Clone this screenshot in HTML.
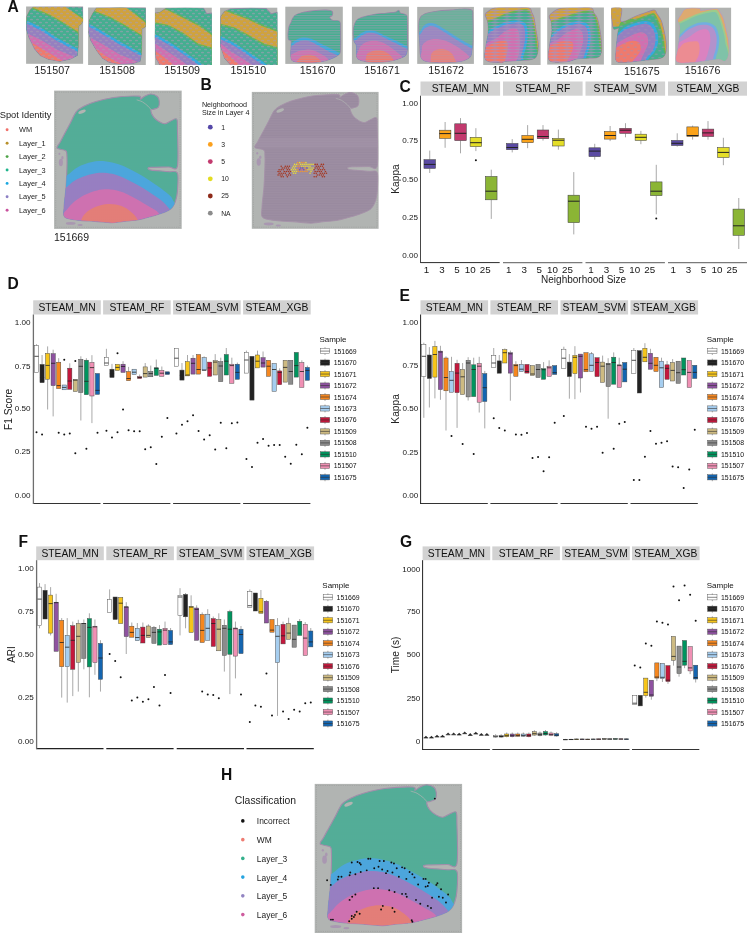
<!DOCTYPE html>
<html lang="en"><head><meta charset="utf-8"><title>Figure</title>
<style>html,body{margin:0;padding:0;background:#fff}body{width:747px;height:933px;overflow:hidden}svg{display:block}</style>
</head><body>
<svg width="747" height="933" viewBox="0 0 747 933" font-family='"Liberation Sans", sans-serif'>
<defs>
<pattern id="pdots" width="2" height="1.732" patternUnits="userSpaceOnUse"><g fill="#A394AC" opacity="0.42"><circle cx="0" cy="0" r="0.45"/><circle cx="2" cy="0" r="0.45"/><circle cx="1" cy="0.866" r="0.45"/><circle cx="0" cy="1.732" r="0.45"/><circle cx="2" cy="1.732" r="0.45"/></g></pattern>
<pattern id="pdotsB" width="2" height="1.7" patternUnits="userSpaceOnUse"><rect x="0" y="0" width="2" height="0.5" fill="#B0A2B4" opacity="0.3"/></pattern>
<pattern id="meshA" width="6" height="6" patternUnits="userSpaceOnUse"><ellipse cx="1.5" cy="1.5" rx="1.55" ry="0.85" fill="#A89CB6"/><ellipse cx="4.5" cy="4.5" rx="1.55" ry="0.85" fill="#A89CB6"/></pattern>
<pattern id="meshC" width="7" height="7" patternUnits="userSpaceOnUse"><ellipse cx="1.75" cy="1.75" rx="1.7" ry="0.8" fill="#A290B4"/><ellipse cx="5.25" cy="5.25" rx="1.7" ry="0.8" fill="#A290B4"/></pattern>
<pattern id="stripe3" width="12" height="3" patternUnits="userSpaceOnUse"><path d="M0 0.9 Q3 0.2 6 0.9 T12 0.9 V2.1 Q9 1.4 6 2.1 T0 2.1Z" fill="#A894BC"/></pattern>
<pattern id="stripe25" width="4" height="2.5" patternUnits="userSpaceOnUse"><rect x="0" y="0" width="4" height="1.0" fill="#AA9CB6"/></pattern>
</defs>
<text x="7.4" y="12.3" font-size="15.6" fill="#111" font-weight="bold">A</text>
<text x="200.4" y="89.9" font-size="15.6" fill="#111" font-weight="bold">B</text>
<text x="399.6" y="91.5" font-size="15.6" fill="#111" font-weight="bold">C</text>
<text x="7.4" y="288.7" font-size="15.6" fill="#111" font-weight="bold">D</text>
<text x="399.4" y="300.7" font-size="15.6" fill="#111" font-weight="bold">E</text>
<text x="18.6" y="546.5" font-size="15.6" fill="#111" font-weight="bold">F</text>
<text x="400" y="547" font-size="15.6" fill="#111" font-weight="bold">G</text>
<text x="221" y="779.9" font-size="15.6" fill="#111" font-weight="bold">H</text>
<rect x="26.1" y="6.5" width="57" height="57.3" fill="#B0B2B0"/>
<clipPath id="tc1"><path d="M33.13 7.32 L57.2 6.99 L82.51 7.32 L83.09 20.6 L81.26 23.92 L78.77 25.74 L78.36 28.9 L78.11 47.15 L77.11 55.45 L70.47 58.94 L59.68 61.26 L48.07 58.94 L40.6 55.45 L34.79 48.81 L28.98 37.2 L26.49 28.9 L26.9 16.45 L29.81 10.64Z"/></clipPath>
<clipPath id="tc1f"><rect x="26.1" y="6.5" width="57" height="57.3"/></clipPath>
<g clip-path="url(#tc1f)">
<path d="M33.13 7.32 L57.2 6.99 L82.51 7.32 L83.09 20.6 L81.26 23.92 L78.77 25.74 L78.36 28.9 L78.11 47.15 L77.11 55.45 L70.47 58.94 L59.68 61.26 L48.07 58.94 L40.6 55.45 L34.79 48.81 L28.98 37.2 L26.49 28.9 L26.9 16.45 L29.81 10.64Z" fill="#45AE90" stroke="#9A86A8" stroke-width="1.2"/>
<g clip-path="url(#tc1)">
<path d="M33.13 7.32 L57.2 6.99 L82.51 7.32 L83.09 20.6 L81.26 23.92 L78.77 25.74 L78.36 28.9 L78.11 47.15 L77.11 55.45 L70.47 58.94 L59.68 61.26 L48.07 58.94 L40.6 55.45 L34.79 48.81 L28.98 37.2 L26.49 28.9 L26.9 16.45 L29.81 10.64Z" fill="#45AE90"/>
<path d="M61.76 5.66 L82.09 16.45 L87.07 19.77 L87.07 67.07 L22.34 67.07 L22.34 5.66Z" fill="#62B45A"/>
<path d="M63.83 5.66 L82.09 18.52 L87.07 21.84 L87.07 67.07 L22.34 67.07 L22.34 5.66Z" fill="#CFA23E"/>
<path d="M28.98 6.49 L38.94 9.98 L51.39 15.62 L63.83 22.67 L77.94 31.8 L87.07 37.2 L87.07 67.07 L22.34 67.07 L22.34 5.66Z" fill="#62B45A"/>
<path d="M27.32 7.32 L38.94 11.63 L51.39 17.28 L63.83 24.33 L77.94 33.46 L87.07 38.85 L87.07 67.07 L22.34 67.07Z" fill="#45AE90"/>
<path d="M22.34 18.94 L27.73 21.01 L40.6 27.24 L57.2 38.02 L76.28 47.98 L87.07 53.79 L87.07 67.07 L22.34 67.07Z" fill="#35A9DF"/>
<path d="M22.34 21.84 L27.73 23.92 L40.6 30.14 L57.2 40.93 L76.28 50.89 L87.07 56.7 L87.07 67.07 L22.34 67.07Z" fill="#9580C0"/>
<path d="M22.34 31.39 L27.32 33.46 L40.6 39.68 L57.2 49.64 L77.11 57.94 L87.07 62.09 L87.07 67.07 L22.34 67.07Z" fill="#D070B0"/>
<path d="M27.32 40.51 L33.13 43.42 L44.75 50.47 L59.68 59.19 L70.47 65.41 L70.47 67.07 L22.34 67.07Z" fill="#EE7A6E"/>
<rect x="26.1" y="6.5" width="57" height="57.3" fill="url(#meshA)" opacity="0.6"/>
</g></g>
<rect x="88.1" y="7.5" width="57.7" height="57.5" fill="#B0B2B0"/>
<clipPath id="tc2"><path d="M96.37 8.15 L120.85 7.82 L145.75 8.15 L145.75 26.41 L141.77 28.9 L141.35 53.79 L139.94 61.26 L132.47 63.42 L119.2 63.92 L109.24 62.09 L102.6 57.94 L96.79 50.47 L90.98 40.51 L88.9 33.05 L89.32 20.6 L92.64 13.96Z"/></clipPath>
<clipPath id="tc2f"><rect x="88.1" y="7.5" width="57.7" height="57.5"/></clipPath>
<g clip-path="url(#tc2f)">
<path d="M96.37 8.15 L120.85 7.82 L145.75 8.15 L145.75 26.41 L141.77 28.9 L141.35 53.79 L139.94 61.26 L132.47 63.42 L119.2 63.92 L109.24 62.09 L102.6 57.94 L96.79 50.47 L90.98 40.51 L88.9 33.05 L89.32 20.6 L92.64 13.96Z" fill="#45AE90" stroke="#9A86A8" stroke-width="1.2"/>
<g clip-path="url(#tc2)">
<path d="M96.37 8.15 L120.85 7.82 L145.75 8.15 L145.75 26.41 L141.77 28.9 L141.35 53.79 L139.94 61.26 L132.47 63.42 L119.2 63.92 L109.24 62.09 L102.6 57.94 L96.79 50.47 L90.98 40.51 L88.9 33.05 L89.32 20.6 L92.64 13.96Z" fill="#45AE90"/>
<path d="M122.51 6.49 L135.79 13.13 L144.09 19.77 L149.07 23.92 L149.07 67.07 L84.34 67.07 L84.34 6.49Z" fill="#62B45A"/>
<path d="M124.59 6.49 L135.79 14.79 L144.09 21.59 L149.07 25.74 L149.07 67.07 L84.34 67.07 L84.34 6.49Z" fill="#CFA23E"/>
<path d="M90.98 8.98 L96.79 11.63 L110.9 17.28 L125.83 25.58 L141.19 34.71 L149.07 39.68 L149.07 67.07 L84.34 67.07 L84.34 6.49Z" fill="#62B45A"/>
<path d="M90.98 10.64 L96.79 13.29 L110.9 18.94 L125.83 27.24 L141.19 36.37 L149.07 41.34 L149.07 67.07 L84.34 67.07 L84.34 8.98Z" fill="#45AE90"/>
<path d="M84.34 21.43 L90.15 24.33 L102.6 31.39 L119.2 41.34 L140.77 52.96 L149.07 57.94 L149.07 67.07 L84.34 67.07Z" fill="#35A9DF"/>
<path d="M84.34 24.33 L90.15 27.24 L102.6 34.29 L119.2 44.25 L140.77 55.87 L149.07 60.85 L149.07 67.07 L84.34 67.07Z" fill="#9580C0"/>
<path d="M84.34 34.71 L90.15 37.61 L102.6 44.25 L119.2 54.21 L139.11 62.51 L149.07 67.07 L149.07 67.07 L84.34 67.07Z" fill="#D070B0"/>
<path d="M90.98 45.49 L96.79 49.23 L106.75 56.7 L119.2 63.09 L127.49 67.07 L84.34 67.07Z" fill="#EE7A6E"/>
<rect x="88.1" y="7.5" width="57.7" height="57.5" fill="url(#meshA)" opacity="0.6"/>
</g></g>
<rect x="154.9" y="7.7" width="56.9" height="57.3" fill="#B0B2B0"/>
<clipPath id="tc3"><path d="M166.11 8.32 L185.2 7.82 L203.45 8.32 L206.77 13.96 L211.92 13.13 L211.92 65.41 L160.3 65.41 L156.15 57.94 L154.74 37.2 L155.32 13.13 L160.3 12.3Z"/></clipPath>
<clipPath id="tc3f"><rect x="154.9" y="7.7" width="56.9" height="57.3"/></clipPath>
<g clip-path="url(#tc3f)">
<path d="M166.11 8.32 L185.2 7.82 L203.45 8.32 L206.77 13.96 L211.92 13.13 L211.92 65.41 L160.3 65.41 L156.15 57.94 L154.74 37.2 L155.32 13.13 L160.3 12.3Z" fill="#45AE90" stroke="#9A86A8" stroke-width="1.2"/>
<g clip-path="url(#tc3)">
<path d="M166.11 8.32 L185.2 7.82 L203.45 8.32 L206.77 13.96 L211.92 13.13 L211.92 65.41 L160.3 65.41 L156.15 57.94 L154.74 37.2 L155.32 13.13 L160.3 12.3Z" fill="#45AE90"/>
<path d="M150.34 2.34 L168.6 9.15 L185.2 17.28 L198.47 23.92 L215.07 35.54 L215.07 67.07 L150.34 67.07Z" fill="#62B45A"/>
<path d="M150.34 4 L168.6 10.8 L185.2 18.94 L198.47 25.74 L215.07 37.36 L215.07 67.07 L150.34 67.07Z" fill="#CFA23E"/>
<path d="M150.34 21.84 L156.15 22.42 L168.6 24.91 L183.54 33.05 L198.47 43.83 L215.07 48.4 L215.07 67.07 L150.34 67.07Z" fill="#62B45A"/>
<path d="M150.34 23.5 L156.15 24.08 L168.6 26.57 L183.54 34.87 L198.47 45.49 L215.07 50.06 L215.07 67.07 L150.34 67.07Z" fill="#45AE90"/>
<path d="M150.34 32.22 L156.15 34.87 L168.6 41.51 L183.54 51.3 L198.47 61.43 L205.11 67.07 L150.34 67.07Z" fill="#35A9DF"/>
<path d="M150.34 35.12 L156.15 37.78 L168.6 44.41 L183.54 54.37 L196.81 63.75 L200.96 67.07 L150.34 67.07Z" fill="#9580C0"/>
<path d="M150.34 40.51 L155.32 43.83 L168.6 52.13 L181.05 60.43 L187.68 65.41 L189.34 67.07 L150.34 67.07Z" fill="#D070B0"/>
<path d="M150.34 47.98 L156.98 52.13 L168.6 60.43 L173.58 65 L175.24 67.07 L150.34 67.07Z" fill="#EE7A6E"/>
<rect x="154.9" y="7.7" width="56.9" height="57.3" fill="url(#meshA)" opacity="0.6"/>
</g></g>
<rect x="220.1" y="7.7" width="57.2" height="57.3" fill="#B0B2B0"/>
<clipPath id="tc4"><path d="M230.45 8.98 L251.2 8.15 L266.13 8.65 L271.11 13.96 L277.75 12.3 L277.75 65.41 L231.28 65.41 L224.64 57.94 L220.49 45.49 L220.9 16.45 L224.64 11.47Z"/></clipPath>
<clipPath id="tc4f"><rect x="220.1" y="7.7" width="57.2" height="57.3"/></clipPath>
<g clip-path="url(#tc4f)">
<path d="M230.45 8.98 L251.2 8.15 L266.13 8.65 L271.11 13.96 L277.75 12.3 L277.75 65.41 L231.28 65.41 L224.64 57.94 L220.49 45.49 L220.9 16.45 L224.64 11.47Z" fill="#45AE90" stroke="#9A86A8" stroke-width="1.2"/>
<g clip-path="url(#tc4)">
<path d="M230.45 8.98 L251.2 8.15 L266.13 8.65 L271.11 13.96 L277.75 12.3 L277.75 65.41 L231.28 65.41 L224.64 57.94 L220.49 45.49 L220.9 16.45 L224.64 11.47Z" fill="#45AE90"/>
<path d="M216.34 5.66 L231.28 11.47 L247.05 17.28 L261.15 23.92 L281.07 31.39 L281.07 67.07 L216.34 67.07Z" fill="#62B45A"/>
<path d="M216.34 7.32 L231.28 13.29 L247.05 19.1 L261.15 25.74 L281.07 33.21 L281.07 67.07 L216.34 67.07Z" fill="#CFA23E"/>
<path d="M216.34 23.25 L221.32 24.08 L234.6 27.4 L249.54 35.54 L264.47 43.83 L281.07 47.98 L281.07 67.07 L216.34 67.07Z" fill="#62B45A"/>
<path d="M216.34 25.08 L221.32 25.91 L234.6 29.23 L249.54 37.36 L264.47 45.66 L281.07 49.81 L281.07 67.07 L216.34 67.07Z" fill="#45AE90"/>
<path d="M216.34 33.88 L221.32 36.53 L234.6 43.17 L249.54 52.96 L262.81 61.43 L269.45 67.07 L216.34 67.07Z" fill="#35A9DF"/>
<path d="M216.34 36.78 L221.32 39.44 L234.6 46.07 L249.54 56.03 L261.15 63.75 L265.3 67.07 L216.34 67.07Z" fill="#9580C0"/>
<path d="M216.34 40.51 L220.9 43.83 L230.45 51.3 L242.9 58.77 L252.85 65.41 L254.51 67.07 L216.34 67.07Z" fill="#D070B0"/>
<path d="M216.34 46.32 L222.15 50.47 L230.45 57.11 L239.58 65 L241.24 67.07 L216.34 67.07Z" fill="#EE7A6E"/>
<rect x="220.1" y="7.7" width="57.2" height="57.3" fill="url(#meshA)" opacity="0.6"/>
</g></g>
<rect x="285.3" y="6.7" width="57.5" height="57.2" fill="#B0B2B0"/>
<clipPath id="tc5"><path d="M296.28 14.79 C298.08 13.82 300.43 12.99 303.75 12.3 C307.07 11.61 312.46 10.98 316.2 10.64 C319.93 10.29 323.53 10.09 326.15 10.22 C328.78 10.36 330.99 10.57 331.96 11.47 C332.93 12.37 332.38 14.65 331.96 15.62 C331.55 16.59 329.33 16.45 329.47 17.28 C329.61 18.11 331.13 19.91 332.79 20.6 C334.45 21.29 338.19 20.04 339.43 21.43 C340.68 22.81 340.12 24.06 340.26 28.9 C340.4 33.74 340.54 46.19 340.26 50.47 C339.98 54.76 339.85 53.38 338.6 54.62 C337.36 55.87 335.42 56.84 332.79 57.94 C330.16 59.05 326.29 60.5 322.83 61.26 C319.38 62.02 315.92 62.37 312.05 62.51 C308.17 62.64 302.92 62.44 299.6 62.09 C296.28 61.75 293.58 61.81 292.13 60.43 C290.68 59.05 291.02 56.97 290.88 53.79 C290.75 50.61 291.71 43.83 291.3 41.34 C290.88 38.85 288.81 41.07 288.39 38.85 C287.98 36.64 288.33 30.83 288.81 28.07 C289.29 25.3 290.61 23.92 291.3 22.26 C291.99 20.6 292.13 19.35 292.96 18.11 C293.79 16.86 294.48 15.76 296.28 14.79Z"/></clipPath>
<clipPath id="tc5f"><rect x="285.3" y="6.7" width="57.5" height="57.2"/></clipPath>
<g clip-path="url(#tc5f)">
<path d="M296.28 14.79 C298.08 13.82 300.43 12.99 303.75 12.3 C307.07 11.61 312.46 10.98 316.2 10.64 C319.93 10.29 323.53 10.09 326.15 10.22 C328.78 10.36 330.99 10.57 331.96 11.47 C332.93 12.37 332.38 14.65 331.96 15.62 C331.55 16.59 329.33 16.45 329.47 17.28 C329.61 18.11 331.13 19.91 332.79 20.6 C334.45 21.29 338.19 20.04 339.43 21.43 C340.68 22.81 340.12 24.06 340.26 28.9 C340.4 33.74 340.54 46.19 340.26 50.47 C339.98 54.76 339.85 53.38 338.6 54.62 C337.36 55.87 335.42 56.84 332.79 57.94 C330.16 59.05 326.29 60.5 322.83 61.26 C319.38 62.02 315.92 62.37 312.05 62.51 C308.17 62.64 302.92 62.44 299.6 62.09 C296.28 61.75 293.58 61.81 292.13 60.43 C290.68 59.05 291.02 56.97 290.88 53.79 C290.75 50.61 291.71 43.83 291.3 41.34 C290.88 38.85 288.81 41.07 288.39 38.85 C287.98 36.64 288.33 30.83 288.81 28.07 C289.29 25.3 290.61 23.92 291.3 22.26 C291.99 20.6 292.13 19.35 292.96 18.11 C293.79 16.86 294.48 15.76 296.28 14.79Z" fill="#45AE90" stroke="#9A86A8" stroke-width="1.2"/>
<g clip-path="url(#tc5)">
<path d="M296.28 14.79 C298.08 13.82 300.43 12.99 303.75 12.3 C307.07 11.61 312.46 10.98 316.2 10.64 C319.93 10.29 323.53 10.09 326.15 10.22 C328.78 10.36 330.99 10.57 331.96 11.47 C332.93 12.37 332.38 14.65 331.96 15.62 C331.55 16.59 329.33 16.45 329.47 17.28 C329.61 18.11 331.13 19.91 332.79 20.6 C334.45 21.29 338.19 20.04 339.43 21.43 C340.68 22.81 340.12 24.06 340.26 28.9 C340.4 33.74 340.54 46.19 340.26 50.47 C339.98 54.76 339.85 53.38 338.6 54.62 C337.36 55.87 335.42 56.84 332.79 57.94 C330.16 59.05 326.29 60.5 322.83 61.26 C319.38 62.02 315.92 62.37 312.05 62.51 C308.17 62.64 302.92 62.44 299.6 62.09 C296.28 61.75 293.58 61.81 292.13 60.43 C290.68 59.05 291.02 56.97 290.88 53.79 C290.75 50.61 291.71 43.83 291.3 41.34 C290.88 38.85 288.81 41.07 288.39 38.85 C287.98 36.64 288.33 30.83 288.81 28.07 C289.29 25.3 290.61 23.92 291.3 22.26 C291.99 20.6 292.13 19.35 292.96 18.11 C293.79 16.86 294.48 15.76 296.28 14.79Z" fill="#45AE90"/>
<path d="M281.34 47.15 C282.83 43.54 289.06 44.12 291.3 43 C293.54 41.88 294.54 40.49 296.28 39.68 C298.02 38.88 300.68 37.73 302.92 37.61 C305.16 37.49 308.48 37.92 311.22 38.85 C313.95 39.79 318.19 42.34 321.17 43.83 C324.16 45.33 328.39 47.44 331.13 48.81 C333.87 50.18 337.19 51.97 339.43 52.96 C341.67 53.96 345.07 53.34 346.07 55.45 C347.07 57.57 355.78 65.33 346.07 67.07 C336.36 68.81 291.05 70.06 281.34 67.07 C271.63 64.08 279.85 50.76 281.34 47.15Z" fill="#35A9DF"/>
<path d="M281.34 50.47 C282.83 47.36 288.93 47.54 291.3 46.32 C293.66 45.1 295.24 43.21 297.11 42.34 C298.98 41.47 301.63 40.6 303.75 40.51 C305.86 40.43 308.73 40.83 311.22 41.76 C313.71 42.69 317.48 45.18 320.34 46.74 C323.21 48.29 327.63 50.85 330.3 52.13 C332.98 53.41 335.82 54.41 338.19 55.29 C340.55 56.16 344.89 56.17 346.07 57.94 C347.25 59.71 355.78 65.7 346.07 67.07 C336.36 68.44 291.05 69.56 281.34 67.07 C271.63 64.58 279.85 53.59 281.34 50.47Z" fill="#9580C0"/>
<path d="M281.34 58.77 C282.83 56.9 288.81 55.74 291.3 54.62 C293.79 53.5 295.7 52.05 297.94 51.3 C300.18 50.56 303.75 49.74 306.24 49.64 C308.73 49.54 312.17 49.89 314.54 50.64 C316.9 51.39 320.01 53.4 322 54.62 C324 55.84 326.2 56.9 327.81 58.77 C329.43 60.64 339.76 65.83 332.79 67.07 C325.82 68.32 289.06 68.32 281.34 67.07 C273.62 65.83 279.85 60.64 281.34 58.77Z" fill="#D070B0"/>
<path d="M295.45 67.07 C291.71 66.2 296.24 62.85 297.11 61.26 C297.98 59.67 299.64 57.42 301.26 56.45 C302.88 55.48 305.9 54.86 307.9 54.79 C309.89 54.71 312.67 55.1 314.54 55.95 C316.4 56.8 319.22 58.76 320.34 60.43 C321.46 62.1 325.74 66.07 322 67.07 C318.27 68.07 299.18 67.94 295.45 67.07Z" fill="#EE7A6E"/>
<rect x="285.3" y="6.7" width="57.5" height="57.2" fill="url(#stripe25)" opacity="0.55"/>
</g></g>
<rect x="351.9" y="6.7" width="57" height="57.2" fill="#B0B2B0"/>
<clipPath id="tc6"><path d="M361.45 17.69 C364.35 16.7 369.75 15.36 373.9 14.62 C378.05 13.89 382.75 13.68 386.34 13.29 C389.94 12.91 393.4 12.77 395.47 12.3 C397.55 11.83 397.96 10.31 398.79 10.47 C399.62 10.64 399.21 12.51 400.45 13.29 C401.7 14.08 405.15 13.85 406.26 15.2 C407.37 16.56 406.9 16.38 407.09 21.43 C407.28 26.48 407.42 40.65 407.42 45.49 C407.42 50.33 407.42 48.81 407.09 50.47 C406.76 52.13 406.81 54.07 405.43 55.45 C404.05 56.84 401.56 57.8 398.79 58.77 C396.03 59.74 392.98 60.71 388.83 61.26 C384.68 61.81 378.46 62.23 373.9 62.09 C369.33 61.95 364.28 61.26 361.45 60.43 C358.61 59.6 357.71 59.6 356.88 57.11 C356.05 54.62 356.95 48.26 356.47 45.49 C355.98 42.73 354.46 43.28 353.98 40.51 C353.5 37.75 353.15 32.22 353.56 28.9 C353.98 25.58 355.15 22.46 356.47 20.6 C357.78 18.73 358.54 18.69 361.45 17.69Z"/></clipPath>
<clipPath id="tc6f"><rect x="351.9" y="6.7" width="57" height="57.2"/></clipPath>
<g clip-path="url(#tc6f)">
<path d="M361.45 17.69 C364.35 16.7 369.75 15.36 373.9 14.62 C378.05 13.89 382.75 13.68 386.34 13.29 C389.94 12.91 393.4 12.77 395.47 12.3 C397.55 11.83 397.96 10.31 398.79 10.47 C399.62 10.64 399.21 12.51 400.45 13.29 C401.7 14.08 405.15 13.85 406.26 15.2 C407.37 16.56 406.9 16.38 407.09 21.43 C407.28 26.48 407.42 40.65 407.42 45.49 C407.42 50.33 407.42 48.81 407.09 50.47 C406.76 52.13 406.81 54.07 405.43 55.45 C404.05 56.84 401.56 57.8 398.79 58.77 C396.03 59.74 392.98 60.71 388.83 61.26 C384.68 61.81 378.46 62.23 373.9 62.09 C369.33 61.95 364.28 61.26 361.45 60.43 C358.61 59.6 357.71 59.6 356.88 57.11 C356.05 54.62 356.95 48.26 356.47 45.49 C355.98 42.73 354.46 43.28 353.98 40.51 C353.5 37.75 353.15 32.22 353.56 28.9 C353.98 25.58 355.15 22.46 356.47 20.6 C357.78 18.73 358.54 18.69 361.45 17.69Z" fill="#45AE90" stroke="#9A86A8" stroke-width="1.2"/>
<g clip-path="url(#tc6)">
<path d="M361.45 17.69 C364.35 16.7 369.75 15.36 373.9 14.62 C378.05 13.89 382.75 13.68 386.34 13.29 C389.94 12.91 393.4 12.77 395.47 12.3 C397.55 11.83 397.96 10.31 398.79 10.47 C399.62 10.64 399.21 12.51 400.45 13.29 C401.7 14.08 405.15 13.85 406.26 15.2 C407.37 16.56 406.9 16.38 407.09 21.43 C407.28 26.48 407.42 40.65 407.42 45.49 C407.42 50.33 407.42 48.81 407.09 50.47 C406.76 52.13 406.81 54.07 405.43 55.45 C404.05 56.84 401.56 57.8 398.79 58.77 C396.03 59.74 392.98 60.71 388.83 61.26 C384.68 61.81 378.46 62.23 373.9 62.09 C369.33 61.95 364.28 61.26 361.45 60.43 C358.61 59.6 357.71 59.6 356.88 57.11 C356.05 54.62 356.95 48.26 356.47 45.49 C355.98 42.73 354.46 43.28 353.98 40.51 C353.5 37.75 353.15 32.22 353.56 28.9 C353.98 25.58 355.15 22.46 356.47 20.6 C357.78 18.73 358.54 18.69 361.45 17.69Z" fill="#45AE90"/>
<path d="M347.34 43.83 C348.71 39.35 354.35 38.81 356.47 37.2 C358.59 35.58 359.71 34.04 361.45 33.05 C363.19 32.05 365.85 30.8 368.09 30.56 C370.33 30.31 373.65 30.51 376.39 31.39 C379.12 32.26 383.23 34.87 386.34 36.37 C389.46 37.86 394.02 39.85 397.13 41.34 C400.24 42.84 404.85 45.2 407.09 46.32 C409.33 47.44 411.32 45.7 412.07 48.81 C412.82 51.93 421.78 64.33 412.07 67.07 C402.36 69.81 357.05 70.56 347.34 67.07 C337.63 63.59 345.97 48.32 347.34 43.83Z" fill="#35A9DF"/>
<path d="M347.34 46.32 C348.71 42.24 354.23 41.51 356.47 39.85 C358.71 38.2 360.41 36.34 362.28 35.29 C364.15 34.23 366.8 33.05 368.92 32.8 C371.03 32.55 373.9 32.82 376.39 33.63 C378.88 34.44 382.53 36.7 385.51 38.19 C388.5 39.68 393.19 42.03 396.3 43.59 C399.41 45.14 403.9 47.41 406.26 48.56 C408.63 49.72 411.2 48.53 412.07 51.3 C412.94 54.08 421.78 64.71 412.07 67.07 C402.36 69.44 357.05 70.18 347.34 67.07 C337.63 63.96 345.97 50.41 347.34 46.32Z" fill="#9580C0"/>
<path d="M347.34 62.09 C348.77 60.1 355.02 56.03 356.88 53.79 C358.75 51.55 358.48 48.87 359.79 47.15 C361.1 45.44 363.48 43.31 365.6 42.34 C367.71 41.37 371.41 40.68 373.9 40.68 C376.39 40.68 379.71 41.34 382.2 42.34 C384.68 43.34 388 45.6 390.49 47.32 C392.98 49.04 397.05 52.32 398.79 53.79 C400.54 55.26 400.87 55.12 402.11 57.11 C403.36 59.1 415.31 65.58 407.09 67.07 C398.88 68.56 356.3 67.82 347.34 67.07 C338.38 66.32 345.91 64.08 347.34 62.09Z" fill="#D070B0"/>
<path d="M364.77 67.07 C360.29 66.07 365.22 62.42 365.6 60.43 C365.97 58.44 366.01 55.26 367.26 53.79 C368.5 52.32 371.66 51.11 373.9 50.64 C376.14 50.17 379.95 50.14 382.2 50.64 C384.44 51.14 387.09 52.49 388.83 53.96 C390.58 55.43 392.82 58.46 393.81 60.43 C394.81 62.4 399.83 66.07 395.47 67.07 C391.12 68.07 369.25 68.07 364.77 67.07Z" fill="#EE7A6E"/>
<rect x="351.9" y="6.7" width="57" height="57.2" fill="url(#stripe25)" opacity="0.55"/>
</g></g>
<rect x="417.2" y="6.9" width="56.7" height="57" fill="#B0B2B0"/>
<clipPath id="tc7"><path d="M424.79 13.96 C427.97 12.64 434.47 11.68 438.9 11.05 C443.32 10.43 447.89 10.51 451.34 10.22 C454.8 9.93 456.32 9.35 459.64 9.31 C462.96 9.27 469.1 8.79 471.26 9.98 C473.42 11.16 472.34 11.22 472.59 16.45 C472.84 21.68 472.89 35.67 472.76 41.34 C472.62 47.02 472.15 47.98 471.76 50.47 C471.37 52.96 471.76 54.62 470.43 56.28 C469.1 57.94 466.97 59.46 463.79 60.43 C460.61 61.4 456.19 61.81 451.34 62.09 C446.5 62.37 439.31 62.37 434.75 62.09 C430.18 61.81 426.31 61.54 423.96 60.43 C421.61 59.33 421.33 58.63 420.64 55.45 C419.95 52.27 420.09 45.77 419.81 41.34 C419.53 36.92 418.98 32.63 418.98 28.9 C418.98 25.16 418.84 21.43 419.81 18.94 C420.78 16.45 421.61 15.27 424.79 13.96Z"/></clipPath>
<clipPath id="tc7f"><rect x="417.2" y="6.9" width="56.7" height="57"/></clipPath>
<g clip-path="url(#tc7f)">
<path d="M424.79 13.96 C427.97 12.64 434.47 11.68 438.9 11.05 C443.32 10.43 447.89 10.51 451.34 10.22 C454.8 9.93 456.32 9.35 459.64 9.31 C462.96 9.27 469.1 8.79 471.26 9.98 C473.42 11.16 472.34 11.22 472.59 16.45 C472.84 21.68 472.89 35.67 472.76 41.34 C472.62 47.02 472.15 47.98 471.76 50.47 C471.37 52.96 471.76 54.62 470.43 56.28 C469.1 57.94 466.97 59.46 463.79 60.43 C460.61 61.4 456.19 61.81 451.34 62.09 C446.5 62.37 439.31 62.37 434.75 62.09 C430.18 61.81 426.31 61.54 423.96 60.43 C421.61 59.33 421.33 58.63 420.64 55.45 C419.95 52.27 420.09 45.77 419.81 41.34 C419.53 36.92 418.98 32.63 418.98 28.9 C418.98 25.16 418.84 21.43 419.81 18.94 C420.78 16.45 421.61 15.27 424.79 13.96Z" fill="#6BB09B" stroke="#9A86A8" stroke-width="1.2"/>
<g clip-path="url(#tc7)">
<path d="M424.79 13.96 C427.97 12.64 434.47 11.68 438.9 11.05 C443.32 10.43 447.89 10.51 451.34 10.22 C454.8 9.93 456.32 9.35 459.64 9.31 C462.96 9.27 469.1 8.79 471.26 9.98 C473.42 11.16 472.34 11.22 472.59 16.45 C472.84 21.68 472.89 35.67 472.76 41.34 C472.62 47.02 472.15 47.98 471.76 50.47 C471.37 52.96 471.76 54.62 470.43 56.28 C469.1 57.94 466.97 59.46 463.79 60.43 C460.61 61.4 456.19 61.81 451.34 62.09 C446.5 62.37 439.31 62.37 434.75 62.09 C430.18 61.81 426.31 61.54 423.96 60.43 C421.61 59.33 421.33 58.63 420.64 55.45 C419.95 52.27 420.09 45.77 419.81 41.34 C419.53 36.92 418.98 32.63 418.98 28.9 C418.98 25.16 418.84 21.43 419.81 18.94 C420.78 16.45 421.61 15.27 424.79 13.96Z" fill="#6BB09B"/>
<path d="M412.34 38.85 C413.52 33.5 418.61 33.25 420.22 31.39 C421.84 29.52 421.82 27.65 423.13 26.41 C424.44 25.16 427.07 23.46 428.94 23.09 C430.8 22.71 433.09 22.92 435.58 23.92 C438.07 24.91 442.3 27.73 445.54 29.73 C448.77 31.72 453.92 35.2 457.15 37.2 C460.39 39.19 464.87 41.76 467.11 43 C469.35 44.25 470.6 44.75 472.09 45.49 C473.59 46.24 476.32 44.75 477.07 47.98 C477.82 51.22 486.78 64.21 477.07 67.07 C467.36 69.93 422.05 71.3 412.34 67.07 C402.63 62.84 411.16 44.21 412.34 38.85Z" fill="#4FA6DE"/>
<path d="M412.34 41.34 C413.59 36.39 418.9 35.88 420.64 34.04 C422.38 32.2 422.59 30.26 423.96 29.06 C425.33 27.87 428.02 26.4 429.77 26.07 C431.51 25.75 433.21 25.91 435.58 26.9 C437.94 27.9 442.3 30.72 445.54 32.71 C448.77 34.71 453.92 38.19 457.15 40.18 C460.39 42.17 464.93 44.75 467.11 45.99 C469.29 47.24 470.18 47.68 471.68 48.48 C473.17 49.28 476.26 48.51 477.07 51.3 C477.88 54.09 486.78 64.71 477.07 67.07 C467.36 69.44 422.05 70.93 412.34 67.07 C402.63 63.21 411.1 46.3 412.34 41.34Z" fill="#9A86C2"/>
<path d="M412.34 62.09 C413.65 60.1 419.56 56.28 421.05 53.79 C422.55 51.3 421.37 47.46 422.3 45.49 C423.23 43.53 425.29 41.65 427.28 40.68 C429.27 39.71 432.84 39.02 435.58 39.02 C438.32 39.02 442.55 39.68 445.54 40.68 C448.52 41.68 452.76 44.04 455.49 45.66 C458.23 47.28 461.68 49.75 463.79 51.47 C465.91 53.19 467.86 54.77 469.6 57.11 C471.34 59.45 484 65.58 475.41 67.07 C466.82 68.56 421.8 67.82 412.34 67.07 C402.88 66.32 411.03 64.08 412.34 62.09Z" fill="#CE7AB4"/>
<path d="M429.77 67.07 C425.78 66.2 430.35 63.25 430.6 61.26 C430.85 59.27 430.56 55.51 431.43 53.79 C432.3 52.07 434.54 50.48 436.41 49.81 C438.27 49.14 441.63 48.84 443.88 49.31 C446.12 49.78 449.6 51.29 451.34 52.96 C453.09 54.63 454.62 58.32 455.49 60.43 C456.37 62.55 461.01 66.07 457.15 67.07 C453.29 68.07 433.75 67.94 429.77 67.07Z" fill="#E8827C"/>
<rect x="417.2" y="6.9" width="56.7" height="57" fill="url(#stripe25)" opacity="0.3"/>
</g></g>
<rect x="483.2" y="7.5" width="57.4" height="57.5" fill="#B0B2B0"/>
<clipPath id="tc8"><path d="M494.94 8.15 C499.09 7.54 507.52 7.82 513.2 7.82 C518.87 7.82 525.92 7.4 528.96 8.15 C532.01 8.9 530.62 10.64 531.45 12.3 C532.28 13.96 533.25 15.34 533.94 18.11 C534.63 20.87 534.91 24.61 535.6 28.9 C536.29 33.18 537.81 39.68 538.09 43.83 C538.37 47.98 537.81 51.44 537.26 53.79 C536.71 56.14 536.02 56.97 534.77 57.94 C533.53 58.91 532.7 59.19 529.79 59.6 C526.89 60.02 521.49 60.15 517.34 60.43 C513.2 60.71 507.66 60.93 504.9 61.26 C502.13 61.59 503.93 62.67 500.75 62.42 C497.57 62.17 488.23 62.59 485.81 59.77 C483.39 56.95 485.81 49.95 486.22 45.49 C486.64 41.04 488.02 36.92 488.3 33.05 C488.58 29.17 488.37 25.3 487.88 22.26 C487.4 19.21 485.33 16.59 485.39 14.79 C485.46 12.99 486.71 12.58 488.3 11.47 C489.89 10.36 490.79 8.76 494.94 8.15Z"/></clipPath>
<clipPath id="tc8f"><rect x="483.2" y="7.5" width="57.4" height="57.5"/></clipPath>
<g clip-path="url(#tc8f)">
<path d="M494.94 8.15 C499.09 7.54 507.52 7.82 513.2 7.82 C518.87 7.82 525.92 7.4 528.96 8.15 C532.01 8.9 530.62 10.64 531.45 12.3 C532.28 13.96 533.25 15.34 533.94 18.11 C534.63 20.87 534.91 24.61 535.6 28.9 C536.29 33.18 537.81 39.68 538.09 43.83 C538.37 47.98 537.81 51.44 537.26 53.79 C536.71 56.14 536.02 56.97 534.77 57.94 C533.53 58.91 532.7 59.19 529.79 59.6 C526.89 60.02 521.49 60.15 517.34 60.43 C513.2 60.71 507.66 60.93 504.9 61.26 C502.13 61.59 503.93 62.67 500.75 62.42 C497.57 62.17 488.23 62.59 485.81 59.77 C483.39 56.95 485.81 49.95 486.22 45.49 C486.64 41.04 488.02 36.92 488.3 33.05 C488.58 29.17 488.37 25.3 487.88 22.26 C487.4 19.21 485.33 16.59 485.39 14.79 C485.46 12.99 486.71 12.58 488.3 11.47 C489.89 10.36 490.79 8.76 494.94 8.15Z" fill="#CFA23E" stroke="#9A86A8" stroke-width="1.2"/>
<g clip-path="url(#tc8)">
<path d="M494.94 8.15 C499.09 7.54 507.52 7.82 513.2 7.82 C518.87 7.82 525.92 7.4 528.96 8.15 C532.01 8.9 530.62 10.64 531.45 12.3 C532.28 13.96 533.25 15.34 533.94 18.11 C534.63 20.87 534.91 24.61 535.6 28.9 C536.29 33.18 537.81 39.68 538.09 43.83 C538.37 47.98 537.81 51.44 537.26 53.79 C536.71 56.14 536.02 56.97 534.77 57.94 C533.53 58.91 532.7 59.19 529.79 59.6 C526.89 60.02 521.49 60.15 517.34 60.43 C513.2 60.71 507.66 60.93 504.9 61.26 C502.13 61.59 503.93 62.67 500.75 62.42 C497.57 62.17 488.23 62.59 485.81 59.77 C483.39 56.95 485.81 49.95 486.22 45.49 C486.64 41.04 488.02 36.92 488.3 33.05 C488.58 29.17 488.37 25.3 487.88 22.26 C487.4 19.21 485.33 16.59 485.39 14.79 C485.46 12.99 486.71 12.58 488.3 11.47 C489.89 10.36 490.79 8.76 494.94 8.15Z" fill="#CFA23E"/>
<path d="M478.34 23.92 C479.71 16.95 484.73 21.57 487.47 20.6 C490.21 19.63 493.36 18.69 496.6 17.44 C499.83 16.2 505.56 13.44 509.05 12.3 C512.53 11.15 516.85 10.12 519.83 9.81 C522.82 9.5 526.97 8.61 528.96 10.22 C530.95 11.84 532.12 17.17 533.11 20.6 C534.11 24.02 534.98 29.31 535.6 33.05 C536.22 36.78 536.89 40.39 537.26 45.49 C537.63 50.6 546.93 63.83 538.09 67.07 C529.25 70.31 487.3 73.54 478.34 67.07 C469.38 60.6 476.97 30.89 478.34 23.92Z" fill="#62B45A"/>
<path d="M478.34 25.58 C479.71 18.88 484.73 23.34 487.47 22.42 C490.21 21.5 493.36 20.66 496.6 19.44 C499.83 18.22 505.56 15.41 509.05 14.29 C512.53 13.17 517.03 12.27 519.83 11.97 C522.63 11.67 525.98 11 527.72 12.3 C529.46 13.59 530.52 17.49 531.45 20.6 C532.39 23.71 533.34 29.31 533.94 33.05 C534.54 36.78 535.12 40.39 535.44 45.49 C535.75 50.6 544.58 63.83 536.02 67.07 C527.45 70.31 486.99 73.29 478.34 67.07 C469.69 60.85 476.97 32.27 478.34 25.58Z" fill="#45AE90"/>
<path d="M478.34 35.54 C479.83 30.08 485.56 32.19 488.3 30.72 C491.04 29.25 493.49 27.16 496.6 25.74 C499.71 24.32 505.56 22.01 509.05 21.26 C512.53 20.51 517.22 20.24 519.83 20.76 C522.45 21.29 525.29 22.28 526.47 24.75 C527.66 27.21 527.78 33.83 527.72 37.2 C527.66 40.56 526.74 44.17 526.06 47.15 C525.37 50.14 523.84 54.12 523.15 57.11 C522.47 60.1 528.22 65.58 521.49 67.07 C514.77 68.56 484.81 71.8 478.34 67.07 C471.87 62.34 476.85 40.99 478.34 35.54Z" fill="#35A9DF"/>
<path d="M478.34 38.02 C479.83 32.97 485.56 34.82 488.3 33.38 C491.04 31.93 493.49 29.82 496.6 28.4 C499.71 26.98 505.68 24.66 509.05 23.92 C512.41 23.17 516.76 22.98 519 23.42 C521.24 23.85 523.05 24.76 523.98 26.82 C524.92 28.89 525.29 34.15 525.23 37.2 C525.17 40.24 524.25 44.17 523.57 47.15 C522.88 50.14 521.35 54.12 520.66 57.11 C519.98 60.1 525.35 65.58 519 67.07 C512.66 68.56 484.44 71.43 478.34 67.07 C472.24 62.71 476.85 43.08 478.34 38.02Z" fill="#9580C0"/>
<path d="M478.34 47.15 C479.65 43.54 484.32 44.37 487.05 43 C489.79 41.63 493.92 39.77 496.6 38.02 C499.27 36.28 502.41 32.88 504.9 31.39 C507.39 29.89 511.2 28.19 513.2 28.07 C515.19 27.94 517.18 28.56 518.17 30.56 C519.17 32.55 519.71 37.86 519.83 41.34 C519.96 44.83 519.5 50.93 519 53.79 C518.51 56.66 517.01 58.44 516.51 60.43 C516.02 62.42 521.41 66.07 515.68 67.07 C509.96 68.07 483.94 70.06 478.34 67.07 C472.74 64.08 477.03 50.76 478.34 47.15Z" fill="#D070B0"/>
<path d="M478.34 50.47 C479.59 47.49 484.15 48.37 486.64 47.15 C489.13 45.93 491.95 43.21 494.94 42.34 C497.93 41.47 504.66 40.12 506.56 41.34 C508.45 42.56 507.8 47.49 507.55 50.47 C507.3 53.46 505.42 58.77 504.9 61.26 C504.37 63.75 508.05 66.2 504.07 67.07 C500.08 67.94 482.2 69.56 478.34 67.07 C474.48 64.58 477.1 53.46 478.34 50.47Z" fill="#EE7A6E"/>
<rect x="483.2" y="7.5" width="57.4" height="57.5" fill="url(#stripe3)" opacity="0.8"/>
</g></g>
<rect x="547.2" y="7.5" width="56.7" height="57.1" fill="#B0B2B0"/>
<clipPath id="tc9"><path d="M560.6 8.56 C564.61 7.85 572.08 8.05 577.2 7.98 C582.31 7.91 588.54 7.29 591.3 8.15 C594.07 9.01 592.82 11.47 593.79 13.13 C594.76 14.79 596.14 15.48 597.11 18.11 C598.08 20.74 598.91 25.02 599.6 28.9 C600.29 32.77 600.98 37.47 601.26 41.34 C601.54 45.22 601.81 49.5 601.26 52.13 C600.71 54.76 599.88 56.14 597.94 57.11 C596.01 58.08 593.1 57.67 589.64 57.94 C586.19 58.22 580.93 58.19 577.2 58.77 C573.46 59.35 571.8 61.12 567.24 61.43 C562.67 61.73 552.71 63.25 549.81 60.6 C546.9 57.94 549.46 50.09 549.81 45.49 C550.15 40.9 551.61 36.92 551.88 33.05 C552.16 29.17 551.88 25.02 551.47 22.26 C551.05 19.49 549.12 18.11 549.39 16.45 C549.67 14.79 551.26 13.61 553.13 12.3 C555 10.98 556.59 9.28 560.6 8.56Z"/></clipPath>
<clipPath id="tc9f"><rect x="547.2" y="7.5" width="56.7" height="57.1"/></clipPath>
<g clip-path="url(#tc9f)">
<path d="M560.6 8.56 C564.61 7.85 572.08 8.05 577.2 7.98 C582.31 7.91 588.54 7.29 591.3 8.15 C594.07 9.01 592.82 11.47 593.79 13.13 C594.76 14.79 596.14 15.48 597.11 18.11 C598.08 20.74 598.91 25.02 599.6 28.9 C600.29 32.77 600.98 37.47 601.26 41.34 C601.54 45.22 601.81 49.5 601.26 52.13 C600.71 54.76 599.88 56.14 597.94 57.11 C596.01 58.08 593.1 57.67 589.64 57.94 C586.19 58.22 580.93 58.19 577.2 58.77 C573.46 59.35 571.8 61.12 567.24 61.43 C562.67 61.73 552.71 63.25 549.81 60.6 C546.9 57.94 549.46 50.09 549.81 45.49 C550.15 40.9 551.61 36.92 551.88 33.05 C552.16 29.17 551.88 25.02 551.47 22.26 C551.05 19.49 549.12 18.11 549.39 16.45 C549.67 14.79 551.26 13.61 553.13 12.3 C555 10.98 556.59 9.28 560.6 8.56Z" fill="#CFA23E" stroke="#9A86A8" stroke-width="1.2"/>
<g clip-path="url(#tc9)">
<path d="M560.6 8.56 C564.61 7.85 572.08 8.05 577.2 7.98 C582.31 7.91 588.54 7.29 591.3 8.15 C594.07 9.01 592.82 11.47 593.79 13.13 C594.76 14.79 596.14 15.48 597.11 18.11 C598.08 20.74 598.91 25.02 599.6 28.9 C600.29 32.77 600.98 37.47 601.26 41.34 C601.54 45.22 601.81 49.5 601.26 52.13 C600.71 54.76 599.88 56.14 597.94 57.11 C596.01 58.08 593.1 57.67 589.64 57.94 C586.19 58.22 580.93 58.19 577.2 58.77 C573.46 59.35 571.8 61.12 567.24 61.43 C562.67 61.73 552.71 63.25 549.81 60.6 C546.9 57.94 549.46 50.09 549.81 45.49 C550.15 40.9 551.61 36.92 551.88 33.05 C552.16 29.17 551.88 25.02 551.47 22.26 C551.05 19.49 549.12 18.11 549.39 16.45 C549.67 14.79 551.26 13.61 553.13 12.3 C555 10.98 556.59 9.28 560.6 8.56Z" fill="#CFA23E"/>
<path d="M542.34 23.92 C543.71 16.97 548.11 21.86 551.47 20.76 C554.83 19.67 560.64 17.93 564.75 16.61 C568.85 15.29 574.75 12.81 578.85 11.97 C582.96 11.12 589.39 9.68 592.13 10.97 C594.87 12.27 595.97 17.29 597.11 20.6 C598.26 23.91 599.15 29.31 599.77 33.05 C600.39 36.78 600.91 40.39 601.26 45.49 C601.61 50.6 610.93 63.83 602.09 67.07 C593.25 70.31 551.3 73.54 542.34 67.07 C533.38 60.6 540.97 30.86 542.34 23.92Z" fill="#62B45A"/>
<path d="M542.34 25.74 C543.71 19.07 548.11 23.66 551.47 22.59 C554.83 21.52 560.64 19.9 564.75 18.61 C568.85 17.31 575 14.8 578.85 13.96 C582.71 13.11 588.03 11.97 590.47 12.96 C592.91 13.96 594.02 17.59 595.12 20.6 C596.22 23.61 597.15 29.31 597.78 33.05 C598.4 36.78 598.97 40.39 599.27 45.49 C599.57 50.6 608.31 63.83 599.77 67.07 C591.23 70.31 550.95 73.27 542.34 67.07 C533.73 60.87 540.97 32.41 542.34 25.74Z" fill="#45AE90"/>
<path d="M542.34 38.85 C543.83 33.9 549.81 35.63 552.3 34.04 C554.79 32.45 556.45 29.85 558.94 28.23 C561.43 26.61 565.91 24.35 568.9 23.25 C571.88 22.16 575.99 20.71 578.85 20.93 C581.72 21.15 586.17 22.56 587.98 24.75 C589.8 26.94 590.75 32.17 590.97 35.54 C591.2 38.9 590.17 43.92 589.48 47.15 C588.78 50.39 587.05 54.12 586.32 57.11 C585.6 60.1 591.26 65.58 584.66 67.07 C578.07 68.56 548.69 71.3 542.34 67.07 C535.99 62.84 540.85 43.81 542.34 38.85Z" fill="#35A9DF"/>
<path d="M542.34 41.34 C543.83 36.79 549.81 38.27 552.3 36.7 C554.79 35.13 556.45 32.51 558.94 30.89 C561.43 29.27 565.91 26.98 568.9 25.91 C571.88 24.84 576.3 23.58 578.85 23.75 C581.41 23.93 584.49 25.3 585.91 27.07 C587.33 28.84 588.18 32.52 588.32 35.54 C588.45 38.55 587.52 43.92 586.82 47.15 C586.12 50.39 584.37 54.12 583.67 57.11 C582.97 60.1 588.37 65.58 582.17 67.07 C575.98 68.56 548.32 70.93 542.34 67.07 C536.37 63.21 540.85 45.9 542.34 41.34Z" fill="#9580C0"/>
<path d="M542.34 47.15 C543.59 43.54 548.15 44.25 550.64 43 C553.13 41.76 556.45 40.47 558.94 38.85 C561.43 37.24 564.5 33.71 567.24 32.22 C569.98 30.72 574.95 28.9 577.2 28.9 C579.44 28.9 581.28 30.35 582.17 32.22 C583.07 34.08 583.42 38.61 583.17 41.34 C582.92 44.08 581.41 47.86 580.51 50.47 C579.62 53.09 577.82 56.28 577.2 58.77 C576.57 61.26 581.59 65.83 576.37 67.07 C571.14 68.32 547.44 70.06 542.34 67.07 C537.24 64.08 541.1 50.76 542.34 47.15Z" fill="#D070B0"/>
<path d="M542.34 48.81 C543.59 45.58 547.9 46.59 550.64 45.49 C553.38 44.4 557.36 42.01 560.6 41.51 C563.83 41.01 570.45 40.83 572.22 42.17 C573.98 43.52 573.13 47.61 572.38 50.47 C571.63 53.34 568.13 58.77 567.24 61.26 C566.34 63.75 570.14 66.2 566.41 67.07 C562.67 67.94 545.95 69.81 542.34 67.07 C538.73 64.33 541.1 52.05 542.34 48.81Z" fill="#EE7A6E"/>
<rect x="547.2" y="7.5" width="56.7" height="57.1" fill="url(#stripe3)" opacity="0.8"/>
</g></g>
<rect x="611.3" y="7.7" width="57.7" height="57.3" fill="#B0B2B0"/>
<clipPath id="tc10"><path d="M611.32 8.98 C612.84 6.97 619.76 6.63 621.28 8.56 C622.8 10.5 619.89 18.45 620.45 20.6 C621 22.74 622.11 22.12 624.6 21.43 C627.09 20.74 631.65 17.97 635.39 16.45 C639.12 14.93 643.82 13.34 647 12.3 C650.19 11.26 652.81 9.95 654.47 10.22 C656.13 10.5 655.86 12.23 656.96 13.96 C658.07 15.69 659.87 17.42 661.11 20.6 C662.36 23.78 663.6 29.17 664.43 33.05 C665.26 36.92 665.95 40.38 666.09 43.83 C666.23 47.29 666.09 51.44 665.26 53.79 C664.43 56.14 663.74 56.97 661.11 57.94 C658.48 58.91 654.2 59.02 649.49 59.6 C644.79 60.18 638.29 61.12 632.9 61.43 C627.5 61.73 619.89 63.39 617.13 61.43 C614.36 59.46 616.16 54.37 616.3 49.64 C616.44 44.91 617.54 36.64 617.96 33.05 C618.37 29.45 619.48 28.76 618.79 28.07 C618.1 27.37 614.92 30.14 613.81 28.9 C612.7 27.65 612.56 23.92 612.15 20.6 C611.73 17.28 609.8 10.98 611.32 8.98Z"/></clipPath>
<clipPath id="tc10f"><rect x="611.3" y="7.7" width="57.7" height="57.3"/></clipPath>
<g clip-path="url(#tc10f)">
<path d="M611.32 8.98 C612.84 6.97 619.76 6.63 621.28 8.56 C622.8 10.5 619.89 18.45 620.45 20.6 C621 22.74 622.11 22.12 624.6 21.43 C627.09 20.74 631.65 17.97 635.39 16.45 C639.12 14.93 643.82 13.34 647 12.3 C650.19 11.26 652.81 9.95 654.47 10.22 C656.13 10.5 655.86 12.23 656.96 13.96 C658.07 15.69 659.87 17.42 661.11 20.6 C662.36 23.78 663.6 29.17 664.43 33.05 C665.26 36.92 665.95 40.38 666.09 43.83 C666.23 47.29 666.09 51.44 665.26 53.79 C664.43 56.14 663.74 56.97 661.11 57.94 C658.48 58.91 654.2 59.02 649.49 59.6 C644.79 60.18 638.29 61.12 632.9 61.43 C627.5 61.73 619.89 63.39 617.13 61.43 C614.36 59.46 616.16 54.37 616.3 49.64 C616.44 44.91 617.54 36.64 617.96 33.05 C618.37 29.45 619.48 28.76 618.79 28.07 C618.1 27.37 614.92 30.14 613.81 28.9 C612.7 27.65 612.56 23.92 612.15 20.6 C611.73 17.28 609.8 10.98 611.32 8.98Z" fill="#CFA23E" stroke="#9A86A8" stroke-width="1.2"/>
<g clip-path="url(#tc10)">
<path d="M611.32 8.98 C612.84 6.97 619.76 6.63 621.28 8.56 C622.8 10.5 619.89 18.45 620.45 20.6 C621 22.74 622.11 22.12 624.6 21.43 C627.09 20.74 631.65 17.97 635.39 16.45 C639.12 14.93 643.82 13.34 647 12.3 C650.19 11.26 652.81 9.95 654.47 10.22 C656.13 10.5 655.86 12.23 656.96 13.96 C658.07 15.69 659.87 17.42 661.11 20.6 C662.36 23.78 663.6 29.17 664.43 33.05 C665.26 36.92 665.95 40.38 666.09 43.83 C666.23 47.29 666.09 51.44 665.26 53.79 C664.43 56.14 663.74 56.97 661.11 57.94 C658.48 58.91 654.2 59.02 649.49 59.6 C644.79 60.18 638.29 61.12 632.9 61.43 C627.5 61.73 619.89 63.39 617.13 61.43 C614.36 59.46 616.16 54.37 616.3 49.64 C616.44 44.91 617.54 36.64 617.96 33.05 C618.37 29.45 619.48 28.76 618.79 28.07 C618.1 27.37 614.92 30.14 613.81 28.9 C612.7 27.65 612.56 23.92 612.15 20.6 C611.73 17.28 609.8 10.98 611.32 8.98Z" fill="#CFA23E"/>
<path d="M619.62 67.07 C612.77 60.66 617 31.6 619.62 24.33 C622.23 17.06 632.32 20.21 637.05 18.61 C641.78 17 648.41 14.2 651.15 13.63 C653.89 13.05 653.93 13 655.3 14.79 C656.67 16.58 659.04 21.97 660.28 25.58 C661.53 29.19 662.93 35.62 663.6 38.85 C664.27 42.09 664.51 42.92 664.76 47.15 C665.01 51.39 672.03 64.08 665.26 67.07 C658.49 70.06 626.46 73.48 619.62 67.07Z" fill="#62B45A"/>
<path d="M606.34 30.56 C608.33 24.43 615.01 27.76 619.62 26.24 C624.22 24.72 632.44 22 637.05 20.43 C641.65 18.86 647.76 16.31 650.32 15.78 C652.89 15.26 652.9 15.35 654.14 16.95 C655.39 18.54 657.48 23.12 658.62 26.41 C659.77 29.69 661.15 35.74 661.78 38.85 C662.4 41.97 662.57 42.92 662.77 47.15 C662.97 51.39 671.57 64.08 663.1 67.07 C654.64 70.06 614.85 72.55 606.34 67.07 C597.83 61.59 604.35 36.68 606.34 30.56Z" fill="#45AE90"/>
<path d="M606.34 38.85 C608.15 33.65 615.63 34.1 618.37 32.38 C621.11 30.66 622.17 28.77 624.6 27.4 C627.02 26.03 631.44 24.2 634.56 23.25 C637.67 22.31 642.54 20.97 645.34 21.1 C648.15 21.22 651.36 22.17 653.23 24.08 C655.1 26 657.11 30.91 657.79 33.88 C658.48 36.84 658.29 41.1 657.79 43.83 C657.29 46.57 655.84 49.89 654.47 52.13 C653.1 54.37 649.78 56.53 648.66 58.77 C647.54 61.01 653.35 65.83 647 67.07 C640.66 68.32 612.44 71.3 606.34 67.07 C600.24 62.84 604.54 44.06 606.34 38.85Z" fill="#35A9DF"/>
<path d="M606.34 41.34 C608.15 36.54 615.63 36.73 618.37 35.04 C621.11 33.34 622.17 31.43 624.6 30.06 C627.02 28.69 631.51 26.85 634.56 25.91 C637.61 24.96 642.44 23.68 644.93 23.75 C647.42 23.83 649.62 24.83 651.15 26.41 C652.68 27.99 654.54 31.68 655.14 34.29 C655.73 36.9 655.61 41.22 655.14 43.83 C654.66 46.45 653.33 49.53 651.98 51.72 C650.64 53.91 647.29 56.14 646.17 58.44 C645.05 60.74 650.49 65.78 644.51 67.07 C638.54 68.37 612.07 70.93 606.34 67.07 C600.61 63.21 604.54 46.15 606.34 41.34Z" fill="#9580C0"/>
<path d="M606.34 48.81 C608.02 45.2 614.8 44.5 617.54 43 C620.28 41.51 622.29 40.1 624.6 38.85 C626.9 37.61 630.41 35.7 632.9 34.71 C635.39 33.71 639.08 32.09 641.2 32.22 C643.31 32.34 645.98 33.79 647 35.54 C648.02 37.28 648.37 41.34 648 43.83 C647.63 46.32 645.54 49.77 644.51 52.13 C643.49 54.5 641.82 57.36 641.2 59.6 C640.57 61.84 645.59 65.95 640.37 67.07 C635.14 68.19 611.44 69.81 606.34 67.07 C601.24 64.33 604.66 52.42 606.34 48.81Z" fill="#D070B0"/>
<path d="M606.34 50.47 C607.96 47.49 614.39 48.27 617.13 47.15 C619.87 46.03 622.23 43.98 624.6 43 C626.96 42.03 630.66 40.68 632.9 40.68 C635.14 40.68 638.39 41.54 639.54 43 C640.68 44.47 641.03 48.36 640.53 50.47 C640.03 52.59 637.36 55.49 636.22 57.11 C635.07 58.73 633.52 59.77 632.9 61.26 C632.27 62.76 636.05 66.2 632.07 67.07 C628.08 67.94 610.2 69.56 606.34 67.07 C602.48 64.58 604.72 53.46 606.34 50.47Z" fill="#EE7A6E"/>
<rect x="611.3" y="7.7" width="57.7" height="57.3" fill="url(#meshC)" opacity="0.55"/>
</g></g>
<rect x="675.2" y="7.7" width="55.9" height="57.3" fill="#B0B2B0"/>
<clipPath id="tc11"><path d="M686.11 8.98 C689.15 7.94 696.9 8.29 699.39 8.56 C701.88 8.84 698.28 10.57 701.05 10.64 C703.81 10.71 712.94 8.84 715.98 8.98 C719.03 9.12 718.06 9.81 719.3 11.47 C720.55 13.13 722.35 16.03 723.45 18.94 C724.56 21.84 725.11 25.16 725.94 28.9 C726.77 32.63 728.02 37.2 728.43 41.34 C728.85 45.49 728.98 50.56 728.43 53.79 C727.88 57.03 726.77 59.91 725.11 60.76 C723.45 61.62 721.79 58.97 718.47 58.94 C715.15 58.91 709.48 60.04 705.2 60.6 C700.91 61.15 697.45 62.12 692.75 62.26 C688.04 62.4 679.47 63.53 676.98 61.43 C674.49 59.33 677.39 53.68 677.81 49.64 C678.22 45.6 679.12 41.21 679.47 37.2 C679.81 33.18 680.16 28.34 679.88 25.58 C679.61 22.81 677.6 22.4 677.81 20.6 C678.02 18.8 679.75 16.72 681.13 14.79 C682.51 12.85 683.07 10.02 686.11 8.98Z"/></clipPath>
<clipPath id="tc11f"><rect x="675.2" y="7.7" width="55.9" height="57.3"/></clipPath>
<g clip-path="url(#tc11f)">
<path d="M686.11 8.98 C689.15 7.94 696.9 8.29 699.39 8.56 C701.88 8.84 698.28 10.57 701.05 10.64 C703.81 10.71 712.94 8.84 715.98 8.98 C719.03 9.12 718.06 9.81 719.3 11.47 C720.55 13.13 722.35 16.03 723.45 18.94 C724.56 21.84 725.11 25.16 725.94 28.9 C726.77 32.63 728.02 37.2 728.43 41.34 C728.85 45.49 728.98 50.56 728.43 53.79 C727.88 57.03 726.77 59.91 725.11 60.76 C723.45 61.62 721.79 58.97 718.47 58.94 C715.15 58.91 709.48 60.04 705.2 60.6 C700.91 61.15 697.45 62.12 692.75 62.26 C688.04 62.4 679.47 63.53 676.98 61.43 C674.49 59.33 677.39 53.68 677.81 49.64 C678.22 45.6 679.12 41.21 679.47 37.2 C679.81 33.18 680.16 28.34 679.88 25.58 C679.61 22.81 677.6 22.4 677.81 20.6 C678.02 18.8 679.75 16.72 681.13 14.79 C682.51 12.85 683.07 10.02 686.11 8.98Z" fill="#DDAA70" stroke="#B6A0BC" stroke-width="1.2"/>
<g clip-path="url(#tc11)">
<path d="M686.11 8.98 C689.15 7.94 696.9 8.29 699.39 8.56 C701.88 8.84 698.28 10.57 701.05 10.64 C703.81 10.71 712.94 8.84 715.98 8.98 C719.03 9.12 718.06 9.81 719.3 11.47 C720.55 13.13 722.35 16.03 723.45 18.94 C724.56 21.84 725.11 25.16 725.94 28.9 C726.77 32.63 728.02 37.2 728.43 41.34 C728.85 45.49 728.98 50.56 728.43 53.79 C727.88 57.03 726.77 59.91 725.11 60.76 C723.45 61.62 721.79 58.97 718.47 58.94 C715.15 58.91 709.48 60.04 705.2 60.6 C700.91 61.15 697.45 62.12 692.75 62.26 C688.04 62.4 679.47 63.53 676.98 61.43 C674.49 59.33 677.39 53.68 677.81 49.64 C678.22 45.6 679.12 41.21 679.47 37.2 C679.81 33.18 680.16 28.34 679.88 25.58 C679.61 22.81 677.6 22.4 677.81 20.6 C678.02 18.8 679.75 16.72 681.13 14.79 C682.51 12.85 683.07 10.02 686.11 8.98Z" fill="#DDAA70"/>
<path d="M670.34 24.75 C671.83 17.95 677.56 22.83 680.3 21.76 C683.04 20.69 686.11 18.78 688.6 17.61 C691.09 16.44 694.16 14.93 696.9 13.96 C699.63 12.99 703.87 11.68 706.85 11.14 C709.84 10.59 714.7 9.14 716.81 10.31 C718.93 11.48 719.87 16.15 720.96 18.94 C722.06 21.73 723.24 25.54 724.12 28.9 C724.99 32.26 726.32 35.62 726.77 41.34 C727.22 47.07 735.57 63.21 727.1 67.07 C718.64 70.93 678.85 73.42 670.34 67.07 C661.83 60.72 668.85 31.54 670.34 24.75Z" fill="#9CCB8C"/>
<path d="M670.34 26.41 C671.83 19.86 677.56 24.46 680.3 23.42 C683.04 22.37 686.11 20.58 688.6 19.44 C691.09 18.29 694.16 16.76 696.9 15.78 C699.63 14.81 704.04 13.49 706.85 12.96 C709.67 12.44 713.76 11.33 715.65 12.3 C717.54 13.27 718.45 16.95 719.47 19.44 C720.49 21.93 721.61 25.61 722.46 28.9 C723.3 32.18 724.66 35.62 725.11 41.34 C725.56 47.07 733.66 63.21 725.44 67.07 C717.23 70.93 678.61 73.17 670.34 67.07 C662.07 60.97 668.85 32.95 670.34 26.41Z" fill="#7FC2A8"/>
<path d="M670.34 40.51 C671.77 35.68 677.39 36.71 679.88 34.87 C682.37 33.03 684.39 29.98 686.94 28.23 C689.49 26.49 693.78 24.12 696.9 23.25 C700.01 22.38 704.9 21.93 707.68 22.42 C710.47 22.92 713.77 24.36 715.49 26.57 C717.2 28.79 718.71 33.86 719.14 37.2 C719.56 40.53 718.8 45.7 718.31 48.81 C717.81 51.93 716.29 55.2 715.82 57.94 C715.34 60.68 721.98 65.7 715.15 67.07 C708.33 68.44 677.06 71.05 670.34 67.07 C663.62 63.09 668.91 45.34 670.34 40.51Z" fill="#72AEE0"/>
<path d="M670.34 43 C671.77 38.55 677.39 39.2 679.88 37.36 C682.37 35.52 684.39 32.46 686.94 30.72 C689.49 28.98 693.86 26.61 696.9 25.74 C699.93 24.87 704.7 24.49 707.19 24.91 C709.68 25.34 712.07 26.67 713.49 28.56 C714.91 30.46 716.3 34.49 716.65 37.53 C717 40.56 716.32 45.78 715.82 48.81 C715.32 51.85 713.8 55.04 713.33 57.78 C712.85 60.51 719.11 65.68 712.66 67.07 C706.22 68.46 676.69 70.68 670.34 67.07 C663.99 63.46 668.91 47.46 670.34 43Z" fill="#B292CC"/>
<path d="M670.34 47.15 C671.71 43.42 676.73 43.67 679.47 42.17 C682.21 40.68 685.98 38.81 688.6 37.2 C691.21 35.58 694.41 32.63 696.9 31.39 C699.39 30.14 703.33 28.77 705.2 28.9 C707.06 29.02 708.57 30.35 709.34 32.22 C710.12 34.08 710.59 38.11 710.34 41.34 C710.09 44.58 708.46 50.93 707.68 53.79 C706.91 56.66 705.63 58.44 705.2 60.43 C704.76 62.42 710.01 66.07 704.78 67.07 C699.55 68.07 675.51 70.06 670.34 67.07 C665.17 64.08 668.97 50.89 670.34 47.15Z" fill="#DA82C0"/>
<path d="M670.34 53.79 C671.59 51.05 676.52 50.43 678.64 48.81 C680.76 47.2 681.71 44.12 684.45 43 C687.19 41.88 694.63 40.72 696.9 41.34 C699.16 41.97 699.3 45.04 699.55 47.15 C699.8 49.27 699.2 53.21 698.56 55.45 C697.91 57.69 695.8 60.35 695.24 62.09 C694.68 63.83 698.56 66.32 694.82 67.07 C691.09 67.82 674.01 69.06 670.34 67.07 C666.67 65.08 669.1 56.53 670.34 53.79Z" fill="#EC8C92"/>
</g></g>
<text x="52.2" y="73.9" font-size="10.7" fill="#222" text-anchor="middle">151507</text>
<text x="117" y="73.9" font-size="10.7" fill="#222" text-anchor="middle">151508</text>
<text x="182.2" y="74.4" font-size="10.7" fill="#222" text-anchor="middle">151509</text>
<text x="248.3" y="74" font-size="10.7" fill="#222" text-anchor="middle">151510</text>
<text x="317.7" y="73.9" font-size="10.7" fill="#222" text-anchor="middle">151670</text>
<text x="382.1" y="73.9" font-size="10.7" fill="#222" text-anchor="middle">151671</text>
<text x="446.2" y="74.2" font-size="10.7" fill="#222" text-anchor="middle">151672</text>
<text x="510.3" y="74.2" font-size="10.7" fill="#222" text-anchor="middle">151673</text>
<text x="574.4" y="73.6" font-size="10.7" fill="#222" text-anchor="middle">151674</text>
<text x="641.8" y="74.5" font-size="10.7" fill="#222" text-anchor="middle">151675</text>
<text x="702.6" y="73.5" font-size="10.7" fill="#222" text-anchor="middle">151676</text>
<text x="-0.3" y="118" font-size="9.3" fill="#222">Spot Identity</text>
<circle cx="7.1" cy="129.8" r="1.45" fill="#F0706A"/>
<text x="19" y="132.4" font-size="7.4" fill="#222">WM</text>
<circle cx="7.1" cy="143.2" r="1.45" fill="#B8902B"/>
<text x="19" y="145.8" font-size="7.4" fill="#222">Layer_1</text>
<circle cx="7.1" cy="156.6" r="1.45" fill="#4DA346"/>
<text x="19" y="159.2" font-size="7.4" fill="#222">Layer_2</text>
<circle cx="7.1" cy="170" r="1.45" fill="#1FB48C"/>
<text x="19" y="172.6" font-size="7.4" fill="#222">Layer_3</text>
<circle cx="7.1" cy="183.4" r="1.45" fill="#1AA7E0"/>
<text x="19" y="186" font-size="7.4" fill="#222">Layer_4</text>
<circle cx="7.1" cy="196.8" r="1.45" fill="#8C7FC4"/>
<text x="19" y="199.4" font-size="7.4" fill="#222">Layer_5</text>
<circle cx="7.1" cy="210.2" r="1.45" fill="#C9529E"/>
<text x="19" y="212.8" font-size="7.4" fill="#222">Layer_6</text>
<rect x="54.1" y="90.6" width="127.6" height="138.3" fill="#B1B4B2"/>
<rect x="55.7" y="92.2" width="124.4" height="135.1" fill="none" stroke="#8f918f" stroke-width="0.8" stroke-dasharray="0.7 1.1" opacity="0.7"/>
<clipPath id="mtA"><path d="M83.89 106.32 C86.72 104.86 90.68 103.14 95.2 101.82 C99.73 100.5 107.55 98.37 114.06 97.52 C120.56 96.67 134.61 95.92 138.56 96.15 C142.52 96.39 139.6 99.03 140.45 99.09 C141.3 99.14 142.66 97.31 144.22 96.54 C145.78 95.78 148.84 94 150.82 94 C152.8 94 156.14 95.43 157.42 96.54 C158.69 97.66 159.16 99.82 159.3 101.43 C159.44 103.05 159.21 106.13 158.36 107.3 C157.51 108.47 154.78 108.79 153.65 109.26 C152.52 109.73 150.82 109.26 150.82 110.43 C150.82 111.6 152.37 115.38 153.65 117.08 C154.92 118.78 157.61 120.78 159.3 121.77 C161 122.77 163.26 123.85 164.96 123.73 C166.65 123.61 168.86 121.7 170.61 120.99 C172.37 120.29 175.63 117.86 176.65 119.04 C177.66 120.21 177.29 121.72 177.4 128.82 C177.51 135.92 178.7 160.65 177.4 166.37 C176.1 172.09 172.72 166.81 168.73 166.96 C164.74 167.1 153.93 167.11 150.82 167.35 C147.71 167.58 147.91 168.11 147.99 168.52 C148.08 168.93 148.27 169.62 151.38 170.09 C154.49 170.55 164.83 171.21 168.73 171.65 C172.63 172.09 176.1 170.06 177.4 173.02 C178.7 175.98 177.68 187.18 177.4 191.41 C177.12 195.63 176.25 198.84 175.51 201.18 C174.78 203.53 173.52 205.7 172.5 207.05 C171.48 208.4 170.71 209.13 168.73 210.18 C166.75 211.24 162.13 213.1 159.3 214.09 C156.47 215.09 152.99 215.98 149.88 216.83 C146.77 217.68 142.52 219.09 138.56 219.77 C134.61 220.44 127.44 220.89 123.48 221.33 C119.52 221.77 116.41 222.7 112.17 222.7 C107.93 222.7 100.01 221.68 95.2 221.33 C90.4 220.98 84.65 220.97 80.12 220.35 C75.6 219.74 67.44 219.22 65.04 217.22 C62.64 215.23 63.96 211.51 64.1 207.05 C64.24 202.59 65.56 193.36 65.98 187.49 C66.41 181.63 66.78 172.63 66.93 167.93 C67.07 163.24 67.1 158.78 66.93 156.2 C66.76 153.62 67.27 151.92 65.79 150.72 C64.32 149.52 58 149.41 57.12 148.18 C56.25 146.95 59.07 144.24 59.95 142.51 C60.83 140.78 62.03 138.4 62.97 136.64 C63.9 134.88 65.07 132.83 66.17 130.77 C67.27 128.72 68.79 125.82 70.32 122.95 C71.85 120.07 74.32 114.1 76.35 111.6 C78.39 109.11 81.07 107.79 83.89 106.32Z"/></clipPath>
<clipPath id="mtAf"><rect x="54.1" y="90.6" width="127.6" height="138.3"/></clipPath>
<g clip-path="url(#mtAf)">
<path d="M83.89 106.32 C86.72 104.86 90.68 103.14 95.2 101.82 C99.73 100.5 107.55 98.37 114.06 97.52 C120.56 96.67 134.61 95.92 138.56 96.15 C142.52 96.39 139.6 99.03 140.45 99.09 C141.3 99.14 142.66 97.31 144.22 96.54 C145.78 95.78 148.84 94 150.82 94 C152.8 94 156.14 95.43 157.42 96.54 C158.69 97.66 159.16 99.82 159.3 101.43 C159.44 103.05 159.21 106.13 158.36 107.3 C157.51 108.47 154.78 108.79 153.65 109.26 C152.52 109.73 150.82 109.26 150.82 110.43 C150.82 111.6 152.37 115.38 153.65 117.08 C154.92 118.78 157.61 120.78 159.3 121.77 C161 122.77 163.26 123.85 164.96 123.73 C166.65 123.61 168.86 121.7 170.61 120.99 C172.37 120.29 175.63 117.86 176.65 119.04 C177.66 120.21 177.29 121.72 177.4 128.82 C177.51 135.92 178.7 160.65 177.4 166.37 C176.1 172.09 172.72 166.81 168.73 166.96 C164.74 167.1 153.93 167.11 150.82 167.35 C147.71 167.58 147.91 168.11 147.99 168.52 C148.08 168.93 148.27 169.62 151.38 170.09 C154.49 170.55 164.83 171.21 168.73 171.65 C172.63 172.09 176.1 170.06 177.4 173.02 C178.7 175.98 177.68 187.18 177.4 191.41 C177.12 195.63 176.25 198.84 175.51 201.18 C174.78 203.53 173.52 205.7 172.5 207.05 C171.48 208.4 170.71 209.13 168.73 210.18 C166.75 211.24 162.13 213.1 159.3 214.09 C156.47 215.09 152.99 215.98 149.88 216.83 C146.77 217.68 142.52 219.09 138.56 219.77 C134.61 220.44 127.44 220.89 123.48 221.33 C119.52 221.77 116.41 222.7 112.17 222.7 C107.93 222.7 100.01 221.68 95.2 221.33 C90.4 220.98 84.65 220.97 80.12 220.35 C75.6 219.74 67.44 219.22 65.04 217.22 C62.64 215.23 63.96 211.51 64.1 207.05 C64.24 202.59 65.56 193.36 65.98 187.49 C66.41 181.63 66.78 172.63 66.93 167.93 C67.07 163.24 67.1 158.78 66.93 156.2 C66.76 153.62 67.27 151.92 65.79 150.72 C64.32 149.52 58 149.41 57.12 148.18 C56.25 146.95 59.07 144.24 59.95 142.51 C60.83 140.78 62.03 138.4 62.97 136.64 C63.9 134.88 65.07 132.83 66.17 130.77 C67.27 128.72 68.79 125.82 70.32 122.95 C71.85 120.07 74.32 114.1 76.35 111.6 C78.39 109.11 81.07 107.79 83.89 106.32Z" fill="#47B094" stroke="#A28CAA" stroke-width="1.1"/>
<g clip-path="url(#mtA)">
<path d="M44.3 191.41 C47.64 182.02 61.74 179.28 66.55 175.76 C71.36 172.24 73.47 169.75 76.35 167.93 C79.24 166.12 82.38 164.66 85.78 163.63 C89.17 162.6 95.02 161.26 98.97 161.09 C102.93 160.91 108.5 161.72 112.17 162.46 C115.85 163.19 119.81 164.42 123.48 165.98 C127.16 167.53 132.72 170.62 136.68 172.82 C140.64 175.02 146.2 178.3 149.88 180.65 C153.55 182.99 158.08 186.12 161.19 188.47 C164.3 190.82 168.58 194.09 170.61 196.29 C172.65 198.5 171.65 198.59 174.76 203.14 C177.87 207.69 188.86 221.33 191.35 226.61 C193.84 231.89 213.41 236.59 191.35 238.35 C169.29 240.11 66.36 245.39 44.3 238.35 C22.25 231.31 40.97 200.79 44.3 191.41Z" fill="#3FA8E2"/>
<path d="M44.3 203.14 C47.56 195.51 61.46 190.87 65.98 187.49 C70.51 184.12 71.5 182.41 74.47 180.65 C77.44 178.89 82.1 176.93 85.78 175.76 C89.45 174.58 95.02 173.12 98.97 172.82 C102.93 172.53 108.5 173.07 112.17 173.8 C115.85 174.54 119.81 176.1 123.48 177.71 C127.16 179.33 132.72 182.36 136.68 184.56 C140.64 186.76 146.2 190.04 149.88 192.38 C153.55 194.73 158.36 197.86 161.19 200.21 C164.01 202.55 165.9 204.66 168.73 208.03 C171.56 211.4 176.65 218.15 180.04 222.7 C183.43 227.25 211.71 236 191.35 238.35 C170.99 240.69 66.36 243.63 44.3 238.35 C22.25 233.07 41.05 210.77 44.3 203.14Z" fill="#957BC4"/>
<path d="M44.3 230.52 C47.36 226.56 60.42 216.05 64.66 211.94 C68.91 207.83 69.7 205.63 72.58 203.14 C75.47 200.65 80.22 197.22 83.89 195.32 C87.57 193.41 93.13 191.31 97.09 190.43 C101.05 189.55 106.33 189.16 110.29 189.45 C114.25 189.74 119.52 190.92 123.48 192.38 C127.44 193.85 132.72 197.03 136.68 199.23 C140.64 201.43 146.48 204.85 149.88 207.05 C153.27 209.25 155.34 209.2 159.3 213.9 C163.26 218.59 193.52 234.68 176.27 238.35 C159.02 242.01 64.1 239.52 44.3 238.35 C24.51 237.17 41.25 234.48 44.3 230.52Z" fill="#D46CB0"/>
<path d="M76.35 238.35 C67.16 235.65 79.65 224.17 81.07 220.35 C82.48 216.54 83.66 214.92 85.78 212.92 C87.9 210.93 91.81 208.37 95.2 207.05 C98.6 205.73 104.44 204.27 108.4 204.12 C112.36 203.97 118.2 204.9 121.6 206.07 C124.99 207.25 128.62 209.89 131.02 211.94 C133.43 214 135.93 215.81 137.62 219.77 C139.32 223.73 151.53 235.56 142.33 238.35 C133.14 241.13 85.54 241.05 76.35 238.35Z" fill="#EC7A70"/>
<rect x="54.1" y="90.6" width="127.6" height="138.3" fill="url(#pdots)"/>
</g>
<ellipse cx="82.01" cy="111.8" rx="3.96" ry="1.56" fill="#B1B4B2" transform="rotate(-22 82.01 111.8)"/>
<path d="M136.68 99.87 C137.62 100.19 140.45 100.78 142.33 101.82 C144.22 102.87 146.48 104.76 147.99 106.13 C149.5 107.5 150.82 109.39 151.38 110.04" fill="none" stroke="#B1B4B2" stroke-width="0.9" opacity="0.8"/>
<ellipse cx="60.89" cy="162.46" rx="2.07" ry="3.72" fill="#A78EB0" opacity="0.75"/>
<ellipse cx="62.4" cy="157.76" rx="1.13" ry="1.76" fill="#A78EB0" opacity="0.75"/>
<ellipse cx="70.7" cy="223.48" rx="4.9" ry="1.37" fill="#A78EB0" opacity="0.75"/>
<ellipse cx="80.12" cy="225.05" rx="2.64" ry="0.98" fill="#A78EB0" opacity="0.75"/>
<ellipse cx="59.39" cy="153.85" rx="0.94" ry="1.17" fill="#A78EB0" opacity="0.75"/>
</g>
<text x="54" y="240.6" font-size="10.5" fill="#222">151669</text>
<text x="201.9" y="106.8" font-size="7.2" fill="#222">Neighborhood</text>
<text x="201.9" y="115" font-size="7.2" fill="#222">Size in Layer 4</text>
<circle cx="210.3" cy="127.2" r="2.4" fill="#5548A8"/>
<text x="221.2" y="129.6" font-size="6.8" fill="#222">1</text>
<circle cx="210.3" cy="144.4" r="2.4" fill="#FBA01D"/>
<text x="221.2" y="146.8" font-size="6.8" fill="#222">3</text>
<circle cx="210.3" cy="161.6" r="2.4" fill="#C23A6E"/>
<text x="221.2" y="164" font-size="6.8" fill="#222">5</text>
<circle cx="210.3" cy="178.8" r="2.4" fill="#E3DC22"/>
<text x="221.2" y="181.2" font-size="6.8" fill="#222">10</text>
<circle cx="210.3" cy="196" r="2.4" fill="#8E2A19"/>
<text x="221.2" y="198.4" font-size="6.8" fill="#222">25</text>
<circle cx="210.3" cy="213.2" r="2.4" fill="#8C8C8C"/>
<text x="221.2" y="215.6" font-size="6.8" fill="#222">NA</text>
<rect x="251.8" y="91.9" width="126.8" height="136.9" fill="#B1B4B2"/>
<rect x="253.4" y="93.5" width="123.6" height="133.7" fill="none" stroke="#8f918f" stroke-width="0.8" stroke-dasharray="0.7 1.1" opacity="0.7"/>
<clipPath id="mtB"><path d="M282.13 104.92 C285.01 103.43 289.03 101.69 293.63 100.35 C298.23 99.01 306.19 96.84 312.8 95.98 C319.41 95.11 333.69 94.35 337.72 94.59 C341.74 94.83 338.77 97.51 339.63 97.57 C340.5 97.63 341.89 95.76 343.47 94.98 C345.05 94.21 348.16 92.4 350.18 92.4 C352.19 92.4 355.59 93.85 356.88 94.98 C358.18 96.12 358.66 98.31 358.8 99.95 C358.94 101.59 358.7 104.72 357.84 105.92 C356.98 107.11 354.2 107.43 353.05 107.91 C351.9 108.38 350.18 107.91 350.18 109.1 C350.18 110.29 351.76 114.13 353.05 115.86 C354.34 117.59 357.07 119.61 358.8 120.63 C360.53 121.64 362.82 122.73 364.55 122.62 C366.28 122.5 368.52 120.55 370.3 119.83 C372.08 119.12 375.4 116.65 376.43 117.84 C377.47 119.04 377.08 120.57 377.2 127.78 C377.31 135 378.52 160.14 377.2 165.95 C375.88 171.76 372.44 166.4 368.38 166.55 C364.33 166.7 353.34 166.71 350.18 166.94 C347.01 167.18 347.21 167.72 347.3 168.14 C347.39 168.55 347.59 169.25 350.75 169.73 C353.91 170.2 364.42 170.87 368.38 171.32 C372.35 171.76 375.88 169.7 377.2 172.71 C378.52 175.72 377.49 187.1 377.2 191.39 C376.91 195.69 376.03 198.95 375.28 201.33 C374.54 203.72 373.25 205.93 372.22 207.3 C371.18 208.67 370.4 209.4 368.38 210.48 C366.37 211.55 361.68 213.44 358.8 214.45 C355.93 215.47 352.38 216.37 349.22 217.24 C346.05 218.1 341.74 219.53 337.72 220.22 C333.69 220.9 326.41 221.36 322.38 221.81 C318.36 222.26 315.2 223.2 310.88 223.2 C306.57 223.2 298.52 222.17 293.63 221.81 C288.75 221.45 282.9 221.44 278.3 220.81 C273.7 220.19 265.41 219.66 262.97 217.63 C260.52 215.61 261.86 211.83 262.01 207.3 C262.15 202.76 263.49 193.38 263.93 187.42 C264.36 181.46 264.74 172.31 264.88 167.54 C265.03 162.77 265.06 158.24 264.88 155.61 C264.71 152.99 265.23 151.27 263.73 150.05 C262.24 148.82 255.81 148.72 254.92 147.46 C254.03 146.21 256.9 143.46 257.79 141.7 C258.68 139.94 259.91 137.52 260.86 135.73 C261.81 133.95 263 131.86 264.12 129.77 C265.24 127.68 266.78 124.74 268.33 121.82 C269.89 118.9 272.4 112.83 274.47 110.29 C276.54 107.76 279.26 106.41 282.13 104.92Z"/></clipPath>
<clipPath id="mtBf"><rect x="251.8" y="91.9" width="126.8" height="136.9"/></clipPath>
<g clip-path="url(#mtBf)">
<path d="M282.13 104.92 C285.01 103.43 289.03 101.69 293.63 100.35 C298.23 99.01 306.19 96.84 312.8 95.98 C319.41 95.11 333.69 94.35 337.72 94.59 C341.74 94.83 338.77 97.51 339.63 97.57 C340.5 97.63 341.89 95.76 343.47 94.98 C345.05 94.21 348.16 92.4 350.18 92.4 C352.19 92.4 355.59 93.85 356.88 94.98 C358.18 96.12 358.66 98.31 358.8 99.95 C358.94 101.59 358.7 104.72 357.84 105.92 C356.98 107.11 354.2 107.43 353.05 107.91 C351.9 108.38 350.18 107.91 350.18 109.1 C350.18 110.29 351.76 114.13 353.05 115.86 C354.34 117.59 357.07 119.61 358.8 120.63 C360.53 121.64 362.82 122.73 364.55 122.62 C366.28 122.5 368.52 120.55 370.3 119.83 C372.08 119.12 375.4 116.65 376.43 117.84 C377.47 119.04 377.08 120.57 377.2 127.78 C377.31 135 378.52 160.14 377.2 165.95 C375.88 171.76 372.44 166.4 368.38 166.55 C364.33 166.7 353.34 166.71 350.18 166.94 C347.01 167.18 347.21 167.72 347.3 168.14 C347.39 168.55 347.59 169.25 350.75 169.73 C353.91 170.2 364.42 170.87 368.38 171.32 C372.35 171.76 375.88 169.7 377.2 172.71 C378.52 175.72 377.49 187.1 377.2 191.39 C376.91 195.69 376.03 198.95 375.28 201.33 C374.54 203.72 373.25 205.93 372.22 207.3 C371.18 208.67 370.4 209.4 368.38 210.48 C366.37 211.55 361.68 213.44 358.8 214.45 C355.93 215.47 352.38 216.37 349.22 217.24 C346.05 218.1 341.74 219.53 337.72 220.22 C333.69 220.9 326.41 221.36 322.38 221.81 C318.36 222.26 315.2 223.2 310.88 223.2 C306.57 223.2 298.52 222.17 293.63 221.81 C288.75 221.45 282.9 221.44 278.3 220.81 C273.7 220.19 265.41 219.66 262.97 217.63 C260.52 215.61 261.86 211.83 262.01 207.3 C262.15 202.76 263.49 193.38 263.93 187.42 C264.36 181.46 264.74 172.31 264.88 167.54 C265.03 162.77 265.06 158.24 264.88 155.61 C264.71 152.99 265.23 151.27 263.73 150.05 C262.24 148.82 255.81 148.72 254.92 147.46 C254.03 146.21 256.9 143.46 257.79 141.7 C258.68 139.94 259.91 137.52 260.86 135.73 C261.81 133.95 263 131.86 264.12 129.77 C265.24 127.68 266.78 124.74 268.33 121.82 C269.89 118.9 272.4 112.83 274.47 110.29 C276.54 107.76 279.26 106.41 282.13 104.92Z" fill="#998A9F" stroke="#A590A8" stroke-width="0.9"/>
<g clip-path="url(#mtB)">
<path d="M255.3 137.72 L379.88 137.72 L379.88 147.66 L255.3 147.66Z" fill="#AC9AAE" opacity="0.3"/>
<rect x="251.8" y="91.9" width="126.8" height="136.9" fill="url(#pdotsB)"/>
</g>
<ellipse cx="280.22" cy="110.49" rx="4.02" ry="1.59" fill="#B1B4B2" transform="rotate(-22 280.22 110.49)"/>
<path d="M335.8 98.36 C336.76 98.69 339.63 99.29 341.55 100.35 C343.47 101.41 345.77 103.33 347.3 104.72 C348.83 106.12 350.18 108.04 350.75 108.7" fill="none" stroke="#B1B4B2" stroke-width="0.9" opacity="0.8"/>
<ellipse cx="258.75" cy="161.97" rx="2.11" ry="3.78" fill="#A78EB0" opacity="0.75"/>
<ellipse cx="260.28" cy="157.2" rx="1.15" ry="1.79" fill="#A78EB0" opacity="0.75"/>
<ellipse cx="268.72" cy="224" rx="4.98" ry="1.39" fill="#A78EB0" opacity="0.75"/>
<ellipse cx="278.3" cy="225.59" rx="2.68" ry="0.99" fill="#A78EB0" opacity="0.75"/>
<ellipse cx="257.22" cy="153.23" rx="0.96" ry="1.19" fill="#A78EB0" opacity="0.75"/>
</g>
<circle cx="297.67" cy="162.6" r="0.78" fill="#F4962C"/>
<circle cx="299.73" cy="162.6" r="0.78" fill="#EBDD34"/>
<circle cx="301.79" cy="162.6" r="0.78" fill="#F4962C"/>
<circle cx="303.85" cy="162.6" r="0.78" fill="#F4962C"/>
<circle cx="305.91" cy="162.6" r="0.78" fill="#EBDD34"/>
<circle cx="294.57" cy="164.38" r="0.78" fill="#EBDD34"/>
<circle cx="296.63" cy="164.38" r="0.78" fill="#EBDD34"/>
<circle cx="298.69" cy="164.38" r="0.78" fill="#F4962C"/>
<circle cx="300.75" cy="164.38" r="0.78" fill="#EBDD34"/>
<circle cx="302.81" cy="164.38" r="0.78" fill="#EBDD34"/>
<circle cx="304.88" cy="164.38" r="0.78" fill="#EBDD34"/>
<circle cx="306.94" cy="164.38" r="0.78" fill="#EBDD34"/>
<circle cx="309" cy="164.38" r="0.78" fill="#EBDD34"/>
<circle cx="311.06" cy="164.38" r="0.78" fill="#EBDD34"/>
<circle cx="313.12" cy="164.38" r="0.78" fill="#EBDD34"/>
<circle cx="315.18" cy="164.38" r="0.78" fill="#A6361F"/>
<circle cx="317.24" cy="164.38" r="0.78" fill="#A6361F"/>
<circle cx="321.36" cy="164.38" r="0.78" fill="#A6361F"/>
<circle cx="323.42" cy="164.38" r="0.78" fill="#A6361F"/>
<circle cx="281.19" cy="166.16" r="0.78" fill="#A6361F"/>
<circle cx="285.31" cy="166.16" r="0.78" fill="#A6361F"/>
<circle cx="287.37" cy="166.16" r="0.78" fill="#A6361F"/>
<circle cx="289.43" cy="166.16" r="0.78" fill="#A6361F"/>
<circle cx="293.55" cy="166.16" r="0.78" fill="#EBDD34"/>
<circle cx="295.61" cy="166.16" r="0.78" fill="#EBDD34"/>
<circle cx="297.67" cy="166.16" r="0.78" fill="#F4962C"/>
<circle cx="299.73" cy="166.16" r="0.78" fill="#F4962C"/>
<circle cx="301.79" cy="166.16" r="0.78" fill="#EBDD34"/>
<circle cx="303.85" cy="166.16" r="0.78" fill="#EBDD34"/>
<circle cx="305.91" cy="166.16" r="0.78" fill="#EBDD34"/>
<circle cx="307.97" cy="166.16" r="0.78" fill="#EBDD34"/>
<circle cx="310.03" cy="166.16" r="0.78" fill="#EBDD34"/>
<circle cx="316.21" cy="166.16" r="0.78" fill="#A6361F"/>
<circle cx="318.27" cy="166.16" r="0.78" fill="#A6361F"/>
<circle cx="320.33" cy="166.16" r="0.78" fill="#A6361F"/>
<circle cx="322.39" cy="166.16" r="0.78" fill="#A6361F"/>
<circle cx="282.21" cy="167.94" r="0.78" fill="#A6361F"/>
<circle cx="284.27" cy="167.94" r="0.78" fill="#A6361F"/>
<circle cx="286.33" cy="167.94" r="0.78" fill="#A6361F"/>
<circle cx="288.39" cy="167.94" r="0.78" fill="#A6361F"/>
<circle cx="292.51" cy="167.94" r="0.78" fill="#EBDD34"/>
<circle cx="294.57" cy="167.94" r="0.78" fill="#EBDD34"/>
<circle cx="298.69" cy="167.94" r="0.78" fill="#D85C8C"/>
<circle cx="300.75" cy="167.94" r="0.78" fill="#6A54B0"/>
<circle cx="302.81" cy="167.94" r="0.78" fill="#6A54B0"/>
<circle cx="304.88" cy="167.94" r="0.78" fill="#F4962C"/>
<circle cx="306.94" cy="167.94" r="0.78" fill="#6A54B0"/>
<circle cx="309" cy="167.94" r="0.78" fill="#EBDD34"/>
<circle cx="311.06" cy="167.94" r="0.78" fill="#EBDD34"/>
<circle cx="313.12" cy="167.94" r="0.78" fill="#EBDD34"/>
<circle cx="315.18" cy="167.94" r="0.78" fill="#A6361F"/>
<circle cx="317.24" cy="167.94" r="0.78" fill="#A6361F"/>
<circle cx="319.3" cy="167.94" r="0.78" fill="#A6361F"/>
<circle cx="323.42" cy="167.94" r="0.78" fill="#A6361F"/>
<circle cx="279.12" cy="169.72" r="0.78" fill="#A6361F"/>
<circle cx="281.19" cy="169.72" r="0.78" fill="#A6361F"/>
<circle cx="283.25" cy="169.72" r="0.78" fill="#A6361F"/>
<circle cx="287.37" cy="169.72" r="0.78" fill="#A6361F"/>
<circle cx="289.43" cy="169.72" r="0.78" fill="#A6361F"/>
<circle cx="291.49" cy="169.72" r="0.78" fill="#EBDD34"/>
<circle cx="293.55" cy="169.72" r="0.78" fill="#EBDD34"/>
<circle cx="295.61" cy="169.72" r="0.78" fill="#EBDD34"/>
<circle cx="297.67" cy="169.72" r="0.78" fill="#F4962C"/>
<circle cx="299.73" cy="169.72" r="0.78" fill="#6A54B0"/>
<circle cx="301.79" cy="169.72" r="0.78" fill="#D85C8C"/>
<circle cx="303.85" cy="169.72" r="0.78" fill="#6A54B0"/>
<circle cx="305.91" cy="169.72" r="0.78" fill="#F4962C"/>
<circle cx="307.97" cy="169.72" r="0.78" fill="#EBDD34"/>
<circle cx="310.03" cy="169.72" r="0.78" fill="#EBDD34"/>
<circle cx="312.09" cy="169.72" r="0.78" fill="#EBDD34"/>
<circle cx="314.15" cy="169.72" r="0.78" fill="#A6361F"/>
<circle cx="318.27" cy="169.72" r="0.78" fill="#A6361F"/>
<circle cx="320.33" cy="169.72" r="0.78" fill="#A6361F"/>
<circle cx="322.39" cy="169.72" r="0.78" fill="#A6361F"/>
<circle cx="324.45" cy="169.72" r="0.78" fill="#A6361F"/>
<circle cx="278.1" cy="171.5" r="0.78" fill="#A6361F"/>
<circle cx="280.15" cy="171.5" r="0.78" fill="#A6361F"/>
<circle cx="284.27" cy="171.5" r="0.78" fill="#A6361F"/>
<circle cx="286.33" cy="171.5" r="0.78" fill="#A6361F"/>
<circle cx="288.39" cy="171.5" r="0.78" fill="#A6361F"/>
<circle cx="290.45" cy="171.5" r="0.78" fill="#A6361F"/>
<circle cx="292.51" cy="171.5" r="0.78" fill="#EBDD34"/>
<circle cx="294.57" cy="171.5" r="0.78" fill="#EBDD34"/>
<circle cx="296.63" cy="171.5" r="0.78" fill="#EBDD34"/>
<circle cx="298.69" cy="171.5" r="0.78" fill="#F4962C"/>
<circle cx="300.75" cy="171.5" r="0.78" fill="#F4962C"/>
<circle cx="302.81" cy="171.5" r="0.78" fill="#F4962C"/>
<circle cx="304.88" cy="171.5" r="0.78" fill="#F4962C"/>
<circle cx="306.94" cy="171.5" r="0.78" fill="#F4962C"/>
<circle cx="311.06" cy="171.5" r="0.78" fill="#EBDD34"/>
<circle cx="315.18" cy="171.5" r="0.78" fill="#A6361F"/>
<circle cx="317.24" cy="171.5" r="0.78" fill="#A6361F"/>
<circle cx="319.3" cy="171.5" r="0.78" fill="#A6361F"/>
<circle cx="321.36" cy="171.5" r="0.78" fill="#A6361F"/>
<circle cx="325.48" cy="171.5" r="0.78" fill="#A6361F"/>
<circle cx="279.12" cy="173.28" r="0.78" fill="#A6361F"/>
<circle cx="281.19" cy="173.28" r="0.78" fill="#A6361F"/>
<circle cx="283.25" cy="173.28" r="0.78" fill="#A6361F"/>
<circle cx="285.31" cy="173.28" r="0.78" fill="#A6361F"/>
<circle cx="289.43" cy="173.28" r="0.78" fill="#A6361F"/>
<circle cx="293.55" cy="173.28" r="0.78" fill="#EBDD34"/>
<circle cx="295.61" cy="173.28" r="0.78" fill="#EBDD34"/>
<circle cx="310.03" cy="173.28" r="0.78" fill="#EBDD34"/>
<circle cx="314.15" cy="173.28" r="0.78" fill="#A6361F"/>
<circle cx="316.21" cy="173.28" r="0.78" fill="#A6361F"/>
<circle cx="320.33" cy="173.28" r="0.78" fill="#A6361F"/>
<circle cx="322.39" cy="173.28" r="0.78" fill="#A6361F"/>
<circle cx="324.45" cy="173.28" r="0.78" fill="#A6361F"/>
<circle cx="326.5" cy="173.28" r="0.78" fill="#A6361F"/>
<circle cx="278.1" cy="175.06" r="0.78" fill="#A6361F"/>
<circle cx="280.15" cy="175.06" r="0.78" fill="#A6361F"/>
<circle cx="282.21" cy="175.06" r="0.78" fill="#A6361F"/>
<circle cx="286.33" cy="175.06" r="0.78" fill="#A6361F"/>
<circle cx="288.39" cy="175.06" r="0.78" fill="#A6361F"/>
<circle cx="290.45" cy="175.06" r="0.78" fill="#A6361F"/>
<circle cx="317.24" cy="175.06" r="0.78" fill="#A6361F"/>
<circle cx="319.3" cy="175.06" r="0.78" fill="#A6361F"/>
<circle cx="321.36" cy="175.06" r="0.78" fill="#A6361F"/>
<circle cx="323.42" cy="175.06" r="0.78" fill="#A6361F"/>
<circle cx="281.19" cy="176.84" r="0.78" fill="#A6361F"/>
<circle cx="283.25" cy="176.84" r="0.78" fill="#A6361F"/>
<circle cx="287.37" cy="176.84" r="0.78" fill="#A6361F"/>
<circle cx="314.15" cy="176.84" r="0.78" fill="#A6361F"/>
<circle cx="316.21" cy="176.84" r="0.78" fill="#A6361F"/>
<circle cx="322.39" cy="176.84" r="0.78" fill="#A6361F"/>
<circle cx="324.45" cy="176.84" r="0.78" fill="#A6361F"/>
<rect x="420.5" y="81.5" width="79.6" height="14.2" fill="#D2D2D2"/><text x="460.3" y="92.29" font-size="10.3" fill="#111" text-anchor="middle">STEAM_MN</text>
<line x1="429.73" y1="150.6" x2="429.73" y2="159.7" stroke="#6e6e6e" stroke-width="0.6"/><line x1="429.73" y1="168.4" x2="429.73" y2="173" stroke="#6e6e6e" stroke-width="0.6"/><rect x="423.96" y="159.7" width="11.54" height="8.7" fill="#5A4AA2" stroke="#444" stroke-width="0.55"/><line x1="423.96" y1="164.4" x2="435.5" y2="164.4" stroke="#222" stroke-width="1"/>
<line x1="445.12" y1="122" x2="445.12" y2="130.2" stroke="#6e6e6e" stroke-width="0.6"/><line x1="445.12" y1="138.4" x2="445.12" y2="147.8" stroke="#6e6e6e" stroke-width="0.6"/><rect x="439.35" y="130.2" width="11.54" height="8.2" fill="#FBA31A" stroke="#444" stroke-width="0.55"/><line x1="439.35" y1="133.6" x2="450.88" y2="133.6" stroke="#222" stroke-width="1"/>
<line x1="460.5" y1="118.1" x2="460.5" y2="123.8" stroke="#6e6e6e" stroke-width="0.6"/><line x1="460.5" y1="140.6" x2="460.5" y2="153.3" stroke="#6e6e6e" stroke-width="0.6"/><rect x="454.73" y="123.8" width="11.54" height="16.8" fill="#C2396E" stroke="#444" stroke-width="0.55"/><line x1="454.73" y1="133.3" x2="466.27" y2="133.3" stroke="#222" stroke-width="1"/>
<line x1="475.88" y1="128.2" x2="475.88" y2="137.3" stroke="#6e6e6e" stroke-width="0.6"/><line x1="475.88" y1="146.6" x2="475.88" y2="151.1" stroke="#6e6e6e" stroke-width="0.6"/><rect x="470.12" y="137.3" width="11.54" height="9.3" fill="#E4DE28" stroke="#444" stroke-width="0.55"/><line x1="470.12" y1="142.7" x2="481.65" y2="142.7" stroke="#222" stroke-width="1"/><circle cx="475.88" cy="160.2" r="1" fill="#111"/>
<line x1="491.27" y1="169.7" x2="491.27" y2="176.5" stroke="#6e6e6e" stroke-width="0.6"/><line x1="491.27" y1="199.8" x2="491.27" y2="218.9" stroke="#6e6e6e" stroke-width="0.6"/><rect x="485.5" y="176.5" width="11.54" height="23.3" fill="#8BB535" stroke="#444" stroke-width="0.55"/><line x1="485.5" y1="191.2" x2="497.04" y2="191.2" stroke="#222" stroke-width="1"/>
<line x1="420.5" y1="262.6" x2="499.7" y2="262.6" stroke="#2a2a2a" stroke-width="1"/>
<text x="426.6" y="272.7" font-size="9.8" fill="#161616" text-anchor="middle">1</text>
<text x="442" y="272.7" font-size="9.8" fill="#161616" text-anchor="middle">3</text>
<text x="457" y="272.7" font-size="9.8" fill="#161616" text-anchor="middle">5</text>
<text x="470.3" y="272.7" font-size="9.8" fill="#161616" text-anchor="middle">10</text>
<text x="485.3" y="272.7" font-size="9.8" fill="#161616" text-anchor="middle">25</text>
<rect x="503" y="81.5" width="79.6" height="14.2" fill="#D2D2D2"/><text x="542.8" y="92.29" font-size="10.3" fill="#111" text-anchor="middle">STEAM_RF</text>
<line x1="512.23" y1="139.1" x2="512.23" y2="143.5" stroke="#6e6e6e" stroke-width="0.6"/><line x1="512.23" y1="149.7" x2="512.23" y2="152.4" stroke="#6e6e6e" stroke-width="0.6"/><rect x="506.46" y="143.5" width="11.54" height="6.2" fill="#5A4AA2" stroke="#444" stroke-width="0.55"/><line x1="506.46" y1="147.5" x2="518" y2="147.5" stroke="#222" stroke-width="1"/>
<line x1="527.62" y1="125.1" x2="527.62" y2="135.5" stroke="#6e6e6e" stroke-width="0.6"/><line x1="527.62" y1="142.7" x2="527.62" y2="148.2" stroke="#6e6e6e" stroke-width="0.6"/><rect x="521.85" y="135.5" width="11.54" height="7.2" fill="#FBA31A" stroke="#444" stroke-width="0.55"/><line x1="521.85" y1="139.3" x2="533.38" y2="139.3" stroke="#222" stroke-width="1"/>
<line x1="543" y1="125.1" x2="543" y2="130" stroke="#6e6e6e" stroke-width="0.6"/><line x1="543" y1="138.7" x2="543" y2="140.6" stroke="#6e6e6e" stroke-width="0.6"/><rect x="537.23" y="130" width="11.54" height="8.7" fill="#C2396E" stroke="#444" stroke-width="0.55"/><line x1="537.23" y1="136.5" x2="548.77" y2="136.5" stroke="#222" stroke-width="1"/>
<line x1="558.38" y1="129.6" x2="558.38" y2="138.4" stroke="#6e6e6e" stroke-width="0.6"/><line x1="558.38" y1="146" x2="558.38" y2="149.7" stroke="#6e6e6e" stroke-width="0.6"/><rect x="552.62" y="138.4" width="11.54" height="7.6" fill="#E4DE28" stroke="#444" stroke-width="0.55"/><line x1="552.62" y1="140.2" x2="564.15" y2="140.2" stroke="#222" stroke-width="1"/>
<line x1="573.77" y1="172.1" x2="573.77" y2="195.2" stroke="#6e6e6e" stroke-width="0.6"/><line x1="573.77" y1="222.6" x2="573.77" y2="234.4" stroke="#6e6e6e" stroke-width="0.6"/><rect x="568" y="195.2" width="11.54" height="27.4" fill="#8BB535" stroke="#444" stroke-width="0.55"/><line x1="568" y1="201.2" x2="579.54" y2="201.2" stroke="#222" stroke-width="1"/>
<line x1="503" y1="262.6" x2="582.4" y2="262.6" stroke="#7a7a7a" stroke-width="1.1"/>
<text x="508.8" y="272.7" font-size="9.8" fill="#161616" text-anchor="middle">1</text>
<text x="524.2" y="272.7" font-size="9.8" fill="#161616" text-anchor="middle">3</text>
<text x="539.2" y="272.7" font-size="9.8" fill="#161616" text-anchor="middle">5</text>
<text x="552.5" y="272.7" font-size="9.8" fill="#161616" text-anchor="middle">10</text>
<text x="567.5" y="272.7" font-size="9.8" fill="#161616" text-anchor="middle">25</text>
<rect x="585.5" y="81.5" width="79.6" height="14.2" fill="#D2D2D2"/><text x="625.3" y="92.29" font-size="10.3" fill="#111" text-anchor="middle">STEAM_SVM</text>
<line x1="594.73" y1="143.8" x2="594.73" y2="147.8" stroke="#6e6e6e" stroke-width="0.6"/><line x1="594.73" y1="156.6" x2="594.73" y2="159.7" stroke="#6e6e6e" stroke-width="0.6"/><rect x="588.96" y="147.8" width="11.54" height="8.8" fill="#5A4AA2" stroke="#444" stroke-width="0.55"/><line x1="588.96" y1="151.1" x2="600.5" y2="151.1" stroke="#222" stroke-width="1"/>
<line x1="610.12" y1="126" x2="610.12" y2="131.4" stroke="#6e6e6e" stroke-width="0.6"/><line x1="610.12" y1="139.1" x2="610.12" y2="141.1" stroke="#6e6e6e" stroke-width="0.6"/><rect x="604.35" y="131.4" width="11.54" height="7.7" fill="#FBA31A" stroke="#444" stroke-width="0.55"/><line x1="604.35" y1="135.5" x2="615.88" y2="135.5" stroke="#222" stroke-width="1"/>
<line x1="625.5" y1="123.2" x2="625.5" y2="128.3" stroke="#6e6e6e" stroke-width="0.6"/><line x1="625.5" y1="133.4" x2="625.5" y2="137.3" stroke="#6e6e6e" stroke-width="0.6"/><rect x="619.73" y="128.3" width="11.54" height="5.1" fill="#C2396E" stroke="#444" stroke-width="0.55"/><line x1="619.73" y1="130.2" x2="631.27" y2="130.2" stroke="#222" stroke-width="1"/>
<line x1="640.88" y1="130.9" x2="640.88" y2="134.2" stroke="#6e6e6e" stroke-width="0.6"/><line x1="640.88" y1="140.4" x2="640.88" y2="144.2" stroke="#6e6e6e" stroke-width="0.6"/><rect x="635.12" y="134.2" width="11.54" height="6.2" fill="#E4DE28" stroke="#444" stroke-width="0.55"/><line x1="635.12" y1="137.3" x2="646.65" y2="137.3" stroke="#222" stroke-width="1"/>
<line x1="656.27" y1="164.8" x2="656.27" y2="181.9" stroke="#6e6e6e" stroke-width="0.6"/><line x1="656.27" y1="195.6" x2="656.27" y2="214.3" stroke="#6e6e6e" stroke-width="0.6"/><rect x="650.5" y="181.9" width="11.54" height="13.7" fill="#8BB535" stroke="#444" stroke-width="0.55"/><line x1="650.5" y1="191.2" x2="662.04" y2="191.2" stroke="#222" stroke-width="1"/><circle cx="656.27" cy="218.4" r="1" fill="#111"/>
<line x1="585.5" y1="262.6" x2="664.9" y2="262.6" stroke="#7a7a7a" stroke-width="1.1"/>
<text x="591" y="272.7" font-size="9.8" fill="#161616" text-anchor="middle">1</text>
<text x="606.4" y="272.7" font-size="9.8" fill="#161616" text-anchor="middle">3</text>
<text x="621.4" y="272.7" font-size="9.8" fill="#161616" text-anchor="middle">5</text>
<text x="634.7" y="272.7" font-size="9.8" fill="#161616" text-anchor="middle">10</text>
<text x="649.7" y="272.7" font-size="9.8" fill="#161616" text-anchor="middle">25</text>
<rect x="668" y="81.5" width="79.6" height="14.2" fill="#D2D2D2"/><text x="707.8" y="92.29" font-size="10.3" fill="#111" text-anchor="middle">STEAM_XGB</text>
<line x1="677.23" y1="133.3" x2="677.23" y2="140.4" stroke="#6e6e6e" stroke-width="0.6"/><line x1="677.23" y1="145.5" x2="677.23" y2="146.6" stroke="#6e6e6e" stroke-width="0.6"/><rect x="671.46" y="140.4" width="11.54" height="5.1" fill="#5A4AA2" stroke="#444" stroke-width="0.55"/><line x1="671.46" y1="143.3" x2="683" y2="143.3" stroke="#222" stroke-width="1"/>
<line x1="692.62" y1="125.6" x2="692.62" y2="126.9" stroke="#6e6e6e" stroke-width="0.6"/><line x1="692.62" y1="136.5" x2="692.62" y2="139.6" stroke="#6e6e6e" stroke-width="0.6"/><rect x="686.85" y="126.9" width="11.54" height="9.6" fill="#FBA31A" stroke="#444" stroke-width="0.55"/><line x1="686.85" y1="135.5" x2="698.38" y2="135.5" stroke="#222" stroke-width="1"/>
<line x1="708" y1="121.1" x2="708" y2="129.1" stroke="#6e6e6e" stroke-width="0.6"/><line x1="708" y1="136.5" x2="708" y2="139.6" stroke="#6e6e6e" stroke-width="0.6"/><rect x="702.23" y="129.1" width="11.54" height="7.4" fill="#C2396E" stroke="#444" stroke-width="0.55"/><line x1="702.23" y1="132.9" x2="713.77" y2="132.9" stroke="#222" stroke-width="1"/>
<line x1="723.38" y1="137.8" x2="723.38" y2="147.5" stroke="#6e6e6e" stroke-width="0.6"/><line x1="723.38" y1="157.5" x2="723.38" y2="165.2" stroke="#6e6e6e" stroke-width="0.6"/><rect x="717.62" y="147.5" width="11.54" height="10" fill="#E4DE28" stroke="#444" stroke-width="0.55"/><line x1="717.62" y1="152.4" x2="729.15" y2="152.4" stroke="#222" stroke-width="1"/>
<line x1="738.77" y1="198" x2="738.77" y2="209.1" stroke="#6e6e6e" stroke-width="0.6"/><line x1="738.77" y1="235.3" x2="738.77" y2="249" stroke="#6e6e6e" stroke-width="0.6"/><rect x="733" y="209.1" width="11.54" height="26.2" fill="#8BB535" stroke="#444" stroke-width="0.55"/><line x1="733" y1="225.8" x2="744.54" y2="225.8" stroke="#222" stroke-width="1"/>
<line x1="668" y1="262.6" x2="747" y2="262.6" stroke="#7a7a7a" stroke-width="1.1"/>
<text x="673.2" y="272.7" font-size="9.8" fill="#161616" text-anchor="middle">1</text>
<text x="688.6" y="272.7" font-size="9.8" fill="#161616" text-anchor="middle">3</text>
<text x="703.6" y="272.7" font-size="9.8" fill="#161616" text-anchor="middle">5</text>
<text x="716.9" y="272.7" font-size="9.8" fill="#161616" text-anchor="middle">10</text>
<text x="731.9" y="272.7" font-size="9.8" fill="#161616" text-anchor="middle">25</text>
<line x1="420.5" y1="95.7" x2="420.5" y2="263" stroke="#333" stroke-width="0.9"/>
<text x="418.1" y="105.5" font-size="8.1" fill="#161616" text-anchor="end">1.00</text>
<text x="418.1" y="143.2" font-size="8.1" fill="#161616" text-anchor="end">0.75</text>
<text x="418.1" y="181.5" font-size="8.1" fill="#161616" text-anchor="end">0.50</text>
<text x="418.1" y="219.5" font-size="8.1" fill="#161616" text-anchor="end">0.25</text>
<text x="418.1" y="258" font-size="8.1" fill="#161616" text-anchor="end">0.00</text>
<text x="399.2" y="179" font-size="10.2" fill="#222" text-anchor="middle" transform="rotate(-90 399.2 179)">Kappa</text>
<text x="583.6" y="283.4" font-size="10" fill="#222" text-anchor="middle">Neighborhood Size</text>
<rect x="33.2" y="300.3" width="67.6" height="14.2" fill="#D2D2D2"/><text x="67" y="311.09" font-size="10.3" fill="#111" text-anchor="middle">STEAM_MN</text>
<line x1="36.52" y1="344.2" x2="36.52" y2="345.6" stroke="#6e6e6e" stroke-width="0.6"/><rect x="34.42" y="345.6" width="4.21" height="26.9" fill="#FFFFFF" stroke="#444" stroke-width="0.45"/><line x1="34.42" y1="356.3" x2="38.63" y2="356.3" stroke="#222" stroke-width="0.8"/><circle cx="36.52" cy="432.3" r="1" fill="#111"/>
<line x1="42.07" y1="355" x2="42.07" y2="364.4" stroke="#6e6e6e" stroke-width="0.6"/><rect x="39.96" y="364.4" width="4.21" height="18.3" fill="#222222" stroke="#444" stroke-width="0.45"/><line x1="39.96" y1="377.5" x2="44.17" y2="377.5" stroke="#222" stroke-width="0.8"/><circle cx="42.07" cy="434.6" r="1" fill="#111"/>
<line x1="47.61" y1="346.4" x2="47.61" y2="353.4" stroke="#6e6e6e" stroke-width="0.6"/><line x1="47.61" y1="379.2" x2="47.61" y2="409.5" stroke="#6e6e6e" stroke-width="0.6"/><rect x="45.5" y="353.4" width="4.21" height="25.8" fill="#F6C51B" stroke="#444" stroke-width="0.45"/><line x1="45.5" y1="365.4" x2="49.71" y2="365.4" stroke="#222" stroke-width="0.8"/>
<line x1="53.15" y1="349.7" x2="53.15" y2="353.7" stroke="#6e6e6e" stroke-width="0.6"/><line x1="53.15" y1="385.6" x2="53.15" y2="416.4" stroke="#6e6e6e" stroke-width="0.6"/><rect x="51.04" y="353.7" width="4.21" height="31.9" fill="#8E52A0" stroke="#444" stroke-width="0.45"/><line x1="51.04" y1="363.3" x2="55.25" y2="363.3" stroke="#222" stroke-width="0.8"/>
<line x1="58.69" y1="358.2" x2="58.69" y2="362.2" stroke="#6e6e6e" stroke-width="0.6"/><rect x="56.58" y="362.2" width="4.21" height="26.4" fill="#F5871F" stroke="#444" stroke-width="0.45"/><line x1="56.58" y1="385.6" x2="60.79" y2="385.6" stroke="#222" stroke-width="0.8"/><circle cx="58.69" cy="432.8" r="1" fill="#111"/>
<rect x="62.12" y="385" width="4.21" height="4.8" fill="#A6CEF0" stroke="#444" stroke-width="0.45"/><line x1="62.12" y1="387.4" x2="66.34" y2="387.4" stroke="#222" stroke-width="0.8"/><circle cx="64.23" cy="359.8" r="1" fill="#111"/><circle cx="64.23" cy="434.6" r="1" fill="#111"/>
<line x1="69.77" y1="363.3" x2="69.77" y2="368.2" stroke="#6e6e6e" stroke-width="0.6"/><rect x="67.66" y="368.2" width="4.21" height="21.1" fill="#C4183C" stroke="#444" stroke-width="0.45"/><line x1="67.66" y1="381" x2="71.88" y2="381" stroke="#222" stroke-width="0.8"/><circle cx="69.77" cy="433.4" r="1" fill="#111"/>
<rect x="73.21" y="379.5" width="4.21" height="12" fill="#CDBA82" stroke="#444" stroke-width="0.45"/><line x1="73.21" y1="380.2" x2="77.42" y2="380.2" stroke="#222" stroke-width="0.8"/><circle cx="75.31" cy="360.9" r="1" fill="#111"/><circle cx="75.31" cy="453.3" r="1" fill="#111"/>
<line x1="80.85" y1="356.3" x2="80.85" y2="359.3" stroke="#6e6e6e" stroke-width="0.6"/><line x1="80.85" y1="392.5" x2="80.85" y2="420.5" stroke="#6e6e6e" stroke-width="0.6"/><rect x="78.75" y="359.3" width="4.21" height="33.2" fill="#8C8C8C" stroke="#444" stroke-width="0.45"/><line x1="78.75" y1="366.3" x2="82.96" y2="366.3" stroke="#222" stroke-width="0.8"/>
<line x1="86.39" y1="358.2" x2="86.39" y2="360.2" stroke="#6e6e6e" stroke-width="0.6"/><rect x="84.29" y="360.2" width="4.21" height="34.5" fill="#00945E" stroke="#444" stroke-width="0.45"/><line x1="84.29" y1="381.3" x2="88.5" y2="381.3" stroke="#222" stroke-width="0.8"/><circle cx="86.39" cy="448.8" r="1" fill="#111"/>
<line x1="91.93" y1="355.2" x2="91.93" y2="362.5" stroke="#6e6e6e" stroke-width="0.6"/><line x1="91.93" y1="396" x2="91.93" y2="423.1" stroke="#6e6e6e" stroke-width="0.6"/><rect x="89.83" y="362.5" width="4.21" height="33.5" fill="#F090B4" stroke="#444" stroke-width="0.45"/><line x1="89.83" y1="367.6" x2="94.04" y2="367.6" stroke="#222" stroke-width="0.8"/>
<rect x="95.37" y="373.5" width="4.21" height="20.9" fill="#1465B0" stroke="#444" stroke-width="0.45"/><line x1="95.37" y1="390.4" x2="99.58" y2="390.4" stroke="#222" stroke-width="0.8"/><circle cx="97.48" cy="432.8" r="1" fill="#111"/>
<line x1="33.2" y1="503.5" x2="100.5" y2="503.5" stroke="#333" stroke-width="1"/>
<rect x="103.1" y="300.3" width="67.6" height="14.2" fill="#D2D2D2"/><text x="136.9" y="311.09" font-size="10.3" fill="#111" text-anchor="middle">STEAM_RF</text>
<line x1="106.42" y1="348.8" x2="106.42" y2="357.3" stroke="#6e6e6e" stroke-width="0.6"/><rect x="104.32" y="357.3" width="4.21" height="8.3" fill="#FFFFFF" stroke="#444" stroke-width="0.45"/><line x1="104.32" y1="363" x2="108.53" y2="363" stroke="#222" stroke-width="0.8"/><circle cx="106.42" cy="430.7" r="1" fill="#111"/>
<line x1="111.97" y1="363.9" x2="111.97" y2="369.2" stroke="#6e6e6e" stroke-width="0.6"/><rect x="109.86" y="369.2" width="4.21" height="8.3" fill="#222222" stroke="#444" stroke-width="0.45"/><line x1="109.86" y1="373.6" x2="114.07" y2="373.6" stroke="#222" stroke-width="0.8"/><circle cx="111.97" cy="437.4" r="1" fill="#111"/>
<rect x="115.4" y="364.4" width="4.21" height="6" fill="#F6C51B" stroke="#444" stroke-width="0.45"/><line x1="115.4" y1="367.4" x2="119.61" y2="367.4" stroke="#222" stroke-width="0.8"/><circle cx="117.51" cy="353.3" r="1" fill="#111"/><circle cx="117.51" cy="432.3" r="1" fill="#111"/>
<line x1="123.05" y1="361.2" x2="123.05" y2="364.2" stroke="#6e6e6e" stroke-width="0.6"/><rect x="120.94" y="364.2" width="4.21" height="8.2" fill="#8E52A0" stroke="#444" stroke-width="0.45"/><line x1="120.94" y1="366.5" x2="125.15" y2="366.5" stroke="#222" stroke-width="0.8"/><circle cx="123.05" cy="409.5" r="1" fill="#111"/>
<line x1="128.59" y1="366.9" x2="128.59" y2="371.5" stroke="#6e6e6e" stroke-width="0.6"/><rect x="126.48" y="371.5" width="4.21" height="9.2" fill="#F5871F" stroke="#444" stroke-width="0.45"/><line x1="126.48" y1="378.5" x2="130.69" y2="378.5" stroke="#222" stroke-width="0.8"/><circle cx="128.59" cy="430.2" r="1" fill="#111"/>
<rect x="132.02" y="369.2" width="4.21" height="5.3" fill="#A6CEF0" stroke="#444" stroke-width="0.45"/><line x1="132.02" y1="372.2" x2="136.24" y2="372.2" stroke="#222" stroke-width="0.8"/><circle cx="134.13" cy="431.2" r="1" fill="#111"/>
<line x1="139.67" y1="374.5" x2="139.67" y2="376.6" stroke="#6e6e6e" stroke-width="0.6"/><rect x="137.56" y="376.6" width="4.21" height="1.9" fill="#C4183C" stroke="#444" stroke-width="0.45"/><line x1="137.56" y1="377.5" x2="141.78" y2="377.5" stroke="#222" stroke-width="0.8"/><circle cx="139.67" cy="431.2" r="1" fill="#111"/>
<line x1="145.21" y1="363" x2="145.21" y2="366.9" stroke="#6e6e6e" stroke-width="0.6"/><rect x="143.11" y="366.9" width="4.21" height="10.2" fill="#CDBA82" stroke="#444" stroke-width="0.45"/><line x1="143.11" y1="373.6" x2="147.32" y2="373.6" stroke="#222" stroke-width="0.8"/><circle cx="145.21" cy="449.3" r="1" fill="#111"/>
<line x1="150.75" y1="365.6" x2="150.75" y2="371.5" stroke="#6e6e6e" stroke-width="0.6"/><rect x="148.65" y="371.5" width="4.21" height="5.3" fill="#8C8C8C" stroke="#444" stroke-width="0.45"/><line x1="148.65" y1="373.6" x2="152.86" y2="373.6" stroke="#222" stroke-width="0.8"/><circle cx="150.75" cy="447.3" r="1" fill="#111"/>
<line x1="156.29" y1="359.5" x2="156.29" y2="367.8" stroke="#6e6e6e" stroke-width="0.6"/><rect x="154.19" y="367.8" width="4.21" height="7.6" fill="#00945E" stroke="#444" stroke-width="0.45"/><line x1="154.19" y1="368.3" x2="158.4" y2="368.3" stroke="#222" stroke-width="0.8"/><circle cx="156.29" cy="464" r="1" fill="#111"/>
<line x1="161.83" y1="366.5" x2="161.83" y2="370.4" stroke="#6e6e6e" stroke-width="0.6"/><rect x="159.73" y="370.4" width="4.21" height="5.9" fill="#F090B4" stroke="#444" stroke-width="0.45"/><line x1="159.73" y1="373.2" x2="163.94" y2="373.2" stroke="#222" stroke-width="0.8"/><circle cx="161.83" cy="436.7" r="1" fill="#111"/>
<rect x="165.27" y="371.8" width="4.21" height="2.7" fill="#1465B0" stroke="#444" stroke-width="0.45"/><line x1="165.27" y1="373.1" x2="169.48" y2="373.1" stroke="#222" stroke-width="0.8"/><circle cx="167.38" cy="418" r="1" fill="#111"/>
<line x1="103.1" y1="503.5" x2="170.4" y2="503.5" stroke="#333" stroke-width="1"/>
<rect x="173.1" y="300.3" width="67.6" height="14.2" fill="#D2D2D2"/><text x="206.9" y="311.09" font-size="10.3" fill="#111" text-anchor="middle">STEAM_SVM</text>
<rect x="174.32" y="348.3" width="4.21" height="17.9" fill="#FFFFFF" stroke="#444" stroke-width="0.45"/><line x1="174.32" y1="358.2" x2="178.53" y2="358.2" stroke="#222" stroke-width="0.8"/><circle cx="176.42" cy="433.4" r="1" fill="#111"/>
<line x1="181.97" y1="363" x2="181.97" y2="370.1" stroke="#6e6e6e" stroke-width="0.6"/><rect x="179.86" y="370.1" width="4.21" height="10" fill="#222222" stroke="#444" stroke-width="0.45"/><line x1="179.86" y1="375.4" x2="184.07" y2="375.4" stroke="#222" stroke-width="0.8"/><circle cx="181.97" cy="424.7" r="1" fill="#111"/>
<line x1="187.51" y1="355" x2="187.51" y2="361.6" stroke="#6e6e6e" stroke-width="0.6"/><rect x="185.4" y="361.6" width="4.21" height="14.3" fill="#F6C51B" stroke="#444" stroke-width="0.45"/><line x1="185.4" y1="375" x2="189.61" y2="375" stroke="#222" stroke-width="0.8"/><circle cx="187.51" cy="421.3" r="1" fill="#111"/>
<line x1="193.05" y1="355" x2="193.05" y2="358.2" stroke="#6e6e6e" stroke-width="0.6"/><rect x="190.94" y="358.2" width="4.21" height="15.9" fill="#8E52A0" stroke="#444" stroke-width="0.45"/><line x1="190.94" y1="363.3" x2="195.15" y2="363.3" stroke="#222" stroke-width="0.8"/><circle cx="193.05" cy="415.2" r="1" fill="#111"/>
<rect x="196.48" y="354.5" width="4.21" height="19.6" fill="#F5871F" stroke="#444" stroke-width="0.45"/><line x1="196.48" y1="369.5" x2="200.69" y2="369.5" stroke="#222" stroke-width="0.8"/><circle cx="198.59" cy="430.9" r="1" fill="#111"/>
<line x1="204.13" y1="356.4" x2="204.13" y2="357.7" stroke="#6e6e6e" stroke-width="0.6"/><rect x="202.02" y="357.7" width="4.21" height="12.7" fill="#A6CEF0" stroke="#444" stroke-width="0.45"/><line x1="202.02" y1="370" x2="206.24" y2="370" stroke="#222" stroke-width="0.8"/><circle cx="204.13" cy="439.4" r="1" fill="#111"/>
<rect x="207.56" y="362.1" width="4.21" height="14.2" fill="#C4183C" stroke="#444" stroke-width="0.45"/><line x1="207.56" y1="367.9" x2="211.78" y2="367.9" stroke="#222" stroke-width="0.8"/><circle cx="209.67" cy="435.3" r="1" fill="#111"/>
<line x1="215.21" y1="354.1" x2="215.21" y2="360.7" stroke="#6e6e6e" stroke-width="0.6"/><rect x="213.11" y="360.7" width="4.21" height="14.3" fill="#CDBA82" stroke="#444" stroke-width="0.45"/><line x1="213.11" y1="362.1" x2="217.32" y2="362.1" stroke="#222" stroke-width="0.8"/><circle cx="215.21" cy="449.6" r="1" fill="#111"/>
<line x1="220.75" y1="357.7" x2="220.75" y2="361.6" stroke="#6e6e6e" stroke-width="0.6"/><rect x="218.65" y="361.6" width="4.21" height="20" fill="#8C8C8C" stroke="#444" stroke-width="0.45"/><line x1="218.65" y1="366" x2="222.86" y2="366" stroke="#222" stroke-width="0.8"/><circle cx="220.75" cy="422.8" r="1" fill="#111"/>
<line x1="226.29" y1="348" x2="226.29" y2="354.5" stroke="#6e6e6e" stroke-width="0.6"/><rect x="224.19" y="354.5" width="4.21" height="20.5" fill="#00945E" stroke="#444" stroke-width="0.45"/><line x1="224.19" y1="361.2" x2="228.4" y2="361.2" stroke="#222" stroke-width="0.8"/><circle cx="226.29" cy="448.2" r="1" fill="#111"/>
<line x1="231.83" y1="357.7" x2="231.83" y2="364.2" stroke="#6e6e6e" stroke-width="0.6"/><rect x="229.73" y="364.2" width="4.21" height="19.1" fill="#F090B4" stroke="#444" stroke-width="0.45"/><line x1="229.73" y1="365.6" x2="233.94" y2="365.6" stroke="#222" stroke-width="0.8"/><circle cx="231.83" cy="423.3" r="1" fill="#111"/>
<line x1="237.38" y1="362.6" x2="237.38" y2="364.2" stroke="#6e6e6e" stroke-width="0.6"/><rect x="235.27" y="364.2" width="4.21" height="15.1" fill="#1465B0" stroke="#444" stroke-width="0.45"/><line x1="235.27" y1="372.4" x2="239.48" y2="372.4" stroke="#222" stroke-width="0.8"/><circle cx="237.38" cy="422.6" r="1" fill="#111"/>
<line x1="173.1" y1="503.5" x2="240.4" y2="503.5" stroke="#333" stroke-width="1"/>
<rect x="243.1" y="300.3" width="67.6" height="14.2" fill="#D2D2D2"/><text x="276.9" y="311.09" font-size="10.3" fill="#111" text-anchor="middle">STEAM_XGB</text>
<line x1="246.42" y1="350.6" x2="246.42" y2="352.4" stroke="#6e6e6e" stroke-width="0.6"/><rect x="244.32" y="352.4" width="4.21" height="20.7" fill="#FFFFFF" stroke="#444" stroke-width="0.45"/><line x1="244.32" y1="360" x2="248.53" y2="360" stroke="#222" stroke-width="0.8"/><circle cx="246.42" cy="459" r="1" fill="#111"/>
<rect x="249.86" y="356.3" width="4.21" height="43.8" fill="#222222" stroke="#444" stroke-width="0.45"/><circle cx="251.97" cy="467" r="1" fill="#111"/>
<line x1="257.51" y1="350.6" x2="257.51" y2="355" stroke="#6e6e6e" stroke-width="0.6"/><rect x="255.4" y="355" width="4.21" height="12.9" fill="#F6C51B" stroke="#444" stroke-width="0.45"/><line x1="255.4" y1="361.2" x2="259.61" y2="361.2" stroke="#222" stroke-width="0.8"/><circle cx="257.51" cy="442.7" r="1" fill="#111"/>
<line x1="263.05" y1="351.5" x2="263.05" y2="357.7" stroke="#6e6e6e" stroke-width="0.6"/><rect x="260.94" y="357.7" width="4.21" height="9.4" fill="#8E52A0" stroke="#444" stroke-width="0.45"/><line x1="260.94" y1="363" x2="265.15" y2="363" stroke="#222" stroke-width="0.8"/><circle cx="263.05" cy="438.9" r="1" fill="#111"/>
<rect x="266.48" y="360.3" width="4.21" height="16" fill="#F5871F" stroke="#444" stroke-width="0.45"/><line x1="266.48" y1="366.2" x2="270.69" y2="366.2" stroke="#222" stroke-width="0.8"/><circle cx="268.59" cy="445.7" r="1" fill="#111"/>
<rect x="272.02" y="363.5" width="4.21" height="27.8" fill="#A6CEF0" stroke="#444" stroke-width="0.45"/><line x1="272.02" y1="369.5" x2="276.24" y2="369.5" stroke="#222" stroke-width="0.8"/><circle cx="274.13" cy="445" r="1" fill="#111"/>
<line x1="279.67" y1="368.3" x2="279.67" y2="370.9" stroke="#6e6e6e" stroke-width="0.6"/><rect x="277.56" y="370.9" width="4.21" height="13.8" fill="#C4183C" stroke="#444" stroke-width="0.45"/><line x1="277.56" y1="372.4" x2="281.78" y2="372.4" stroke="#222" stroke-width="0.8"/><circle cx="279.67" cy="445" r="1" fill="#111"/>
<rect x="283.11" y="360.3" width="4.21" height="21.8" fill="#CDBA82" stroke="#444" stroke-width="0.45"/><line x1="283.11" y1="367.4" x2="287.32" y2="367.4" stroke="#222" stroke-width="0.8"/><circle cx="285.21" cy="456.7" r="1" fill="#111"/>
<rect x="288.65" y="360.3" width="4.21" height="23.9" fill="#8C8C8C" stroke="#444" stroke-width="0.45"/><line x1="288.65" y1="371.5" x2="292.86" y2="371.5" stroke="#222" stroke-width="0.8"/><circle cx="290.75" cy="463.8" r="1" fill="#111"/>
<rect x="294.19" y="352.4" width="4.21" height="24.7" fill="#00945E" stroke="#444" stroke-width="0.45"/><line x1="294.19" y1="365.6" x2="298.4" y2="365.6" stroke="#222" stroke-width="0.8"/><circle cx="296.29" cy="444.7" r="1" fill="#111"/>
<line x1="301.83" y1="360.3" x2="301.83" y2="362.6" stroke="#6e6e6e" stroke-width="0.6"/><rect x="299.73" y="362.6" width="4.21" height="24.8" fill="#F090B4" stroke="#444" stroke-width="0.45"/><line x1="299.73" y1="371.5" x2="303.94" y2="371.5" stroke="#222" stroke-width="0.8"/><circle cx="301.83" cy="454.2" r="1" fill="#111"/>
<line x1="307.38" y1="365.6" x2="307.38" y2="367.4" stroke="#6e6e6e" stroke-width="0.6"/><rect x="305.27" y="367.4" width="4.21" height="12.9" fill="#1465B0" stroke="#444" stroke-width="0.45"/><line x1="305.27" y1="370.4" x2="309.48" y2="370.4" stroke="#222" stroke-width="0.8"/><circle cx="307.38" cy="427.7" r="1" fill="#111"/>
<line x1="243.1" y1="503.5" x2="310.4" y2="503.5" stroke="#333" stroke-width="1"/>
<line x1="33.4" y1="314.5" x2="33.4" y2="504" stroke="#6e6e6e" stroke-width="1.3"/>
<text x="30.6" y="325.45" font-size="8.1" fill="#161616" text-anchor="end">1.00</text>
<text x="30.6" y="368.55" font-size="8.1" fill="#161616" text-anchor="end">0.75</text>
<text x="30.6" y="411.45" font-size="8.1" fill="#161616" text-anchor="end">0.50</text>
<text x="30.6" y="454.45" font-size="8.1" fill="#161616" text-anchor="end">0.25</text>
<text x="30.6" y="497.65" font-size="8.1" fill="#161616" text-anchor="end">0.00</text>
<text x="12" y="409.4" font-size="10.2" fill="#222" text-anchor="middle" transform="rotate(-90 12 409.4)">F1 Score</text>
<text x="319.4" y="341.6" font-size="8" fill="#111">Sample</text>
<line x1="325" y1="347.2" x2="325" y2="355" stroke="#555" stroke-width="0.5"/>
<rect x="320.3" y="348.5" width="9.4" height="5.2" fill="#FFFFFF" stroke="#555" stroke-width="0.45"/>
<line x1="320.3" y1="351.1" x2="329.7" y2="351.1" stroke="#333" stroke-width="0.6"/>
<text x="333.7" y="353.6" font-size="6.9" fill="#111">151669</text>
<line x1="325" y1="358.68" x2="325" y2="366.47" stroke="#555" stroke-width="0.5"/>
<rect x="320.3" y="359.97" width="9.4" height="5.2" fill="#222222" stroke="#555" stroke-width="0.45"/>
<line x1="320.3" y1="362.57" x2="329.7" y2="362.57" stroke="#333" stroke-width="0.6"/>
<text x="333.7" y="365.07" font-size="6.9" fill="#111">151670</text>
<line x1="325" y1="370.15" x2="325" y2="377.95" stroke="#555" stroke-width="0.5"/>
<rect x="320.3" y="371.45" width="9.4" height="5.2" fill="#F6C51B" stroke="#555" stroke-width="0.45"/>
<line x1="320.3" y1="374.05" x2="329.7" y2="374.05" stroke="#333" stroke-width="0.6"/>
<text x="333.7" y="376.55" font-size="6.9" fill="#111">151671</text>
<line x1="325" y1="381.62" x2="325" y2="389.42" stroke="#555" stroke-width="0.5"/>
<rect x="320.3" y="382.92" width="9.4" height="5.2" fill="#8E52A0" stroke="#555" stroke-width="0.45"/>
<line x1="320.3" y1="385.52" x2="329.7" y2="385.52" stroke="#333" stroke-width="0.6"/>
<text x="333.7" y="388.02" font-size="6.9" fill="#111">151672</text>
<line x1="325" y1="393.1" x2="325" y2="400.9" stroke="#555" stroke-width="0.5"/>
<rect x="320.3" y="394.4" width="9.4" height="5.2" fill="#F5871F" stroke="#555" stroke-width="0.45"/>
<line x1="320.3" y1="397" x2="329.7" y2="397" stroke="#333" stroke-width="0.6"/>
<text x="333.7" y="399.5" font-size="6.9" fill="#111">151674</text>
<line x1="325" y1="404.57" x2="325" y2="412.37" stroke="#555" stroke-width="0.5"/>
<rect x="320.3" y="405.87" width="9.4" height="5.2" fill="#A6CEF0" stroke="#555" stroke-width="0.45"/>
<line x1="320.3" y1="408.47" x2="329.7" y2="408.47" stroke="#333" stroke-width="0.6"/>
<text x="333.7" y="410.97" font-size="6.9" fill="#111">151673</text>
<line x1="325" y1="416.05" x2="325" y2="423.85" stroke="#555" stroke-width="0.5"/>
<rect x="320.3" y="417.35" width="9.4" height="5.2" fill="#C4183C" stroke="#555" stroke-width="0.45"/>
<line x1="320.3" y1="419.95" x2="329.7" y2="419.95" stroke="#333" stroke-width="0.6"/>
<text x="333.7" y="422.45" font-size="6.9" fill="#111">151676</text>
<line x1="325" y1="427.52" x2="325" y2="435.32" stroke="#555" stroke-width="0.5"/>
<rect x="320.3" y="428.82" width="9.4" height="5.2" fill="#CDBA82" stroke="#555" stroke-width="0.45"/>
<line x1="320.3" y1="431.42" x2="329.7" y2="431.42" stroke="#333" stroke-width="0.6"/>
<text x="333.7" y="433.92" font-size="6.9" fill="#111">151509</text>
<line x1="325" y1="439" x2="325" y2="446.8" stroke="#555" stroke-width="0.5"/>
<rect x="320.3" y="440.3" width="9.4" height="5.2" fill="#8C8C8C" stroke="#555" stroke-width="0.45"/>
<line x1="320.3" y1="442.9" x2="329.7" y2="442.9" stroke="#333" stroke-width="0.6"/>
<text x="333.7" y="445.4" font-size="6.9" fill="#111">151508</text>
<line x1="325" y1="450.47" x2="325" y2="458.27" stroke="#555" stroke-width="0.5"/>
<rect x="320.3" y="451.77" width="9.4" height="5.2" fill="#00945E" stroke="#555" stroke-width="0.45"/>
<line x1="320.3" y1="454.37" x2="329.7" y2="454.37" stroke="#333" stroke-width="0.6"/>
<text x="333.7" y="456.87" font-size="6.9" fill="#111">151510</text>
<line x1="325" y1="461.95" x2="325" y2="469.75" stroke="#555" stroke-width="0.5"/>
<rect x="320.3" y="463.25" width="9.4" height="5.2" fill="#F090B4" stroke="#555" stroke-width="0.45"/>
<line x1="320.3" y1="465.85" x2="329.7" y2="465.85" stroke="#333" stroke-width="0.6"/>
<text x="333.7" y="468.35" font-size="6.9" fill="#111">151507</text>
<line x1="325" y1="473.42" x2="325" y2="481.22" stroke="#555" stroke-width="0.5"/>
<rect x="320.3" y="474.72" width="9.4" height="5.2" fill="#1465B0" stroke="#555" stroke-width="0.45"/>
<line x1="320.3" y1="477.32" x2="329.7" y2="477.32" stroke="#333" stroke-width="0.6"/>
<text x="333.7" y="479.82" font-size="6.9" fill="#111">151675</text>
<rect x="420.5" y="300.3" width="67.6" height="14.2" fill="#D2D2D2"/><text x="454.3" y="311.09" font-size="10.3" fill="#111" text-anchor="middle">STEAM_MN</text>
<line x1="423.82" y1="342.7" x2="423.82" y2="344.4" stroke="#6e6e6e" stroke-width="0.6"/><line x1="423.82" y1="376.3" x2="423.82" y2="417.8" stroke="#6e6e6e" stroke-width="0.6"/><rect x="421.72" y="344.4" width="4.21" height="31.9" fill="#FFFFFF" stroke="#444" stroke-width="0.45"/><line x1="421.72" y1="356.3" x2="425.93" y2="356.3" stroke="#222" stroke-width="0.8"/>
<line x1="429.37" y1="347.1" x2="429.37" y2="355" stroke="#6e6e6e" stroke-width="0.6"/><line x1="429.37" y1="378.5" x2="429.37" y2="407.5" stroke="#6e6e6e" stroke-width="0.6"/><rect x="427.26" y="355" width="4.21" height="23.5" fill="#222222" stroke="#444" stroke-width="0.45"/>
<line x1="434.91" y1="340.9" x2="434.91" y2="346.5" stroke="#6e6e6e" stroke-width="0.6"/><line x1="434.91" y1="377.1" x2="434.91" y2="398.4" stroke="#6e6e6e" stroke-width="0.6"/><rect x="432.8" y="346.5" width="4.21" height="30.6" fill="#F6C51B" stroke="#444" stroke-width="0.45"/><line x1="432.8" y1="354.5" x2="437.01" y2="354.5" stroke="#222" stroke-width="0.8"/>
<line x1="440.45" y1="345.8" x2="440.45" y2="351.1" stroke="#6e6e6e" stroke-width="0.6"/><line x1="440.45" y1="389.5" x2="440.45" y2="399.8" stroke="#6e6e6e" stroke-width="0.6"/><rect x="438.34" y="351.1" width="4.21" height="38.4" fill="#8E52A0" stroke="#444" stroke-width="0.45"/><line x1="438.34" y1="352" x2="442.55" y2="352" stroke="#222" stroke-width="0.8"/>
<line x1="445.99" y1="356.4" x2="445.99" y2="358" stroke="#6e6e6e" stroke-width="0.6"/><line x1="445.99" y1="390.8" x2="445.99" y2="430.5" stroke="#6e6e6e" stroke-width="0.6"/><rect x="443.88" y="358" width="4.21" height="32.8" fill="#F5871F" stroke="#444" stroke-width="0.45"/><line x1="443.88" y1="377.5" x2="448.09" y2="377.5" stroke="#222" stroke-width="0.8"/>
<line x1="451.53" y1="356.8" x2="451.53" y2="371.5" stroke="#6e6e6e" stroke-width="0.6"/><rect x="449.42" y="371.5" width="4.21" height="20.7" fill="#A6CEF0" stroke="#444" stroke-width="0.45"/><line x1="449.42" y1="380.3" x2="453.64" y2="380.3" stroke="#222" stroke-width="0.8"/><circle cx="451.53" cy="436" r="1" fill="#111"/>
<line x1="457.07" y1="359.8" x2="457.07" y2="363.3" stroke="#6e6e6e" stroke-width="0.6"/><line x1="457.07" y1="392.7" x2="457.07" y2="427.9" stroke="#6e6e6e" stroke-width="0.6"/><rect x="454.96" y="363.3" width="4.21" height="29.4" fill="#C4183C" stroke="#444" stroke-width="0.45"/><line x1="454.96" y1="373.1" x2="459.18" y2="373.1" stroke="#222" stroke-width="0.8"/>
<line x1="462.61" y1="363" x2="462.61" y2="369.5" stroke="#6e6e6e" stroke-width="0.6"/><rect x="460.51" y="369.5" width="4.21" height="25" fill="#CDBA82" stroke="#444" stroke-width="0.45"/><line x1="460.51" y1="376.8" x2="464.72" y2="376.8" stroke="#222" stroke-width="0.8"/><circle cx="462.61" cy="444" r="1" fill="#111"/>
<line x1="468.15" y1="357.2" x2="468.15" y2="360.3" stroke="#6e6e6e" stroke-width="0.6"/><line x1="468.15" y1="396.9" x2="468.15" y2="400.5" stroke="#6e6e6e" stroke-width="0.6"/><rect x="466.05" y="360.3" width="4.21" height="36.6" fill="#8C8C8C" stroke="#444" stroke-width="0.45"/><line x1="466.05" y1="363" x2="470.26" y2="363" stroke="#222" stroke-width="0.8"/>
<line x1="473.69" y1="357.7" x2="473.69" y2="364.8" stroke="#6e6e6e" stroke-width="0.6"/><rect x="471.59" y="364.8" width="4.21" height="31.8" fill="#00945E" stroke="#444" stroke-width="0.45"/><line x1="471.59" y1="369.5" x2="475.8" y2="369.5" stroke="#222" stroke-width="0.8"/><circle cx="473.69" cy="454.1" r="1" fill="#111"/>
<line x1="479.23" y1="356.8" x2="479.23" y2="363.5" stroke="#6e6e6e" stroke-width="0.6"/><line x1="479.23" y1="402.2" x2="479.23" y2="412.5" stroke="#6e6e6e" stroke-width="0.6"/><rect x="477.13" y="363.5" width="4.21" height="38.7" fill="#F090B4" stroke="#444" stroke-width="0.45"/><line x1="477.13" y1="366.2" x2="481.34" y2="366.2" stroke="#222" stroke-width="0.8"/>
<line x1="484.78" y1="370.9" x2="484.78" y2="373.6" stroke="#6e6e6e" stroke-width="0.6"/><line x1="484.78" y1="401.5" x2="484.78" y2="428.4" stroke="#6e6e6e" stroke-width="0.6"/><rect x="482.67" y="373.6" width="4.21" height="27.9" fill="#1465B0" stroke="#444" stroke-width="0.45"/><line x1="482.67" y1="387.7" x2="486.88" y2="387.7" stroke="#222" stroke-width="0.8"/>
<line x1="420.5" y1="503.5" x2="487.8" y2="503.5" stroke="#333" stroke-width="1"/>
<rect x="490.4" y="300.3" width="67.6" height="14.2" fill="#D2D2D2"/><text x="524.2" y="311.09" font-size="10.3" fill="#111" text-anchor="middle">STEAM_RF</text>
<line x1="493.72" y1="348" x2="493.72" y2="355.6" stroke="#6e6e6e" stroke-width="0.6"/><rect x="491.62" y="355.6" width="4.21" height="11.8" fill="#FFFFFF" stroke="#444" stroke-width="0.45"/><line x1="491.62" y1="363" x2="495.83" y2="363" stroke="#222" stroke-width="0.8"/><circle cx="493.72" cy="418.2" r="1" fill="#111"/>
<line x1="499.27" y1="355" x2="499.27" y2="360.9" stroke="#6e6e6e" stroke-width="0.6"/><rect x="497.16" y="360.9" width="4.21" height="12.3" fill="#222222" stroke="#444" stroke-width="0.45"/><circle cx="499.27" cy="428.1" r="1" fill="#111"/>
<line x1="504.81" y1="348.5" x2="504.81" y2="349.7" stroke="#6e6e6e" stroke-width="0.6"/><rect x="502.7" y="349.7" width="4.21" height="13.3" fill="#F6C51B" stroke="#444" stroke-width="0.45"/><line x1="502.7" y1="352.7" x2="506.91" y2="352.7" stroke="#222" stroke-width="0.8"/><circle cx="504.81" cy="430.5" r="1" fill="#111"/>
<line x1="510.35" y1="350.6" x2="510.35" y2="352.7" stroke="#6e6e6e" stroke-width="0.6"/><line x1="510.35" y1="373.1" x2="510.35" y2="400.7" stroke="#6e6e6e" stroke-width="0.6"/><rect x="508.24" y="352.7" width="4.21" height="20.4" fill="#8E52A0" stroke="#444" stroke-width="0.45"/><line x1="508.24" y1="353.8" x2="512.45" y2="353.8" stroke="#222" stroke-width="0.8"/>
<line x1="515.89" y1="361.2" x2="515.89" y2="364.4" stroke="#6e6e6e" stroke-width="0.6"/><rect x="513.78" y="364.4" width="4.21" height="11.9" fill="#F5871F" stroke="#444" stroke-width="0.45"/><line x1="513.78" y1="365.6" x2="517.99" y2="365.6" stroke="#222" stroke-width="0.8"/><circle cx="515.89" cy="434.6" r="1" fill="#111"/>
<line x1="521.43" y1="360" x2="521.43" y2="364.4" stroke="#6e6e6e" stroke-width="0.6"/><rect x="519.32" y="364.4" width="4.21" height="7.1" fill="#A6CEF0" stroke="#444" stroke-width="0.45"/><line x1="519.32" y1="369.2" x2="523.54" y2="369.2" stroke="#222" stroke-width="0.8"/><circle cx="521.43" cy="434.8" r="1" fill="#111"/>
<rect x="524.86" y="364.4" width="4.21" height="8.7" fill="#C4183C" stroke="#444" stroke-width="0.45"/><line x1="524.86" y1="371.5" x2="529.08" y2="371.5" stroke="#222" stroke-width="0.8"/><circle cx="526.97" cy="433" r="1" fill="#111"/>
<rect x="530.41" y="365.6" width="4.21" height="9.8" fill="#CDBA82" stroke="#444" stroke-width="0.45"/><line x1="530.41" y1="374" x2="534.62" y2="374" stroke="#222" stroke-width="0.8"/><circle cx="532.51" cy="458" r="1" fill="#111"/>
<rect x="535.95" y="364.4" width="4.21" height="13.1" fill="#8C8C8C" stroke="#444" stroke-width="0.45"/><line x1="535.95" y1="369.5" x2="540.16" y2="369.5" stroke="#222" stroke-width="0.8"/><circle cx="538.05" cy="457.1" r="1" fill="#111"/>
<line x1="543.59" y1="362.1" x2="543.59" y2="368.6" stroke="#6e6e6e" stroke-width="0.6"/><rect x="541.49" y="368.6" width="4.21" height="10.7" fill="#00945E" stroke="#444" stroke-width="0.45"/><line x1="541.49" y1="369.7" x2="545.7" y2="369.7" stroke="#222" stroke-width="0.8"/><circle cx="543.59" cy="471.2" r="1" fill="#111"/>
<line x1="549.13" y1="360.3" x2="549.13" y2="366.2" stroke="#6e6e6e" stroke-width="0.6"/><rect x="547.03" y="366.2" width="4.21" height="10.1" fill="#F090B4" stroke="#444" stroke-width="0.45"/><line x1="547.03" y1="367.8" x2="551.24" y2="367.8" stroke="#222" stroke-width="0.8"/><circle cx="549.13" cy="457.2" r="1" fill="#111"/>
<rect x="552.57" y="365.6" width="4.21" height="8.9" fill="#1465B0" stroke="#444" stroke-width="0.45"/><line x1="552.57" y1="372.7" x2="556.78" y2="372.7" stroke="#222" stroke-width="0.8"/><circle cx="554.68" cy="422.8" r="1" fill="#111"/>
<line x1="490.4" y1="503.5" x2="557.7" y2="503.5" stroke="#333" stroke-width="1"/>
<rect x="560.5" y="300.3" width="67.6" height="14.2" fill="#D2D2D2"/><text x="594.3" y="311.09" font-size="10.3" fill="#111" text-anchor="middle">STEAM_SVM</text>
<line x1="563.82" y1="346.7" x2="563.82" y2="349.2" stroke="#6e6e6e" stroke-width="0.6"/><rect x="561.72" y="349.2" width="4.21" height="19.4" fill="#FFFFFF" stroke="#444" stroke-width="0.45"/><line x1="561.72" y1="358.2" x2="565.93" y2="358.2" stroke="#222" stroke-width="0.8"/><circle cx="563.82" cy="416" r="1" fill="#111"/>
<line x1="569.37" y1="354.1" x2="569.37" y2="362.1" stroke="#6e6e6e" stroke-width="0.6"/><line x1="569.37" y1="376.6" x2="569.37" y2="398.7" stroke="#6e6e6e" stroke-width="0.6"/><rect x="567.26" y="362.1" width="4.21" height="14.5" fill="#222222" stroke="#444" stroke-width="0.45"/>
<line x1="574.91" y1="346.2" x2="574.91" y2="355.4" stroke="#6e6e6e" stroke-width="0.6"/><line x1="574.91" y1="373.6" x2="574.91" y2="399.2" stroke="#6e6e6e" stroke-width="0.6"/><rect x="572.8" y="355.4" width="4.21" height="18.2" fill="#F6C51B" stroke="#444" stroke-width="0.45"/><line x1="572.8" y1="357.3" x2="577.01" y2="357.3" stroke="#222" stroke-width="0.8"/>
<line x1="580.45" y1="378" x2="580.45" y2="392.5" stroke="#6e6e6e" stroke-width="0.6"/><rect x="578.34" y="354.1" width="4.21" height="23.9" fill="#8E52A0" stroke="#444" stroke-width="0.45"/><line x1="578.34" y1="356.3" x2="582.55" y2="356.3" stroke="#222" stroke-width="0.8"/>
<rect x="583.88" y="352.7" width="4.21" height="19.1" fill="#F5871F" stroke="#444" stroke-width="0.45"/><line x1="583.88" y1="369.7" x2="588.09" y2="369.7" stroke="#222" stroke-width="0.8"/><circle cx="585.99" cy="426.8" r="1" fill="#111"/>
<line x1="591.53" y1="352" x2="591.53" y2="353.8" stroke="#6e6e6e" stroke-width="0.6"/><rect x="589.42" y="353.8" width="4.21" height="17.5" fill="#A6CEF0" stroke="#444" stroke-width="0.45"/><line x1="589.42" y1="365.3" x2="593.64" y2="365.3" stroke="#222" stroke-width="0.8"/><circle cx="591.53" cy="428.8" r="1" fill="#111"/>
<rect x="594.96" y="357.7" width="4.21" height="18.9" fill="#C4183C" stroke="#444" stroke-width="0.45"/><line x1="594.96" y1="362.5" x2="599.18" y2="362.5" stroke="#222" stroke-width="0.8"/><circle cx="597.07" cy="426.8" r="1" fill="#111"/>
<line x1="602.61" y1="355.6" x2="602.61" y2="362.1" stroke="#6e6e6e" stroke-width="0.6"/><rect x="600.51" y="362.1" width="4.21" height="20.3" fill="#CDBA82" stroke="#444" stroke-width="0.45"/><line x1="600.51" y1="366.2" x2="604.72" y2="366.2" stroke="#222" stroke-width="0.8"/><circle cx="602.61" cy="452.8" r="1" fill="#111"/>
<line x1="608.15" y1="358.2" x2="608.15" y2="363.3" stroke="#6e6e6e" stroke-width="0.6"/><line x1="608.15" y1="386.5" x2="608.15" y2="418.7" stroke="#6e6e6e" stroke-width="0.6"/><rect x="606.05" y="363.3" width="4.21" height="23.2" fill="#8C8C8C" stroke="#444" stroke-width="0.45"/><line x1="606.05" y1="364.2" x2="610.26" y2="364.2" stroke="#222" stroke-width="0.8"/>
<line x1="613.69" y1="352.4" x2="613.69" y2="357.2" stroke="#6e6e6e" stroke-width="0.6"/><rect x="611.59" y="357.2" width="4.21" height="27" fill="#00945E" stroke="#444" stroke-width="0.45"/><line x1="611.59" y1="362.5" x2="615.8" y2="362.5" stroke="#222" stroke-width="0.8"/><circle cx="613.69" cy="448.8" r="1" fill="#111"/>
<line x1="619.23" y1="357.7" x2="619.23" y2="364.8" stroke="#6e6e6e" stroke-width="0.6"/><rect x="617.13" y="364.8" width="4.21" height="22.6" fill="#F090B4" stroke="#444" stroke-width="0.45"/><line x1="617.13" y1="365.6" x2="621.34" y2="365.6" stroke="#222" stroke-width="0.8"/><circle cx="619.23" cy="423.8" r="1" fill="#111"/>
<rect x="622.67" y="362.5" width="4.21" height="19.4" fill="#1465B0" stroke="#444" stroke-width="0.45"/><line x1="622.67" y1="369.2" x2="626.88" y2="369.2" stroke="#222" stroke-width="0.8"/><circle cx="624.78" cy="421.9" r="1" fill="#111"/>
<line x1="560.5" y1="503.5" x2="627.8" y2="503.5" stroke="#333" stroke-width="1"/>
<rect x="630.5" y="300.3" width="67.6" height="14.2" fill="#D2D2D2"/><text x="664.3" y="311.09" font-size="10.3" fill="#111" text-anchor="middle">STEAM_XGB</text>
<line x1="633.82" y1="348" x2="633.82" y2="350.6" stroke="#6e6e6e" stroke-width="0.6"/><rect x="631.72" y="350.6" width="4.21" height="23" fill="#FFFFFF" stroke="#444" stroke-width="0.45"/><line x1="631.72" y1="360.3" x2="635.93" y2="360.3" stroke="#222" stroke-width="0.8"/><circle cx="633.82" cy="480" r="1" fill="#111"/>
<rect x="637.26" y="350.6" width="4.21" height="42.4" fill="#222222" stroke="#444" stroke-width="0.45"/><circle cx="639.37" cy="480" r="1" fill="#111"/>
<line x1="644.91" y1="343.2" x2="644.91" y2="348.3" stroke="#6e6e6e" stroke-width="0.6"/><rect x="642.8" y="348.3" width="4.21" height="13.5" fill="#F6C51B" stroke="#444" stroke-width="0.45"/><line x1="642.8" y1="357.3" x2="647.01" y2="357.3" stroke="#222" stroke-width="0.8"/><circle cx="644.91" cy="456.7" r="1" fill="#111"/>
<line x1="650.45" y1="348.8" x2="650.45" y2="353.3" stroke="#6e6e6e" stroke-width="0.6"/><rect x="648.34" y="353.3" width="4.21" height="15.9" fill="#8E52A0" stroke="#444" stroke-width="0.45"/><line x1="648.34" y1="363.3" x2="652.55" y2="363.3" stroke="#222" stroke-width="0.8"/><circle cx="650.45" cy="430.9" r="1" fill="#111"/>
<rect x="653.88" y="357.3" width="4.21" height="14.2" fill="#F5871F" stroke="#444" stroke-width="0.45"/><line x1="653.88" y1="365.3" x2="658.09" y2="365.3" stroke="#222" stroke-width="0.8"/><circle cx="655.99" cy="443.8" r="1" fill="#111"/>
<line x1="661.53" y1="357.7" x2="661.53" y2="361.2" stroke="#6e6e6e" stroke-width="0.6"/><rect x="659.42" y="361.2" width="4.21" height="26.2" fill="#A6CEF0" stroke="#444" stroke-width="0.45"/><line x1="659.42" y1="367.8" x2="663.64" y2="367.8" stroke="#222" stroke-width="0.8"/><circle cx="661.53" cy="442.7" r="1" fill="#111"/>
<line x1="667.07" y1="360.9" x2="667.07" y2="364.8" stroke="#6e6e6e" stroke-width="0.6"/><rect x="664.96" y="364.8" width="4.21" height="14.5" fill="#C4183C" stroke="#444" stroke-width="0.45"/><line x1="664.96" y1="368.3" x2="669.18" y2="368.3" stroke="#222" stroke-width="0.8"/><circle cx="667.07" cy="441.3" r="1" fill="#111"/>
<line x1="672.61" y1="359.1" x2="672.61" y2="362.5" stroke="#6e6e6e" stroke-width="0.6"/><rect x="670.51" y="362.5" width="4.21" height="18.5" fill="#CDBA82" stroke="#444" stroke-width="0.45"/><line x1="670.51" y1="370.4" x2="674.72" y2="370.4" stroke="#222" stroke-width="0.8"/><circle cx="672.61" cy="466.6" r="1" fill="#111"/>
<rect x="676.05" y="361.2" width="4.21" height="22.1" fill="#8C8C8C" stroke="#444" stroke-width="0.45"/><line x1="676.05" y1="372.7" x2="680.26" y2="372.7" stroke="#222" stroke-width="0.8"/><circle cx="678.15" cy="467.3" r="1" fill="#111"/>
<rect x="681.59" y="358" width="4.21" height="17" fill="#00945E" stroke="#444" stroke-width="0.45"/><line x1="681.59" y1="369.7" x2="685.8" y2="369.7" stroke="#222" stroke-width="0.8"/><circle cx="683.69" cy="488" r="1" fill="#111"/>
<rect x="687.13" y="360.7" width="4.21" height="26.7" fill="#F090B4" stroke="#444" stroke-width="0.45"/><line x1="687.13" y1="372.4" x2="691.34" y2="372.4" stroke="#222" stroke-width="0.8"/><circle cx="689.23" cy="469.6" r="1" fill="#111"/>
<rect x="692.67" y="365.3" width="4.21" height="13.2" fill="#1465B0" stroke="#444" stroke-width="0.45"/><line x1="692.67" y1="372.4" x2="696.88" y2="372.4" stroke="#222" stroke-width="0.8"/><circle cx="694.78" cy="429.8" r="1" fill="#111"/>
<line x1="630.5" y1="503.5" x2="697.8" y2="503.5" stroke="#333" stroke-width="1"/>
<line x1="420.6" y1="314.5" x2="420.6" y2="504" stroke="#222" stroke-width="1"/>
<text x="418.3" y="325.25" font-size="8.1" fill="#161616" text-anchor="end">1.00</text>
<text x="418.3" y="368.25" font-size="8.1" fill="#161616" text-anchor="end">0.75</text>
<text x="418.3" y="411.35" font-size="8.1" fill="#161616" text-anchor="end">0.50</text>
<text x="418.3" y="454.55" font-size="8.1" fill="#161616" text-anchor="end">0.25</text>
<text x="418.3" y="497.85" font-size="8.1" fill="#161616" text-anchor="end">0.00</text>
<text x="398.7" y="408.9" font-size="10.2" fill="#222" text-anchor="middle" transform="rotate(-90 398.7 408.9)">Kappa</text>
<text x="706.7" y="341.6" font-size="8" fill="#111">Sample</text>
<line x1="712.3" y1="347.2" x2="712.3" y2="355" stroke="#555" stroke-width="0.5"/>
<rect x="707.6" y="348.5" width="9.4" height="5.2" fill="#FFFFFF" stroke="#555" stroke-width="0.45"/>
<line x1="707.6" y1="351.1" x2="717" y2="351.1" stroke="#333" stroke-width="0.6"/>
<text x="721" y="353.6" font-size="6.9" fill="#111">151669</text>
<line x1="712.3" y1="358.68" x2="712.3" y2="366.47" stroke="#555" stroke-width="0.5"/>
<rect x="707.6" y="359.97" width="9.4" height="5.2" fill="#222222" stroke="#555" stroke-width="0.45"/>
<line x1="707.6" y1="362.57" x2="717" y2="362.57" stroke="#333" stroke-width="0.6"/>
<text x="721" y="365.07" font-size="6.9" fill="#111">151670</text>
<line x1="712.3" y1="370.15" x2="712.3" y2="377.95" stroke="#555" stroke-width="0.5"/>
<rect x="707.6" y="371.45" width="9.4" height="5.2" fill="#F6C51B" stroke="#555" stroke-width="0.45"/>
<line x1="707.6" y1="374.05" x2="717" y2="374.05" stroke="#333" stroke-width="0.6"/>
<text x="721" y="376.55" font-size="6.9" fill="#111">151671</text>
<line x1="712.3" y1="381.62" x2="712.3" y2="389.42" stroke="#555" stroke-width="0.5"/>
<rect x="707.6" y="382.92" width="9.4" height="5.2" fill="#8E52A0" stroke="#555" stroke-width="0.45"/>
<line x1="707.6" y1="385.52" x2="717" y2="385.52" stroke="#333" stroke-width="0.6"/>
<text x="721" y="388.02" font-size="6.9" fill="#111">151672</text>
<line x1="712.3" y1="393.1" x2="712.3" y2="400.9" stroke="#555" stroke-width="0.5"/>
<rect x="707.6" y="394.4" width="9.4" height="5.2" fill="#F5871F" stroke="#555" stroke-width="0.45"/>
<line x1="707.6" y1="397" x2="717" y2="397" stroke="#333" stroke-width="0.6"/>
<text x="721" y="399.5" font-size="6.9" fill="#111">151674</text>
<line x1="712.3" y1="404.57" x2="712.3" y2="412.37" stroke="#555" stroke-width="0.5"/>
<rect x="707.6" y="405.87" width="9.4" height="5.2" fill="#A6CEF0" stroke="#555" stroke-width="0.45"/>
<line x1="707.6" y1="408.47" x2="717" y2="408.47" stroke="#333" stroke-width="0.6"/>
<text x="721" y="410.97" font-size="6.9" fill="#111">151673</text>
<line x1="712.3" y1="416.05" x2="712.3" y2="423.85" stroke="#555" stroke-width="0.5"/>
<rect x="707.6" y="417.35" width="9.4" height="5.2" fill="#C4183C" stroke="#555" stroke-width="0.45"/>
<line x1="707.6" y1="419.95" x2="717" y2="419.95" stroke="#333" stroke-width="0.6"/>
<text x="721" y="422.45" font-size="6.9" fill="#111">151676</text>
<line x1="712.3" y1="427.52" x2="712.3" y2="435.32" stroke="#555" stroke-width="0.5"/>
<rect x="707.6" y="428.82" width="9.4" height="5.2" fill="#CDBA82" stroke="#555" stroke-width="0.45"/>
<line x1="707.6" y1="431.42" x2="717" y2="431.42" stroke="#333" stroke-width="0.6"/>
<text x="721" y="433.92" font-size="6.9" fill="#111">151509</text>
<line x1="712.3" y1="439" x2="712.3" y2="446.8" stroke="#555" stroke-width="0.5"/>
<rect x="707.6" y="440.3" width="9.4" height="5.2" fill="#8C8C8C" stroke="#555" stroke-width="0.45"/>
<line x1="707.6" y1="442.9" x2="717" y2="442.9" stroke="#333" stroke-width="0.6"/>
<text x="721" y="445.4" font-size="6.9" fill="#111">151508</text>
<line x1="712.3" y1="450.47" x2="712.3" y2="458.27" stroke="#555" stroke-width="0.5"/>
<rect x="707.6" y="451.77" width="9.4" height="5.2" fill="#00945E" stroke="#555" stroke-width="0.45"/>
<line x1="707.6" y1="454.37" x2="717" y2="454.37" stroke="#333" stroke-width="0.6"/>
<text x="721" y="456.87" font-size="6.9" fill="#111">151510</text>
<line x1="712.3" y1="461.95" x2="712.3" y2="469.75" stroke="#555" stroke-width="0.5"/>
<rect x="707.6" y="463.25" width="9.4" height="5.2" fill="#F090B4" stroke="#555" stroke-width="0.45"/>
<line x1="707.6" y1="465.85" x2="717" y2="465.85" stroke="#333" stroke-width="0.6"/>
<text x="721" y="468.35" font-size="6.9" fill="#111">151507</text>
<line x1="712.3" y1="473.42" x2="712.3" y2="481.22" stroke="#555" stroke-width="0.5"/>
<rect x="707.6" y="474.72" width="9.4" height="5.2" fill="#1465B0" stroke="#555" stroke-width="0.45"/>
<line x1="707.6" y1="477.32" x2="717" y2="477.32" stroke="#333" stroke-width="0.6"/>
<text x="721" y="479.82" font-size="6.9" fill="#111">151675</text>
<rect x="36.2" y="546.4" width="67.6" height="13.8" fill="#D2D2D2"/><text x="70" y="556.99" font-size="10.3" fill="#111" text-anchor="middle">STEAM_MN</text>
<line x1="39.52" y1="583.1" x2="39.52" y2="587.1" stroke="#6e6e6e" stroke-width="0.6"/><line x1="39.52" y1="625.7" x2="39.52" y2="628.3" stroke="#6e6e6e" stroke-width="0.6"/><rect x="37.42" y="587.1" width="4.21" height="38.6" fill="#FFFFFF" stroke="#444" stroke-width="0.45"/><line x1="37.42" y1="599.1" x2="41.63" y2="599.1" stroke="#222" stroke-width="0.8"/>
<line x1="45.07" y1="584.1" x2="45.07" y2="590.3" stroke="#6e6e6e" stroke-width="0.6"/><rect x="42.96" y="590.3" width="4.21" height="28.7" fill="#222222" stroke="#444" stroke-width="0.45"/>
<line x1="50.61" y1="587.1" x2="50.61" y2="595.1" stroke="#6e6e6e" stroke-width="0.6"/><line x1="50.61" y1="633.1" x2="50.61" y2="635.4" stroke="#6e6e6e" stroke-width="0.6"/><rect x="48.5" y="595.1" width="4.21" height="38" fill="#F6C51B" stroke="#444" stroke-width="0.45"/><line x1="48.5" y1="603.6" x2="52.71" y2="603.6" stroke="#222" stroke-width="0.8"/>
<line x1="56.15" y1="593.8" x2="56.15" y2="602.2" stroke="#6e6e6e" stroke-width="0.6"/><rect x="54.04" y="602.2" width="4.21" height="49.1" fill="#8E52A0" stroke="#444" stroke-width="0.45"/><line x1="54.04" y1="602.7" x2="58.25" y2="602.7" stroke="#222" stroke-width="0.8"/>
<line x1="61.69" y1="618.1" x2="61.69" y2="620.4" stroke="#6e6e6e" stroke-width="0.6"/><line x1="61.69" y1="666.7" x2="61.69" y2="697.6" stroke="#6e6e6e" stroke-width="0.6"/><rect x="59.58" y="620.4" width="4.21" height="46.3" fill="#F5871F" stroke="#444" stroke-width="0.45"/><line x1="59.58" y1="642.5" x2="63.79" y2="642.5" stroke="#222" stroke-width="0.8"/>
<line x1="67.23" y1="618.1" x2="67.23" y2="635.4" stroke="#6e6e6e" stroke-width="0.6"/><line x1="67.23" y1="666.7" x2="67.23" y2="702.6" stroke="#6e6e6e" stroke-width="0.6"/><rect x="65.12" y="635.4" width="4.21" height="31.3" fill="#A6CEF0" stroke="#444" stroke-width="0.45"/><line x1="65.12" y1="647.2" x2="69.34" y2="647.2" stroke="#222" stroke-width="0.8"/>
<line x1="72.77" y1="621.6" x2="72.77" y2="625.7" stroke="#6e6e6e" stroke-width="0.6"/><line x1="72.77" y1="669.3" x2="72.77" y2="696.1" stroke="#6e6e6e" stroke-width="0.6"/><rect x="70.66" y="625.7" width="4.21" height="43.6" fill="#C4183C" stroke="#444" stroke-width="0.45"/><line x1="70.66" y1="640.3" x2="74.88" y2="640.3" stroke="#222" stroke-width="0.8"/>
<line x1="78.31" y1="619.8" x2="78.31" y2="623.4" stroke="#6e6e6e" stroke-width="0.6"/><line x1="78.31" y1="662.3" x2="78.31" y2="691.6" stroke="#6e6e6e" stroke-width="0.6"/><rect x="76.21" y="623.4" width="4.21" height="38.9" fill="#CDBA82" stroke="#444" stroke-width="0.45"/><line x1="76.21" y1="636.3" x2="80.42" y2="636.3" stroke="#222" stroke-width="0.8"/>
<line x1="83.85" y1="619.5" x2="83.85" y2="623.4" stroke="#6e6e6e" stroke-width="0.6"/><line x1="83.85" y1="658.4" x2="83.85" y2="669.3" stroke="#6e6e6e" stroke-width="0.6"/><rect x="81.75" y="623.4" width="4.21" height="35" fill="#8C8C8C" stroke="#444" stroke-width="0.45"/><line x1="81.75" y1="623.5" x2="85.96" y2="623.5" stroke="#222" stroke-width="0.8"/>
<line x1="89.39" y1="613.3" x2="89.39" y2="618.6" stroke="#6e6e6e" stroke-width="0.6"/><line x1="89.39" y1="666.9" x2="89.39" y2="697.3" stroke="#6e6e6e" stroke-width="0.6"/><rect x="87.29" y="618.6" width="4.21" height="48.3" fill="#00945E" stroke="#444" stroke-width="0.45"/><line x1="87.29" y1="627.4" x2="91.5" y2="627.4" stroke="#222" stroke-width="0.8"/>
<line x1="94.93" y1="619.5" x2="94.93" y2="626.2" stroke="#6e6e6e" stroke-width="0.6"/><line x1="94.93" y1="662.5" x2="94.93" y2="674.8" stroke="#6e6e6e" stroke-width="0.6"/><rect x="92.83" y="626.2" width="4.21" height="36.3" fill="#F090B4" stroke="#444" stroke-width="0.45"/><line x1="92.83" y1="626.9" x2="97.04" y2="626.9" stroke="#222" stroke-width="0.8"/>
<line x1="100.48" y1="640.2" x2="100.48" y2="643.4" stroke="#6e6e6e" stroke-width="0.6"/><line x1="100.48" y1="679.3" x2="100.48" y2="691.6" stroke="#6e6e6e" stroke-width="0.6"/><rect x="98.37" y="643.4" width="4.21" height="35.9" fill="#1465B0" stroke="#444" stroke-width="0.45"/><line x1="98.37" y1="658" x2="102.58" y2="658" stroke="#222" stroke-width="0.8"/>
<line x1="36.2" y1="748.6" x2="103.5" y2="748.6" stroke="#222" stroke-width="1.3"/>
<rect x="106.3" y="546.4" width="67.6" height="13.8" fill="#D2D2D2"/><text x="140.1" y="556.99" font-size="10.3" fill="#111" text-anchor="middle">STEAM_RF</text>
<line x1="109.62" y1="589.4" x2="109.62" y2="599.7" stroke="#6e6e6e" stroke-width="0.6"/><rect x="107.52" y="599.7" width="4.21" height="12.7" fill="#FFFFFF" stroke="#444" stroke-width="0.45"/><circle cx="109.62" cy="654" r="1" fill="#111"/>
<rect x="113.06" y="597" width="4.21" height="22.5" fill="#222222" stroke="#444" stroke-width="0.45"/><circle cx="115.17" cy="660.9" r="1" fill="#111"/>
<rect x="118.6" y="597.4" width="4.21" height="26.1" fill="#F6C51B" stroke="#444" stroke-width="0.45"/><line x1="118.6" y1="603.2" x2="122.81" y2="603.2" stroke="#222" stroke-width="0.8"/><circle cx="120.71" cy="677.3" r="1" fill="#111"/>
<line x1="126.25" y1="602.2" x2="126.25" y2="606.8" stroke="#6e6e6e" stroke-width="0.6"/><line x1="126.25" y1="636.6" x2="126.25" y2="654" stroke="#6e6e6e" stroke-width="0.6"/><rect x="124.14" y="606.8" width="4.21" height="29.8" fill="#8E52A0" stroke="#444" stroke-width="0.45"/><line x1="124.14" y1="607.1" x2="128.35" y2="607.1" stroke="#222" stroke-width="0.8"/>
<line x1="131.79" y1="622.5" x2="131.79" y2="626.2" stroke="#6e6e6e" stroke-width="0.6"/><rect x="129.68" y="626.2" width="4.21" height="11" fill="#F5871F" stroke="#444" stroke-width="0.45"/><line x1="129.68" y1="632.4" x2="133.89" y2="632.4" stroke="#222" stroke-width="0.8"/><circle cx="131.79" cy="700.6" r="1" fill="#111"/>
<line x1="137.33" y1="623" x2="137.33" y2="628.3" stroke="#6e6e6e" stroke-width="0.6"/><rect x="135.22" y="628.3" width="4.21" height="12.4" fill="#A6CEF0" stroke="#444" stroke-width="0.45"/><line x1="135.22" y1="637.5" x2="139.44" y2="637.5" stroke="#222" stroke-width="0.8"/><circle cx="137.33" cy="697.6" r="1" fill="#111"/>
<line x1="142.87" y1="622.5" x2="142.87" y2="627.1" stroke="#6e6e6e" stroke-width="0.6"/><rect x="140.76" y="627.1" width="4.21" height="15.9" fill="#C4183C" stroke="#444" stroke-width="0.45"/><line x1="140.76" y1="635.4" x2="144.98" y2="635.4" stroke="#222" stroke-width="0.8"/><circle cx="142.87" cy="701.7" r="1" fill="#111"/>
<line x1="148.41" y1="624.3" x2="148.41" y2="626" stroke="#6e6e6e" stroke-width="0.6"/><rect x="146.31" y="626" width="4.21" height="11.5" fill="#CDBA82" stroke="#444" stroke-width="0.45"/><line x1="146.31" y1="635.4" x2="150.52" y2="635.4" stroke="#222" stroke-width="0.8"/><circle cx="148.41" cy="699.2" r="1" fill="#111"/>
<line x1="153.95" y1="626" x2="153.95" y2="627.4" stroke="#6e6e6e" stroke-width="0.6"/><rect x="151.85" y="627.4" width="4.21" height="16" fill="#8C8C8C" stroke="#444" stroke-width="0.45"/><line x1="151.85" y1="632.4" x2="156.06" y2="632.4" stroke="#222" stroke-width="0.8"/><circle cx="153.95" cy="686.9" r="1" fill="#111"/>
<line x1="159.49" y1="625.1" x2="159.49" y2="629.2" stroke="#6e6e6e" stroke-width="0.6"/><rect x="157.39" y="629.2" width="4.21" height="15.9" fill="#00945E" stroke="#444" stroke-width="0.45"/><line x1="157.39" y1="631.9" x2="161.6" y2="631.9" stroke="#222" stroke-width="0.8"/><circle cx="159.49" cy="705.6" r="1" fill="#111"/>
<line x1="165.03" y1="621.6" x2="165.03" y2="628.3" stroke="#6e6e6e" stroke-width="0.6"/><rect x="162.93" y="628.3" width="4.21" height="16.3" fill="#F090B4" stroke="#444" stroke-width="0.45"/><line x1="162.93" y1="630.1" x2="167.14" y2="630.1" stroke="#222" stroke-width="0.8"/><circle cx="165.03" cy="675" r="1" fill="#111"/>
<line x1="170.58" y1="628" x2="170.58" y2="630.4" stroke="#6e6e6e" stroke-width="0.6"/><rect x="168.47" y="630.4" width="4.21" height="14.2" fill="#1465B0" stroke="#444" stroke-width="0.45"/><line x1="168.47" y1="641.9" x2="172.68" y2="641.9" stroke="#222" stroke-width="0.8"/><circle cx="170.58" cy="693" r="1" fill="#111"/>
<line x1="106.3" y1="748.6" x2="173.6" y2="748.6" stroke="#222" stroke-width="1.3"/>
<rect x="176.7" y="546.4" width="67.6" height="13.8" fill="#D2D2D2"/><text x="210.5" y="556.99" font-size="10.3" fill="#111" text-anchor="middle">STEAM_SVM</text>
<line x1="180.02" y1="588.2" x2="180.02" y2="595.3" stroke="#6e6e6e" stroke-width="0.6"/><line x1="180.02" y1="615.4" x2="180.02" y2="635.4" stroke="#6e6e6e" stroke-width="0.6"/><rect x="177.92" y="595.3" width="4.21" height="20.1" fill="#FFFFFF" stroke="#444" stroke-width="0.45"/><line x1="177.92" y1="597" x2="182.13" y2="597" stroke="#222" stroke-width="0.8"/>
<line x1="185.57" y1="593" x2="185.57" y2="594.4" stroke="#6e6e6e" stroke-width="0.6"/><line x1="185.57" y1="616.8" x2="185.57" y2="628.3" stroke="#6e6e6e" stroke-width="0.6"/><rect x="183.46" y="594.4" width="4.21" height="22.4" fill="#222222" stroke="#444" stroke-width="0.45"/>
<line x1="191.11" y1="595.3" x2="191.11" y2="606.6" stroke="#6e6e6e" stroke-width="0.6"/><rect x="189" y="606.6" width="4.21" height="25.8" fill="#F6C51B" stroke="#444" stroke-width="0.45"/><line x1="189" y1="607.1" x2="193.21" y2="607.1" stroke="#222" stroke-width="0.8"/>
<line x1="196.65" y1="605.3" x2="196.65" y2="608" stroke="#6e6e6e" stroke-width="0.6"/><rect x="194.54" y="608" width="4.21" height="32.3" fill="#8E52A0" stroke="#444" stroke-width="0.45"/><line x1="194.54" y1="609.4" x2="198.75" y2="609.4" stroke="#222" stroke-width="0.8"/>
<line x1="202.19" y1="612.4" x2="202.19" y2="614.5" stroke="#6e6e6e" stroke-width="0.6"/><rect x="200.08" y="614.5" width="4.21" height="28" fill="#F5871F" stroke="#444" stroke-width="0.45"/><line x1="200.08" y1="630.4" x2="204.29" y2="630.4" stroke="#222" stroke-width="0.8"/><circle cx="202.19" cy="691.6" r="1" fill="#111"/>
<line x1="207.73" y1="609.2" x2="207.73" y2="614.2" stroke="#6e6e6e" stroke-width="0.6"/><rect x="205.62" y="614.2" width="4.21" height="26.1" fill="#A6CEF0" stroke="#444" stroke-width="0.45"/><line x1="205.62" y1="628.3" x2="209.84" y2="628.3" stroke="#222" stroke-width="0.8"/><circle cx="207.73" cy="694.5" r="1" fill="#111"/>
<line x1="213.27" y1="616.5" x2="213.27" y2="618.6" stroke="#6e6e6e" stroke-width="0.6"/><rect x="211.16" y="618.6" width="4.21" height="27.8" fill="#C4183C" stroke="#444" stroke-width="0.45"/><line x1="211.16" y1="623.5" x2="215.38" y2="623.5" stroke="#222" stroke-width="0.8"/><circle cx="213.27" cy="695" r="1" fill="#111"/>
<line x1="218.81" y1="613.3" x2="218.81" y2="619.5" stroke="#6e6e6e" stroke-width="0.6"/><rect x="216.71" y="619.5" width="4.21" height="31.3" fill="#CDBA82" stroke="#444" stroke-width="0.45"/><line x1="216.71" y1="629.2" x2="220.92" y2="629.2" stroke="#222" stroke-width="0.8"/><circle cx="218.81" cy="698.3" r="1" fill="#111"/>
<line x1="224.35" y1="619.5" x2="224.35" y2="625.3" stroke="#6e6e6e" stroke-width="0.6"/><line x1="224.35" y1="655.4" x2="224.35" y2="671.6" stroke="#6e6e6e" stroke-width="0.6"/><rect x="222.25" y="625.3" width="4.21" height="30.1" fill="#8C8C8C" stroke="#444" stroke-width="0.45"/><line x1="222.25" y1="628.3" x2="226.46" y2="628.3" stroke="#222" stroke-width="0.8"/>
<line x1="229.89" y1="609.8" x2="229.89" y2="611.5" stroke="#6e6e6e" stroke-width="0.6"/><line x1="229.89" y1="654.3" x2="229.89" y2="694.1" stroke="#6e6e6e" stroke-width="0.6"/><rect x="227.79" y="611.5" width="4.21" height="42.8" fill="#00945E" stroke="#444" stroke-width="0.45"/><line x1="227.79" y1="629.2" x2="232" y2="629.2" stroke="#222" stroke-width="0.8"/>
<line x1="235.43" y1="621.6" x2="235.43" y2="628" stroke="#6e6e6e" stroke-width="0.6"/><line x1="235.43" y1="656.1" x2="235.43" y2="678.4" stroke="#6e6e6e" stroke-width="0.6"/><rect x="233.33" y="628" width="4.21" height="28.1" fill="#F090B4" stroke="#444" stroke-width="0.45"/><line x1="233.33" y1="628.7" x2="237.54" y2="628.7" stroke="#222" stroke-width="0.8"/>
<line x1="240.98" y1="626" x2="240.98" y2="629.2" stroke="#6e6e6e" stroke-width="0.6"/><rect x="238.87" y="629.2" width="4.21" height="24.4" fill="#1465B0" stroke="#444" stroke-width="0.45"/><line x1="238.87" y1="634.5" x2="243.08" y2="634.5" stroke="#222" stroke-width="0.8"/><circle cx="240.98" cy="694.5" r="1" fill="#111"/>
<line x1="176.7" y1="748.6" x2="244" y2="748.6" stroke="#222" stroke-width="1.3"/>
<rect x="246.5" y="546.4" width="67.6" height="13.8" fill="#D2D2D2"/><text x="280.3" y="556.99" font-size="10.3" fill="#111" text-anchor="middle">STEAM_XGB</text>
<line x1="249.82" y1="589.4" x2="249.82" y2="591.5" stroke="#6e6e6e" stroke-width="0.6"/><rect x="247.72" y="591.5" width="4.21" height="16.1" fill="#FFFFFF" stroke="#444" stroke-width="0.45"/><line x1="247.72" y1="605.7" x2="251.93" y2="605.7" stroke="#222" stroke-width="0.8"/><circle cx="249.82" cy="722" r="1" fill="#111"/>
<rect x="253.26" y="593" width="4.21" height="18" fill="#222222" stroke="#444" stroke-width="0.45"/><circle cx="255.37" cy="705.6" r="1" fill="#111"/>
<line x1="260.91" y1="590" x2="260.91" y2="598.3" stroke="#6e6e6e" stroke-width="0.6"/><rect x="258.8" y="598.3" width="4.21" height="15" fill="#F6C51B" stroke="#444" stroke-width="0.45"/><line x1="258.8" y1="611.9" x2="263.01" y2="611.9" stroke="#222" stroke-width="0.8"/><circle cx="260.91" cy="706.8" r="1" fill="#111"/>
<line x1="266.45" y1="600" x2="266.45" y2="601.3" stroke="#6e6e6e" stroke-width="0.6"/><rect x="264.34" y="601.3" width="4.21" height="21.7" fill="#8E52A0" stroke="#444" stroke-width="0.45"/><circle cx="266.45" cy="673.6" r="1" fill="#111"/>
<rect x="269.88" y="619.5" width="4.21" height="12.7" fill="#F5871F" stroke="#444" stroke-width="0.45"/><line x1="269.88" y1="630.1" x2="274.09" y2="630.1" stroke="#222" stroke-width="0.8"/><circle cx="271.99" cy="715.5" r="1" fill="#111"/>
<line x1="277.53" y1="618.1" x2="277.53" y2="625.7" stroke="#6e6e6e" stroke-width="0.6"/><line x1="277.53" y1="662.5" x2="277.53" y2="715.9" stroke="#6e6e6e" stroke-width="0.6"/><rect x="275.42" y="625.7" width="4.21" height="36.8" fill="#A6CEF0" stroke="#444" stroke-width="0.45"/><line x1="275.42" y1="636.3" x2="279.64" y2="636.3" stroke="#222" stroke-width="0.8"/>
<line x1="283.07" y1="621.6" x2="283.07" y2="624.3" stroke="#6e6e6e" stroke-width="0.6"/><rect x="280.96" y="624.3" width="4.21" height="19.6" fill="#C4183C" stroke="#444" stroke-width="0.45"/><line x1="280.96" y1="635.8" x2="285.18" y2="635.8" stroke="#222" stroke-width="0.8"/><circle cx="283.07" cy="711.6" r="1" fill="#111"/>
<line x1="288.61" y1="617.7" x2="288.61" y2="623.4" stroke="#6e6e6e" stroke-width="0.6"/><rect x="286.51" y="623.4" width="4.21" height="15.9" fill="#CDBA82" stroke="#444" stroke-width="0.45"/><line x1="286.51" y1="633.1" x2="290.72" y2="633.1" stroke="#222" stroke-width="0.8"/><circle cx="288.61" cy="718.9" r="1" fill="#111"/>
<rect x="292.05" y="625.1" width="4.21" height="22.1" fill="#8C8C8C" stroke="#444" stroke-width="0.45"/><line x1="292.05" y1="639.3" x2="296.26" y2="639.3" stroke="#222" stroke-width="0.8"/><circle cx="294.15" cy="709.7" r="1" fill="#111"/>
<line x1="299.69" y1="619" x2="299.69" y2="621.3" stroke="#6e6e6e" stroke-width="0.6"/><rect x="297.59" y="621.3" width="4.21" height="14.1" fill="#00945E" stroke="#444" stroke-width="0.45"/><circle cx="299.69" cy="711.6" r="1" fill="#111"/>
<line x1="305.23" y1="622.1" x2="305.23" y2="624.3" stroke="#6e6e6e" stroke-width="0.6"/><rect x="303.13" y="624.3" width="4.21" height="31.1" fill="#F090B4" stroke="#444" stroke-width="0.45"/><line x1="303.13" y1="638.1" x2="307.34" y2="638.1" stroke="#222" stroke-width="0.8"/><circle cx="305.23" cy="703.3" r="1" fill="#111"/>
<line x1="310.78" y1="628" x2="310.78" y2="631" stroke="#6e6e6e" stroke-width="0.6"/><rect x="308.67" y="631" width="4.21" height="15.9" fill="#1465B0" stroke="#444" stroke-width="0.45"/><line x1="308.67" y1="641.9" x2="312.88" y2="641.9" stroke="#222" stroke-width="0.8"/><circle cx="310.78" cy="702.4" r="1" fill="#111"/>
<line x1="246.5" y1="748.6" x2="313.8" y2="748.6" stroke="#222" stroke-width="1.3"/>
<line x1="36.6" y1="560.2" x2="36.6" y2="749.1" stroke="#6e6e6e" stroke-width="1.3"/>
<text x="33.8" y="571.25" font-size="8.1" fill="#161616" text-anchor="end">1.00</text>
<text x="33.8" y="614.35" font-size="8.1" fill="#161616" text-anchor="end">0.75</text>
<text x="33.8" y="657.15" font-size="8.1" fill="#161616" text-anchor="end">0.50</text>
<text x="33.8" y="700.35" font-size="8.1" fill="#161616" text-anchor="end">0.25</text>
<text x="33.8" y="743.55" font-size="8.1" fill="#161616" text-anchor="end">0.00</text>
<text x="14.5" y="654.5" font-size="10" fill="#222" text-anchor="middle" transform="rotate(-90 14.5 654.5)">ARI</text>
<text x="322.3" y="587.8" font-size="8" fill="#111">Sample</text>
<line x1="327.9" y1="593.4" x2="327.9" y2="601.2" stroke="#555" stroke-width="0.5"/>
<rect x="323.2" y="594.7" width="9.4" height="5.2" fill="#FFFFFF" stroke="#555" stroke-width="0.45"/>
<line x1="323.2" y1="597.3" x2="332.6" y2="597.3" stroke="#333" stroke-width="0.6"/>
<text x="336.6" y="599.8" font-size="6.9" fill="#111">151669</text>
<line x1="327.9" y1="604.88" x2="327.9" y2="612.67" stroke="#555" stroke-width="0.5"/>
<rect x="323.2" y="606.17" width="9.4" height="5.2" fill="#222222" stroke="#555" stroke-width="0.45"/>
<line x1="323.2" y1="608.77" x2="332.6" y2="608.77" stroke="#333" stroke-width="0.6"/>
<text x="336.6" y="611.27" font-size="6.9" fill="#111">151670</text>
<line x1="327.9" y1="616.35" x2="327.9" y2="624.15" stroke="#555" stroke-width="0.5"/>
<rect x="323.2" y="617.65" width="9.4" height="5.2" fill="#F6C51B" stroke="#555" stroke-width="0.45"/>
<line x1="323.2" y1="620.25" x2="332.6" y2="620.25" stroke="#333" stroke-width="0.6"/>
<text x="336.6" y="622.75" font-size="6.9" fill="#111">151671</text>
<line x1="327.9" y1="627.82" x2="327.9" y2="635.62" stroke="#555" stroke-width="0.5"/>
<rect x="323.2" y="629.12" width="9.4" height="5.2" fill="#8E52A0" stroke="#555" stroke-width="0.45"/>
<line x1="323.2" y1="631.72" x2="332.6" y2="631.72" stroke="#333" stroke-width="0.6"/>
<text x="336.6" y="634.22" font-size="6.9" fill="#111">151672</text>
<line x1="327.9" y1="639.3" x2="327.9" y2="647.1" stroke="#555" stroke-width="0.5"/>
<rect x="323.2" y="640.6" width="9.4" height="5.2" fill="#F5871F" stroke="#555" stroke-width="0.45"/>
<line x1="323.2" y1="643.2" x2="332.6" y2="643.2" stroke="#333" stroke-width="0.6"/>
<text x="336.6" y="645.7" font-size="6.9" fill="#111">151674</text>
<line x1="327.9" y1="650.77" x2="327.9" y2="658.57" stroke="#555" stroke-width="0.5"/>
<rect x="323.2" y="652.07" width="9.4" height="5.2" fill="#A6CEF0" stroke="#555" stroke-width="0.45"/>
<line x1="323.2" y1="654.67" x2="332.6" y2="654.67" stroke="#333" stroke-width="0.6"/>
<text x="336.6" y="657.17" font-size="6.9" fill="#111">151673</text>
<line x1="327.9" y1="662.25" x2="327.9" y2="670.05" stroke="#555" stroke-width="0.5"/>
<rect x="323.2" y="663.55" width="9.4" height="5.2" fill="#C4183C" stroke="#555" stroke-width="0.45"/>
<line x1="323.2" y1="666.15" x2="332.6" y2="666.15" stroke="#333" stroke-width="0.6"/>
<text x="336.6" y="668.65" font-size="6.9" fill="#111">151676</text>
<line x1="327.9" y1="673.73" x2="327.9" y2="681.52" stroke="#555" stroke-width="0.5"/>
<rect x="323.2" y="675.02" width="9.4" height="5.2" fill="#CDBA82" stroke="#555" stroke-width="0.45"/>
<line x1="323.2" y1="677.62" x2="332.6" y2="677.62" stroke="#333" stroke-width="0.6"/>
<text x="336.6" y="680.12" font-size="6.9" fill="#111">151509</text>
<line x1="327.9" y1="685.2" x2="327.9" y2="693" stroke="#555" stroke-width="0.5"/>
<rect x="323.2" y="686.5" width="9.4" height="5.2" fill="#8C8C8C" stroke="#555" stroke-width="0.45"/>
<line x1="323.2" y1="689.1" x2="332.6" y2="689.1" stroke="#333" stroke-width="0.6"/>
<text x="336.6" y="691.6" font-size="6.9" fill="#111">151508</text>
<line x1="327.9" y1="696.67" x2="327.9" y2="704.47" stroke="#555" stroke-width="0.5"/>
<rect x="323.2" y="697.97" width="9.4" height="5.2" fill="#00945E" stroke="#555" stroke-width="0.45"/>
<line x1="323.2" y1="700.57" x2="332.6" y2="700.57" stroke="#333" stroke-width="0.6"/>
<text x="336.6" y="703.07" font-size="6.9" fill="#111">151510</text>
<line x1="327.9" y1="708.15" x2="327.9" y2="715.95" stroke="#555" stroke-width="0.5"/>
<rect x="323.2" y="709.45" width="9.4" height="5.2" fill="#F090B4" stroke="#555" stroke-width="0.45"/>
<line x1="323.2" y1="712.05" x2="332.6" y2="712.05" stroke="#333" stroke-width="0.6"/>
<text x="336.6" y="714.55" font-size="6.9" fill="#111">151507</text>
<line x1="327.9" y1="719.62" x2="327.9" y2="727.42" stroke="#555" stroke-width="0.5"/>
<rect x="323.2" y="720.92" width="9.4" height="5.2" fill="#1465B0" stroke="#555" stroke-width="0.45"/>
<line x1="323.2" y1="723.52" x2="332.6" y2="723.52" stroke="#333" stroke-width="0.6"/>
<text x="336.6" y="726.02" font-size="6.9" fill="#111">151675</text>
<rect x="422.6" y="546.4" width="67.6" height="13.8" fill="#D2D2D2"/><text x="456.4" y="556.99" font-size="10.3" fill="#111" text-anchor="middle">STEAM_MN</text>
<path d="M423.72 738 L425.92 735.7 L428.12 738 Z" fill="#2a2a2a"/>
<line x1="423.62" y1="738" x2="428.22" y2="738" stroke="#222" stroke-width="0.7"/>
<path d="M429.27 738 L431.47 735.7 L433.67 738 Z" fill="#2a2a2a"/>
<line x1="429.17" y1="738" x2="433.77" y2="738" stroke="#222" stroke-width="0.7"/>
<path d="M434.81 737 L437.01 734.7 L439.21 737 Z" fill="#2a2a2a"/>
<line x1="434.71" y1="737" x2="439.31" y2="737" stroke="#222" stroke-width="0.7"/>
<path d="M440.35 737 L442.55 734.7 L444.75 737 Z" fill="#2a2a2a"/>
<line x1="440.25" y1="737" x2="444.85" y2="737" stroke="#222" stroke-width="0.7"/>
<path d="M445.89 734.8 L448.09 732.5 L450.29 734.8 Z" fill="#2a2a2a"/>
<line x1="445.79" y1="734.8" x2="450.39" y2="734.8" stroke="#222" stroke-width="0.7"/>
<path d="M451.43 734.8 L453.63 732.5 L455.83 734.8 Z" fill="#2a2a2a"/>
<line x1="451.33" y1="734.8" x2="455.93" y2="734.8" stroke="#222" stroke-width="0.7"/>
<path d="M456.97 735 L459.17 732.7 L461.37 735 Z" fill="#2a2a2a"/>
<line x1="456.87" y1="735" x2="461.47" y2="735" stroke="#222" stroke-width="0.7"/>
<path d="M462.51 733.7 L464.71 731.4 L466.91 733.7 Z" fill="#2a2a2a"/>
<line x1="462.41" y1="733.7" x2="467.01" y2="733.7" stroke="#222" stroke-width="0.7"/>
<path d="M468.05 735.4 L470.25 733.1 L472.45 735.4 Z" fill="#2a2a2a"/>
<line x1="467.95" y1="735.4" x2="472.55" y2="735.4" stroke="#222" stroke-width="0.7"/>
<path d="M473.59 734 L475.79 731.7 L477.99 734 Z" fill="#2a2a2a"/>
<line x1="473.49" y1="734" x2="478.09" y2="734" stroke="#222" stroke-width="0.7"/>
<path d="M479.13 735.3 L481.33 733 L483.53 735.3 Z" fill="#2a2a2a"/>
<line x1="479.03" y1="735.3" x2="483.63" y2="735.3" stroke="#222" stroke-width="0.7"/>
<path d="M484.68 735.3 L486.88 733 L489.08 735.3 Z" fill="#2a2a2a"/>
<line x1="484.58" y1="735.3" x2="489.18" y2="735.3" stroke="#222" stroke-width="0.7"/>
<line x1="422.6" y1="749.5" x2="489.9" y2="749.5" stroke="#333" stroke-width="1"/>
<rect x="492.3" y="546.4" width="67.6" height="13.8" fill="#D2D2D2"/><text x="526.1" y="556.99" font-size="10.3" fill="#111" text-anchor="middle">STEAM_RF</text>
<line x1="495.62" y1="734.2" x2="495.62" y2="735.7" stroke="#6e6e6e" stroke-width="0.6"/><line x1="495.62" y1="737" x2="495.62" y2="737.6" stroke="#6e6e6e" stroke-width="0.6"/><rect x="493.52" y="735.7" width="4.21" height="1.3" fill="#FFFFFF" stroke="#444" stroke-width="0.45"/><line x1="493.52" y1="736.65" x2="497.73" y2="736.65" stroke="#222" stroke-width="0.8"/>
<line x1="501.17" y1="734.2" x2="501.17" y2="735.7" stroke="#6e6e6e" stroke-width="0.6"/><line x1="501.17" y1="737" x2="501.17" y2="737.6" stroke="#6e6e6e" stroke-width="0.6"/><rect x="499.06" y="735.7" width="4.21" height="1.3" fill="#222222" stroke="#444" stroke-width="0.45"/><line x1="499.06" y1="736.65" x2="503.27" y2="736.65" stroke="#222" stroke-width="0.8"/>
<line x1="506.71" y1="732.5" x2="506.71" y2="734" stroke="#6e6e6e" stroke-width="0.6"/><line x1="506.71" y1="736.7" x2="506.71" y2="737.3" stroke="#6e6e6e" stroke-width="0.6"/><rect x="504.6" y="734" width="4.21" height="2.7" fill="#F6C51B" stroke="#444" stroke-width="0.45"/><line x1="504.6" y1="735.65" x2="508.81" y2="735.65" stroke="#222" stroke-width="0.8"/>
<line x1="512.25" y1="732.5" x2="512.25" y2="734" stroke="#6e6e6e" stroke-width="0.6"/><line x1="512.25" y1="736.7" x2="512.25" y2="737.3" stroke="#6e6e6e" stroke-width="0.6"/><rect x="510.14" y="734" width="4.21" height="2.7" fill="#8E52A0" stroke="#444" stroke-width="0.45"/><line x1="510.14" y1="735.65" x2="514.35" y2="735.65" stroke="#222" stroke-width="0.8"/>
<line x1="517.79" y1="732.5" x2="517.79" y2="734" stroke="#6e6e6e" stroke-width="0.6"/><line x1="517.79" y1="736.3" x2="517.79" y2="736.9" stroke="#6e6e6e" stroke-width="0.6"/><rect x="515.68" y="734" width="4.21" height="2.3" fill="#F5871F" stroke="#444" stroke-width="0.45"/><line x1="515.68" y1="735.45" x2="519.89" y2="735.45" stroke="#222" stroke-width="0.8"/>
<line x1="523.33" y1="732.5" x2="523.33" y2="734" stroke="#6e6e6e" stroke-width="0.6"/><line x1="523.33" y1="736.3" x2="523.33" y2="736.9" stroke="#6e6e6e" stroke-width="0.6"/><rect x="521.22" y="734" width="4.21" height="2.3" fill="#A6CEF0" stroke="#444" stroke-width="0.45"/><line x1="521.22" y1="735.45" x2="525.44" y2="735.45" stroke="#222" stroke-width="0.8"/>
<line x1="528.87" y1="732.5" x2="528.87" y2="734" stroke="#6e6e6e" stroke-width="0.6"/><line x1="528.87" y1="736.7" x2="528.87" y2="737.3" stroke="#6e6e6e" stroke-width="0.6"/><rect x="526.76" y="734" width="4.21" height="2.7" fill="#C4183C" stroke="#444" stroke-width="0.45"/><line x1="526.76" y1="735.65" x2="530.98" y2="735.65" stroke="#222" stroke-width="0.8"/>
<line x1="534.41" y1="730.2" x2="534.41" y2="731.7" stroke="#6e6e6e" stroke-width="0.6"/><line x1="534.41" y1="735.1" x2="534.41" y2="735.7" stroke="#6e6e6e" stroke-width="0.6"/><rect x="532.31" y="731.7" width="4.21" height="3.4" fill="#CDBA82" stroke="#444" stroke-width="0.45"/><line x1="532.31" y1="733.7" x2="536.52" y2="733.7" stroke="#222" stroke-width="0.8"/>
<line x1="539.95" y1="731.5" x2="539.95" y2="733" stroke="#6e6e6e" stroke-width="0.6"/><line x1="539.95" y1="735.7" x2="539.95" y2="736.3" stroke="#6e6e6e" stroke-width="0.6"/><rect x="537.85" y="733" width="4.21" height="2.7" fill="#8C8C8C" stroke="#444" stroke-width="0.45"/><line x1="537.85" y1="734.65" x2="542.06" y2="734.65" stroke="#222" stroke-width="0.8"/>
<line x1="545.49" y1="730" x2="545.49" y2="731.5" stroke="#6e6e6e" stroke-width="0.6"/><line x1="545.49" y1="735" x2="545.49" y2="735.6" stroke="#6e6e6e" stroke-width="0.6"/><rect x="543.39" y="731.5" width="4.21" height="3.5" fill="#00945E" stroke="#444" stroke-width="0.45"/><line x1="543.39" y1="733.55" x2="547.6" y2="733.55" stroke="#222" stroke-width="0.8"/>
<line x1="551.03" y1="731.5" x2="551.03" y2="733" stroke="#6e6e6e" stroke-width="0.6"/><line x1="551.03" y1="735.5" x2="551.03" y2="736.1" stroke="#6e6e6e" stroke-width="0.6"/><rect x="548.93" y="733" width="4.21" height="2.5" fill="#F090B4" stroke="#444" stroke-width="0.45"/><line x1="548.93" y1="734.55" x2="553.14" y2="734.55" stroke="#222" stroke-width="0.8"/>
<line x1="556.58" y1="732.2" x2="556.58" y2="733.7" stroke="#6e6e6e" stroke-width="0.6"/><line x1="556.58" y1="736" x2="556.58" y2="736.6" stroke="#6e6e6e" stroke-width="0.6"/><rect x="554.47" y="733.7" width="4.21" height="2.3" fill="#1465B0" stroke="#444" stroke-width="0.45"/><line x1="554.47" y1="735.15" x2="558.68" y2="735.15" stroke="#222" stroke-width="0.8"/>
<line x1="492.3" y1="749.5" x2="559.6" y2="749.5" stroke="#333" stroke-width="1"/>
<rect x="562.2" y="546.4" width="67.6" height="13.8" fill="#D2D2D2"/><text x="596" y="556.99" font-size="10.3" fill="#111" text-anchor="middle">STEAM_SVM</text>
<line x1="565.52" y1="738.9" x2="565.52" y2="739.3" stroke="#6e6e6e" stroke-width="0.6"/><rect x="563.42" y="739.3" width="4.21" height="0.6" fill="#FFFFFF" stroke="#444" stroke-width="0.45"/><line x1="563.42" y1="739.6" x2="567.63" y2="739.6" stroke="#222" stroke-width="0.8"/>
<line x1="571.07" y1="738.8" x2="571.07" y2="739.2" stroke="#6e6e6e" stroke-width="0.6"/><rect x="568.96" y="739.2" width="4.21" height="0.6" fill="#222222" stroke="#444" stroke-width="0.45"/><line x1="568.96" y1="739.5" x2="573.17" y2="739.5" stroke="#222" stroke-width="0.8"/>
<line x1="576.61" y1="738.6" x2="576.61" y2="739" stroke="#6e6e6e" stroke-width="0.6"/><rect x="574.5" y="739" width="4.21" height="0.6" fill="#F6C51B" stroke="#444" stroke-width="0.45"/><line x1="574.5" y1="739.3" x2="578.71" y2="739.3" stroke="#222" stroke-width="0.8"/>
<line x1="582.15" y1="738.6" x2="582.15" y2="739" stroke="#6e6e6e" stroke-width="0.6"/><rect x="580.04" y="739" width="4.21" height="0.6" fill="#8E52A0" stroke="#444" stroke-width="0.45"/><line x1="580.04" y1="739.3" x2="584.25" y2="739.3" stroke="#222" stroke-width="0.8"/>
<line x1="587.69" y1="738.7" x2="587.69" y2="739.1" stroke="#6e6e6e" stroke-width="0.6"/><rect x="585.58" y="739.1" width="4.21" height="0.6" fill="#F5871F" stroke="#444" stroke-width="0.45"/><line x1="585.58" y1="739.4" x2="589.79" y2="739.4" stroke="#222" stroke-width="0.8"/>
<line x1="593.23" y1="738.6" x2="593.23" y2="739" stroke="#6e6e6e" stroke-width="0.6"/><rect x="591.12" y="739" width="4.21" height="0.6" fill="#A6CEF0" stroke="#444" stroke-width="0.45"/><line x1="591.12" y1="739.3" x2="595.34" y2="739.3" stroke="#222" stroke-width="0.8"/>
<line x1="598.77" y1="738.5" x2="598.77" y2="738.9" stroke="#6e6e6e" stroke-width="0.6"/><rect x="596.66" y="738.9" width="4.21" height="0.6" fill="#C4183C" stroke="#444" stroke-width="0.45"/><line x1="596.66" y1="739.2" x2="600.88" y2="739.2" stroke="#222" stroke-width="0.8"/>
<line x1="604.31" y1="738.3" x2="604.31" y2="738.7" stroke="#6e6e6e" stroke-width="0.6"/><rect x="602.21" y="738.7" width="4.21" height="0.6" fill="#CDBA82" stroke="#444" stroke-width="0.45"/><line x1="602.21" y1="739" x2="606.42" y2="739" stroke="#222" stroke-width="0.8"/>
<line x1="609.85" y1="738.4" x2="609.85" y2="738.8" stroke="#6e6e6e" stroke-width="0.6"/><rect x="607.75" y="738.8" width="4.21" height="0.6" fill="#8C8C8C" stroke="#444" stroke-width="0.45"/><line x1="607.75" y1="739.1" x2="611.96" y2="739.1" stroke="#222" stroke-width="0.8"/>
<line x1="615.39" y1="738.3" x2="615.39" y2="738.7" stroke="#6e6e6e" stroke-width="0.6"/><rect x="613.29" y="738.7" width="4.21" height="0.6" fill="#00945E" stroke="#444" stroke-width="0.45"/><line x1="613.29" y1="739" x2="617.5" y2="739" stroke="#222" stroke-width="0.8"/>
<line x1="620.93" y1="738.4" x2="620.93" y2="738.8" stroke="#6e6e6e" stroke-width="0.6"/><rect x="618.83" y="738.8" width="4.21" height="0.6" fill="#F090B4" stroke="#444" stroke-width="0.45"/><line x1="618.83" y1="739.1" x2="623.04" y2="739.1" stroke="#222" stroke-width="0.8"/>
<line x1="626.48" y1="738.5" x2="626.48" y2="738.9" stroke="#6e6e6e" stroke-width="0.6"/><rect x="624.37" y="738.9" width="4.21" height="0.6" fill="#1465B0" stroke="#444" stroke-width="0.45"/><line x1="624.37" y1="739.2" x2="628.58" y2="739.2" stroke="#222" stroke-width="0.8"/>
<line x1="562.2" y1="749.5" x2="629.5" y2="749.5" stroke="#333" stroke-width="1"/>
<rect x="632" y="546.4" width="67.6" height="13.8" fill="#D2D2D2"/><text x="665.8" y="556.99" font-size="10.3" fill="#111" text-anchor="middle">STEAM_XGB</text>
<rect x="632.62" y="695.3" width="4.21" height="9.2" fill="#FFFFFF" stroke="#444" stroke-width="0.45"/><line x1="632.62" y1="703.2" x2="636.83" y2="703.2" stroke="#222" stroke-width="0.8"/><circle cx="634.72" cy="665.6" r="1" fill="#111"/>
<rect x="638.16" y="695.3" width="4.21" height="10.6" fill="#222222" stroke="#444" stroke-width="0.45"/><circle cx="640.27" cy="667.5" r="1" fill="#111"/>
<line x1="645.81" y1="695.6" x2="645.81" y2="697.6" stroke="#6e6e6e" stroke-width="0.6"/><rect x="643.7" y="678.1" width="4.21" height="17.5" fill="#F6C51B" stroke="#444" stroke-width="0.45"/><line x1="643.7" y1="692.3" x2="647.91" y2="692.3" stroke="#222" stroke-width="0.8"/><circle cx="645.81" cy="643.6" r="1" fill="#111"/>
<line x1="651.35" y1="696.2" x2="651.35" y2="699.7" stroke="#6e6e6e" stroke-width="0.6"/><rect x="649.24" y="680.2" width="4.21" height="16" fill="#8E52A0" stroke="#444" stroke-width="0.45"/><line x1="649.24" y1="695" x2="653.45" y2="695" stroke="#222" stroke-width="0.8"/><circle cx="651.35" cy="645.8" r="1" fill="#111"/>
<line x1="656.89" y1="678.1" x2="656.89" y2="681.1" stroke="#6e6e6e" stroke-width="0.6"/><rect x="654.78" y="662.9" width="4.21" height="15.2" fill="#F5871F" stroke="#444" stroke-width="0.45"/><line x1="654.78" y1="677.1" x2="658.99" y2="677.1" stroke="#222" stroke-width="0.8"/><circle cx="656.89" cy="621.4" r="1" fill="#111"/>
<line x1="662.43" y1="678.5" x2="662.43" y2="682" stroke="#6e6e6e" stroke-width="0.6"/><rect x="660.32" y="663.4" width="4.21" height="15.1" fill="#A6CEF0" stroke="#444" stroke-width="0.45"/><line x1="660.32" y1="677.3" x2="664.54" y2="677.3" stroke="#222" stroke-width="0.8"/><circle cx="662.43" cy="622.8" r="1" fill="#111"/>
<line x1="667.97" y1="681.5" x2="667.97" y2="683.8" stroke="#6e6e6e" stroke-width="0.6"/><rect x="665.86" y="665.6" width="4.21" height="15.9" fill="#C4183C" stroke="#444" stroke-width="0.45"/><line x1="665.86" y1="680.2" x2="670.08" y2="680.2" stroke="#222" stroke-width="0.8"/><circle cx="667.97" cy="624.5" r="1" fill="#111"/>
<line x1="673.51" y1="660.3" x2="673.51" y2="665.6" stroke="#6e6e6e" stroke-width="0.6"/><rect x="671.41" y="636.4" width="4.21" height="23.9" fill="#CDBA82" stroke="#444" stroke-width="0.45"/><line x1="671.41" y1="656.4" x2="675.62" y2="656.4" stroke="#222" stroke-width="0.8"/><circle cx="673.51" cy="586.5" r="1" fill="#111"/>
<line x1="679.05" y1="673.5" x2="679.05" y2="676.7" stroke="#6e6e6e" stroke-width="0.6"/><rect x="676.95" y="646.1" width="4.21" height="27.4" fill="#8C8C8C" stroke="#444" stroke-width="0.45"/><line x1="676.95" y1="667" x2="681.16" y2="667" stroke="#222" stroke-width="0.8"/><circle cx="679.05" cy="600.3" r="1" fill="#111"/>
<line x1="684.59" y1="665.2" x2="684.59" y2="668.2" stroke="#6e6e6e" stroke-width="0.6"/><rect x="682.49" y="640.5" width="4.21" height="24.7" fill="#00945E" stroke="#444" stroke-width="0.45"/><line x1="682.49" y1="661.3" x2="686.7" y2="661.3" stroke="#222" stroke-width="0.8"/><circle cx="684.59" cy="585.6" r="1" fill="#111"/>
<line x1="690.13" y1="670.9" x2="690.13" y2="674.1" stroke="#6e6e6e" stroke-width="0.6"/><rect x="688.03" y="646.6" width="4.21" height="24.3" fill="#F090B4" stroke="#444" stroke-width="0.45"/><line x1="688.03" y1="667.9" x2="692.24" y2="667.9" stroke="#222" stroke-width="0.8"/><circle cx="690.13" cy="594.8" r="1" fill="#111"/>
<line x1="695.68" y1="679" x2="695.68" y2="682.5" stroke="#6e6e6e" stroke-width="0.6"/><rect x="693.57" y="665.2" width="4.21" height="13.8" fill="#1465B0" stroke="#444" stroke-width="0.45"/><line x1="693.57" y1="677.6" x2="697.78" y2="677.6" stroke="#222" stroke-width="0.8"/><circle cx="695.68" cy="620.8" r="1" fill="#111"/>
<line x1="632" y1="749.5" x2="699.3" y2="749.5" stroke="#333" stroke-width="1"/>
<line x1="422.6" y1="560.2" x2="422.6" y2="750" stroke="#222" stroke-width="1"/>
<text x="420.2" y="571.65" font-size="8.1" fill="#161616" text-anchor="end">1000</text>
<text x="420.2" y="614.35" font-size="8.1" fill="#161616" text-anchor="end">750</text>
<text x="420.2" y="657.45" font-size="8.1" fill="#161616" text-anchor="end">500</text>
<text x="420.2" y="700.55" font-size="8.1" fill="#161616" text-anchor="end">250</text>
<text x="420.2" y="743.85" font-size="8.1" fill="#161616" text-anchor="end">0</text>
<text x="398.7" y="654.9" font-size="10.05" fill="#222" text-anchor="middle" transform="rotate(-90 398.7 654.9)">Time (s)</text>
<text x="706.7" y="587.8" font-size="8" fill="#111">Sample</text>
<line x1="712.3" y1="593.4" x2="712.3" y2="601.2" stroke="#555" stroke-width="0.5"/>
<rect x="707.6" y="594.7" width="9.4" height="5.2" fill="#FFFFFF" stroke="#555" stroke-width="0.45"/>
<line x1="707.6" y1="597.3" x2="717" y2="597.3" stroke="#333" stroke-width="0.6"/>
<text x="721" y="599.8" font-size="6.9" fill="#111">151669</text>
<line x1="712.3" y1="604.88" x2="712.3" y2="612.67" stroke="#555" stroke-width="0.5"/>
<rect x="707.6" y="606.17" width="9.4" height="5.2" fill="#222222" stroke="#555" stroke-width="0.45"/>
<line x1="707.6" y1="608.77" x2="717" y2="608.77" stroke="#333" stroke-width="0.6"/>
<text x="721" y="611.27" font-size="6.9" fill="#111">151670</text>
<line x1="712.3" y1="616.35" x2="712.3" y2="624.15" stroke="#555" stroke-width="0.5"/>
<rect x="707.6" y="617.65" width="9.4" height="5.2" fill="#F6C51B" stroke="#555" stroke-width="0.45"/>
<line x1="707.6" y1="620.25" x2="717" y2="620.25" stroke="#333" stroke-width="0.6"/>
<text x="721" y="622.75" font-size="6.9" fill="#111">151671</text>
<line x1="712.3" y1="627.82" x2="712.3" y2="635.62" stroke="#555" stroke-width="0.5"/>
<rect x="707.6" y="629.12" width="9.4" height="5.2" fill="#8E52A0" stroke="#555" stroke-width="0.45"/>
<line x1="707.6" y1="631.72" x2="717" y2="631.72" stroke="#333" stroke-width="0.6"/>
<text x="721" y="634.22" font-size="6.9" fill="#111">151672</text>
<line x1="712.3" y1="639.3" x2="712.3" y2="647.1" stroke="#555" stroke-width="0.5"/>
<rect x="707.6" y="640.6" width="9.4" height="5.2" fill="#F5871F" stroke="#555" stroke-width="0.45"/>
<line x1="707.6" y1="643.2" x2="717" y2="643.2" stroke="#333" stroke-width="0.6"/>
<text x="721" y="645.7" font-size="6.9" fill="#111">151674</text>
<line x1="712.3" y1="650.77" x2="712.3" y2="658.57" stroke="#555" stroke-width="0.5"/>
<rect x="707.6" y="652.07" width="9.4" height="5.2" fill="#A6CEF0" stroke="#555" stroke-width="0.45"/>
<line x1="707.6" y1="654.67" x2="717" y2="654.67" stroke="#333" stroke-width="0.6"/>
<text x="721" y="657.17" font-size="6.9" fill="#111">151673</text>
<line x1="712.3" y1="662.25" x2="712.3" y2="670.05" stroke="#555" stroke-width="0.5"/>
<rect x="707.6" y="663.55" width="9.4" height="5.2" fill="#C4183C" stroke="#555" stroke-width="0.45"/>
<line x1="707.6" y1="666.15" x2="717" y2="666.15" stroke="#333" stroke-width="0.6"/>
<text x="721" y="668.65" font-size="6.9" fill="#111">151676</text>
<line x1="712.3" y1="673.73" x2="712.3" y2="681.52" stroke="#555" stroke-width="0.5"/>
<rect x="707.6" y="675.02" width="9.4" height="5.2" fill="#CDBA82" stroke="#555" stroke-width="0.45"/>
<line x1="707.6" y1="677.62" x2="717" y2="677.62" stroke="#333" stroke-width="0.6"/>
<text x="721" y="680.12" font-size="6.9" fill="#111">151509</text>
<line x1="712.3" y1="685.2" x2="712.3" y2="693" stroke="#555" stroke-width="0.5"/>
<rect x="707.6" y="686.5" width="9.4" height="5.2" fill="#8C8C8C" stroke="#555" stroke-width="0.45"/>
<line x1="707.6" y1="689.1" x2="717" y2="689.1" stroke="#333" stroke-width="0.6"/>
<text x="721" y="691.6" font-size="6.9" fill="#111">151508</text>
<line x1="712.3" y1="696.67" x2="712.3" y2="704.47" stroke="#555" stroke-width="0.5"/>
<rect x="707.6" y="697.97" width="9.4" height="5.2" fill="#00945E" stroke="#555" stroke-width="0.45"/>
<line x1="707.6" y1="700.57" x2="717" y2="700.57" stroke="#333" stroke-width="0.6"/>
<text x="721" y="703.07" font-size="6.9" fill="#111">151510</text>
<line x1="712.3" y1="708.15" x2="712.3" y2="715.95" stroke="#555" stroke-width="0.5"/>
<rect x="707.6" y="709.45" width="9.4" height="5.2" fill="#F090B4" stroke="#555" stroke-width="0.45"/>
<line x1="707.6" y1="712.05" x2="717" y2="712.05" stroke="#333" stroke-width="0.6"/>
<text x="721" y="714.55" font-size="6.9" fill="#111">151507</text>
<line x1="712.3" y1="719.62" x2="712.3" y2="727.42" stroke="#555" stroke-width="0.5"/>
<rect x="707.6" y="720.92" width="9.4" height="5.2" fill="#1465B0" stroke="#555" stroke-width="0.45"/>
<line x1="707.6" y1="723.52" x2="717" y2="723.52" stroke="#333" stroke-width="0.6"/>
<text x="721" y="726.02" font-size="6.9" fill="#111">151675</text>
<text x="0" y="0" font-size="11.7" fill="#222" transform="translate(234.8 804.2) scale(0.89 1)">Classification</text>
<circle cx="242.8" cy="820.9" r="1.8" fill="#111"/>
<text x="0" y="0" font-size="9.7" fill="#222" transform="translate(256.8 824.3) scale(0.87 1)">Incorrect</text>
<circle cx="242.8" cy="839.64" r="1.8" fill="#EE7C72"/>
<text x="0" y="0" font-size="9.7" fill="#222" transform="translate(256.8 843.04) scale(0.87 1)">WM</text>
<circle cx="242.8" cy="858.38" r="1.8" fill="#35B08C"/>
<text x="0" y="0" font-size="9.7" fill="#222" transform="translate(256.8 861.78) scale(0.87 1)">Layer_3</text>
<circle cx="242.8" cy="877.12" r="1.8" fill="#25A4E0"/>
<text x="0" y="0" font-size="9.7" fill="#222" transform="translate(256.8 880.52) scale(0.87 1)">Layer_4</text>
<circle cx="242.8" cy="895.86" r="1.8" fill="#9284C2"/>
<text x="0" y="0" font-size="9.7" fill="#222" transform="translate(256.8 899.26) scale(0.87 1)">Layer_5</text>
<circle cx="242.8" cy="914.6" r="1.8" fill="#CE5C9E"/>
<text x="0" y="0" font-size="9.7" fill="#222" transform="translate(256.8 918) scale(0.87 1)">Layer_6</text>
<rect x="314.7" y="783.9" width="147.4" height="150.1" fill="#B1B4B2"/>
<rect x="316.3" y="785.5" width="144.2" height="145.9" fill="none" stroke="#8f918f" stroke-width="0.8" stroke-dasharray="0.7 1.1" opacity="0.7"/>
<clipPath id="mtH"><path d="M350.68 798.19 C353.89 796.58 358.39 794.71 363.53 793.27 C368.67 791.82 377.56 789.49 384.95 788.55 C392.33 787.62 408.29 786.8 412.78 787.06 C417.28 787.31 413.96 790.2 414.93 790.27 C415.89 790.33 417.44 788.32 419.21 787.48 C420.98 786.65 424.46 784.7 426.7 784.7 C428.95 784.7 432.75 786.26 434.2 787.48 C435.65 788.7 436.18 791.07 436.34 792.84 C436.5 794.6 436.23 797.98 435.27 799.26 C434.31 800.55 431.2 800.89 429.92 801.4 C428.63 801.92 426.7 801.4 426.7 802.69 C426.7 803.97 428.47 808.1 429.92 809.97 C431.36 811.83 434.41 814.01 436.34 815.11 C438.27 816.2 440.84 817.38 442.77 817.25 C444.69 817.12 447.2 815.02 449.19 814.25 C451.18 813.48 454.89 810.82 456.04 812.11 C457.2 813.39 456.77 815.04 456.9 822.82 C457.03 830.59 458.38 857.67 456.9 863.93 C455.42 870.19 451.58 864.41 447.05 864.57 C442.52 864.73 430.24 864.74 426.7 865 C423.17 865.26 423.4 865.84 423.49 866.28 C423.59 866.73 423.81 867.48 427.35 868 C430.88 868.51 442.62 869.23 447.05 869.71 C451.48 870.19 455.42 867.97 456.9 871.21 C458.38 874.45 457.22 886.71 456.9 891.34 C456.58 895.96 455.59 899.48 454.76 902.05 C453.92 904.61 452.49 906.99 451.33 908.47 C450.18 909.95 449.3 910.74 447.05 911.9 C444.8 913.05 439.55 915.09 436.34 916.18 C433.13 917.27 429.17 918.24 425.63 919.18 C422.1 920.11 417.28 921.65 412.78 922.39 C408.29 923.13 400.15 923.62 395.65 924.1 C391.16 924.58 387.62 925.6 382.8 925.6 C377.99 925.6 368.99 924.49 363.53 924.1 C358.07 923.72 351.54 923.7 346.4 923.03 C341.26 922.36 332 921.79 329.27 919.6 C326.54 917.42 328.03 913.35 328.2 908.47 C328.36 903.59 329.85 893.48 330.34 887.06 C330.82 880.63 331.25 870.78 331.41 865.64 C331.57 860.5 331.6 855.62 331.41 852.79 C331.21 849.97 331.79 848.12 330.12 846.8 C328.45 845.48 321.27 845.36 320.27 844.02 C319.28 842.67 322.49 839.7 323.48 837.81 C324.48 835.91 325.85 833.31 326.91 831.38 C327.97 829.45 329.3 827.21 330.55 824.96 C331.8 822.71 333.53 819.54 335.26 816.39 C337 813.24 339.8 806.7 342.12 803.97 C344.43 801.24 347.47 799.8 350.68 798.19Z"/></clipPath>
<clipPath id="mtHf"><rect x="314.7" y="783.9" width="147.4" height="150.1"/></clipPath>
<g clip-path="url(#mtHf)">
<path d="M350.68 798.19 C353.89 796.58 358.39 794.71 363.53 793.27 C368.67 791.82 377.56 789.49 384.95 788.55 C392.33 787.62 408.29 786.8 412.78 787.06 C417.28 787.31 413.96 790.2 414.93 790.27 C415.89 790.33 417.44 788.32 419.21 787.48 C420.98 786.65 424.46 784.7 426.7 784.7 C428.95 784.7 432.75 786.26 434.2 787.48 C435.65 788.7 436.18 791.07 436.34 792.84 C436.5 794.6 436.23 797.98 435.27 799.26 C434.31 800.55 431.2 800.89 429.92 801.4 C428.63 801.92 426.7 801.4 426.7 802.69 C426.7 803.97 428.47 808.1 429.92 809.97 C431.36 811.83 434.41 814.01 436.34 815.11 C438.27 816.2 440.84 817.38 442.77 817.25 C444.69 817.12 447.2 815.02 449.19 814.25 C451.18 813.48 454.89 810.82 456.04 812.11 C457.2 813.39 456.77 815.04 456.9 822.82 C457.03 830.59 458.38 857.67 456.9 863.93 C455.42 870.19 451.58 864.41 447.05 864.57 C442.52 864.73 430.24 864.74 426.7 865 C423.17 865.26 423.4 865.84 423.49 866.28 C423.59 866.73 423.81 867.48 427.35 868 C430.88 868.51 442.62 869.23 447.05 869.71 C451.48 870.19 455.42 867.97 456.9 871.21 C458.38 874.45 457.22 886.71 456.9 891.34 C456.58 895.96 455.59 899.48 454.76 902.05 C453.92 904.61 452.49 906.99 451.33 908.47 C450.18 909.95 449.3 910.74 447.05 911.9 C444.8 913.05 439.55 915.09 436.34 916.18 C433.13 917.27 429.17 918.24 425.63 919.18 C422.1 920.11 417.28 921.65 412.78 922.39 C408.29 923.13 400.15 923.62 395.65 924.1 C391.16 924.58 387.62 925.6 382.8 925.6 C377.99 925.6 368.99 924.49 363.53 924.1 C358.07 923.72 351.54 923.7 346.4 923.03 C341.26 922.36 332 921.79 329.27 919.6 C326.54 917.42 328.03 913.35 328.2 908.47 C328.36 903.59 329.85 893.48 330.34 887.06 C330.82 880.63 331.25 870.78 331.41 865.64 C331.57 860.5 331.6 855.62 331.41 852.79 C331.21 849.97 331.79 848.12 330.12 846.8 C328.45 845.48 321.27 845.36 320.27 844.02 C319.28 842.67 322.49 839.7 323.48 837.81 C324.48 835.91 325.85 833.31 326.91 831.38 C327.97 829.45 329.3 827.21 330.55 824.96 C331.8 822.71 333.53 819.54 335.26 816.39 C337 813.24 339.8 806.7 342.12 803.97 C344.43 801.24 347.47 799.8 350.68 798.19Z" fill="#47B094" stroke="#A28CAA" stroke-width="1.1"/>
<g clip-path="url(#mtH)">
<path d="M305.71 891.34 C309.5 881.06 325.52 878.06 330.98 874.21 C336.44 870.35 338.84 867.63 342.12 865.64 C345.39 863.65 348.97 862.06 352.82 860.93 C356.68 859.81 363.32 858.34 367.81 858.15 C372.31 857.96 378.63 858.84 382.8 859.65 C386.98 860.45 391.48 861.8 395.65 863.5 C399.83 865.2 406.15 868.59 410.64 871 C415.14 873.4 421.46 876.99 425.63 879.56 C429.81 882.13 434.95 885.56 438.48 888.13 C442.02 890.7 446.88 894.28 449.19 896.69 C451.5 899.1 450.37 899.21 453.9 904.19 C457.44 909.17 469.92 924.1 472.75 929.88 C475.57 935.66 497.8 940.8 472.75 942.73 C447.69 944.66 330.77 950.44 305.71 942.73 C280.65 935.02 301.92 901.62 305.71 891.34Z" fill="#3FA8E2"/>
<path d="M305.71 904.19 C309.4 895.84 325.2 890.75 330.34 887.06 C335.48 883.36 336.6 881.49 339.97 879.56 C343.35 877.63 348.65 875.49 352.82 874.21 C357 872.92 363.32 871.32 367.81 871 C372.31 870.67 378.63 871.26 382.8 872.07 C386.98 872.87 391.48 874.58 395.65 876.35 C399.83 878.12 406.15 881.43 410.64 883.84 C415.14 886.25 421.46 889.84 425.63 892.41 C429.81 894.98 435.27 898.41 438.48 900.97 C441.7 903.54 443.84 905.85 447.05 909.54 C450.26 913.23 456.04 920.62 459.9 925.6 C463.75 930.58 495.88 940.16 472.75 942.73 C449.62 945.3 330.77 948.51 305.71 942.73 C280.65 936.95 302.02 912.54 305.71 904.19Z" fill="#957BC4"/>
<path d="M305.71 934.17 C309.18 929.83 324.02 918.32 328.84 913.82 C333.66 909.33 334.56 906.92 337.83 904.19 C341.11 901.46 346.51 897.71 350.68 895.62 C354.86 893.53 361.17 891.23 365.67 890.27 C370.17 889.3 376.17 888.88 380.66 889.2 C385.16 889.52 391.16 890.8 395.65 892.41 C400.15 894.02 406.15 897.49 410.64 899.9 C415.14 902.31 421.78 906.06 425.63 908.47 C429.49 910.88 431.84 910.82 436.34 915.96 C440.84 921.1 475.21 938.72 455.62 942.73 C436.02 946.75 328.2 944.02 305.71 942.73 C283.22 941.45 302.24 938.5 305.71 934.17Z" fill="#D46CB0"/>
<path d="M342.12 942.73 C331.68 939.78 345.86 927.21 347.47 923.03 C349.07 918.85 350.41 917.08 352.82 914.89 C355.23 912.71 359.68 909.91 363.53 908.47 C367.38 907.02 374.02 905.42 378.52 905.26 C383.02 905.1 389.66 906.11 393.51 907.4 C397.37 908.68 401.49 911.57 404.22 913.82 C406.95 916.07 409.79 918.05 411.71 922.39 C413.64 926.72 427.51 939.68 417.07 942.73 C406.63 945.78 352.55 945.69 342.12 942.73Z" fill="#EC7A70"/>
<rect x="314.7" y="783.9" width="147.4" height="150.1" fill="url(#pdots)"/>
</g>
<circle cx="434.84" cy="798.62" r="0.95" fill="#111"/>
<circle cx="368.24" cy="858.79" r="0.95" fill="#111"/>
<circle cx="370.38" cy="858.79" r="0.95" fill="#111"/>
<circle cx="351.75" cy="862.43" r="0.95" fill="#111"/>
<circle cx="357.53" cy="862" r="0.95" fill="#111"/>
<circle cx="359.68" cy="863.07" r="0.95" fill="#111"/>
<circle cx="360.75" cy="864.57" r="0.95" fill="#111"/>
<circle cx="379.59" cy="860.93" r="0.95" fill="#111"/>
<circle cx="383.87" cy="860.93" r="0.95" fill="#111"/>
<circle cx="391.37" cy="862.43" r="0.95" fill="#111"/>
<circle cx="393.94" cy="863.5" r="0.95" fill="#111"/>
<circle cx="378.52" cy="866.71" r="0.95" fill="#111"/>
<circle cx="374.24" cy="868.21" r="0.95" fill="#111"/>
<circle cx="366.74" cy="870.35" r="0.95" fill="#111"/>
<circle cx="360.75" cy="872.07" r="0.95" fill="#111"/>
<circle cx="355.39" cy="874.21" r="0.95" fill="#111"/>
<circle cx="350.25" cy="872.49" r="0.95" fill="#111"/>
<circle cx="349.61" cy="875.28" r="0.95" fill="#111"/>
<circle cx="341.47" cy="876.78" r="0.95" fill="#111"/>
<circle cx="338.47" cy="876.78" r="0.95" fill="#111"/>
<circle cx="337.83" cy="879.56" r="0.95" fill="#111"/>
<circle cx="330.77" cy="884.91" r="0.95" fill="#111"/>
<circle cx="327.12" cy="880.2" r="0.95" fill="#111"/>
<circle cx="382.16" cy="869.5" r="0.95" fill="#111"/>
<circle cx="387.52" cy="871" r="0.95" fill="#111"/>
<circle cx="386.02" cy="873.14" r="0.95" fill="#111"/>
<circle cx="392.44" cy="872.49" r="0.95" fill="#111"/>
<circle cx="396.72" cy="868.21" r="0.95" fill="#111"/>
<circle cx="402.08" cy="867.36" r="0.95" fill="#111"/>
<circle cx="404.65" cy="868.21" r="0.95" fill="#111"/>
<circle cx="409.57" cy="872.07" r="0.95" fill="#111"/>
<circle cx="398.87" cy="876.78" r="0.95" fill="#111"/>
<circle cx="406.36" cy="878.92" r="0.95" fill="#111"/>
<circle cx="412.36" cy="874.21" r="0.95" fill="#111"/>
<circle cx="414.5" cy="877.42" r="0.95" fill="#111"/>
<circle cx="418.14" cy="884.49" r="0.95" fill="#111"/>
<circle cx="423.49" cy="878.92" r="0.95" fill="#111"/>
<circle cx="425.63" cy="878.92" r="0.95" fill="#111"/>
<circle cx="428.85" cy="882.77" r="0.95" fill="#111"/>
<circle cx="427.78" cy="885.99" r="0.95" fill="#111"/>
<circle cx="425.63" cy="886.63" r="0.95" fill="#111"/>
<circle cx="437.41" cy="883.2" r="0.95" fill="#111"/>
<circle cx="436.34" cy="884.91" r="0.95" fill="#111"/>
<circle cx="441.05" cy="889.2" r="0.95" fill="#111"/>
<circle cx="448.12" cy="894.55" r="0.95" fill="#111"/>
<circle cx="438.91" cy="896.69" r="0.95" fill="#111"/>
<circle cx="442.77" cy="897.76" r="0.95" fill="#111"/>
<circle cx="432.06" cy="897.76" r="0.95" fill="#111"/>
<circle cx="445.98" cy="902.47" r="0.95" fill="#111"/>
<circle cx="373.81" cy="888.13" r="0.95" fill="#111"/>
<circle cx="378.09" cy="888.13" r="0.95" fill="#111"/>
<circle cx="389.23" cy="890.27" r="0.95" fill="#111"/>
<circle cx="394.58" cy="891.98" r="0.95" fill="#111"/>
<circle cx="402.08" cy="893.91" r="0.95" fill="#111"/>
<circle cx="405.72" cy="893.91" r="0.95" fill="#111"/>
<circle cx="406.79" cy="896.69" r="0.95" fill="#111"/>
<circle cx="416" cy="899.9" r="0.95" fill="#111"/>
<circle cx="420.28" cy="903.76" r="0.95" fill="#111"/>
<circle cx="427.78" cy="905.9" r="0.95" fill="#111"/>
<circle cx="430.99" cy="908.04" r="0.95" fill="#111"/>
<circle cx="355.39" cy="894.55" r="0.95" fill="#111"/>
<circle cx="352.18" cy="896.69" r="0.95" fill="#111"/>
<circle cx="349.61" cy="899.9" r="0.95" fill="#111"/>
<circle cx="382.8" cy="905.9" r="0.95" fill="#111"/>
<circle cx="381.09" cy="909.54" r="0.95" fill="#111"/>
<circle cx="392.44" cy="908.04" r="0.95" fill="#111"/>
<circle cx="394.58" cy="911.68" r="0.95" fill="#111"/>
<circle cx="356.68" cy="911.68" r="0.95" fill="#111"/>
<circle cx="359.68" cy="913.82" r="0.95" fill="#111"/>
<circle cx="354.96" cy="914.89" r="0.95" fill="#111"/>
<circle cx="351.75" cy="915.96" r="0.95" fill="#111"/>
<circle cx="353.89" cy="917.03" r="0.95" fill="#111"/>
<circle cx="351.75" cy="918.75" r="0.95" fill="#111"/>
<circle cx="349.18" cy="921.32" r="0.95" fill="#111"/>
<circle cx="411.71" cy="920.25" r="0.95" fill="#111"/>
<circle cx="412.36" cy="921.75" r="0.95" fill="#111"/>
<circle cx="330.98" cy="919.6" r="0.95" fill="#111"/>
<circle cx="332.91" cy="919.6" r="0.95" fill="#111"/>
<ellipse cx="348.54" cy="804.19" rx="4.5" ry="1.71" fill="#B1B4B2" transform="rotate(-22 348.54 804.19)"/>
<path d="M410.64 791.12 C411.71 791.48 414.93 792.12 417.07 793.27 C419.21 794.41 421.78 796.48 423.49 797.98 C425.21 799.48 426.7 801.55 427.35 802.26" fill="none" stroke="#B1B4B2" stroke-width="0.9" opacity="0.8"/>
<ellipse cx="324.55" cy="859.65" rx="2.36" ry="4.07" fill="#A78EB0" opacity="0.75"/>
<ellipse cx="326.27" cy="854.51" rx="1.28" ry="1.93" fill="#A78EB0" opacity="0.75"/>
<ellipse cx="335.69" cy="926.46" rx="5.57" ry="1.5" fill="#A78EB0" opacity="0.75"/>
<ellipse cx="346.4" cy="928.17" rx="3" ry="1.07" fill="#A78EB0" opacity="0.75"/>
<ellipse cx="322.84" cy="850.22" rx="1.07" ry="1.28" fill="#A78EB0" opacity="0.75"/>
</g>
</svg>
</body></html>
